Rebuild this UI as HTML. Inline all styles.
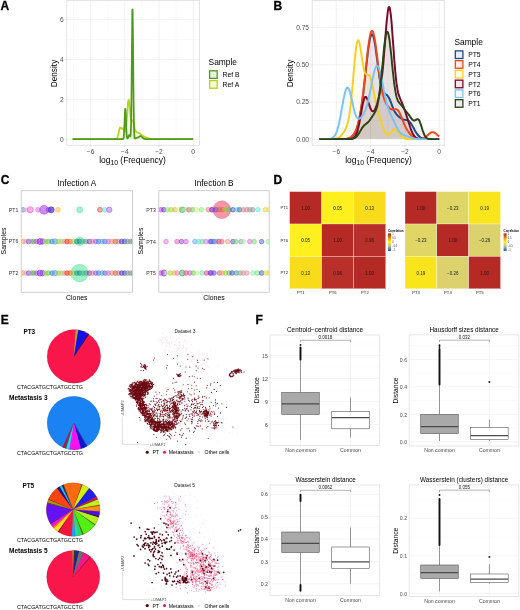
<!DOCTYPE html>
<html lang="en"><head><meta charset="utf-8"><title>Figure</title>
<style>
html,body{margin:0;padding:0;background:#fff;}
svg{display:block;font-family:"Liberation Sans", sans-serif;}
</style></head><body>
<svg width="520" height="610" viewBox="0 0 520 610">
<rect width="520" height="610" fill="#fff"/>
<text x="0.6" y="9.9" font-size="12" font-weight="bold" stroke="#000" stroke-width="0.3">A</text>
<line x1="73.5" y1="0.5" x2="73.5" y2="145.3" stroke="#f5f5f5" stroke-width="0.5"/>
<line x1="107.7" y1="0.5" x2="107.7" y2="145.3" stroke="#f5f5f5" stroke-width="0.5"/>
<line x1="141.9" y1="0.5" x2="141.9" y2="145.3" stroke="#f5f5f5" stroke-width="0.5"/>
<line x1="176.1" y1="0.5" x2="176.1" y2="145.3" stroke="#f5f5f5" stroke-width="0.5"/>
<line x1="66.8" y1="119.2" x2="199.6" y2="119.2" stroke="#f5f5f5" stroke-width="0.5"/>
<line x1="66.8" y1="79.4" x2="199.6" y2="79.4" stroke="#f5f5f5" stroke-width="0.5"/>
<line x1="66.8" y1="39.6" x2="199.6" y2="39.6" stroke="#f5f5f5" stroke-width="0.5"/>
<line x1="66.8" y1="-0.2" x2="199.6" y2="-0.2" stroke="#f5f5f5" stroke-width="0.5"/>
<line x1="90.6" y1="0.5" x2="90.6" y2="145.3" stroke="#eeeeee" stroke-width="0.8"/>
<line x1="124.8" y1="0.5" x2="124.8" y2="145.3" stroke="#eeeeee" stroke-width="0.8"/>
<line x1="159" y1="0.5" x2="159" y2="145.3" stroke="#eeeeee" stroke-width="0.8"/>
<line x1="193.2" y1="0.5" x2="193.2" y2="145.3" stroke="#eeeeee" stroke-width="0.8"/>
<line x1="66.8" y1="139.1" x2="199.6" y2="139.1" stroke="#eeeeee" stroke-width="0.8"/>
<line x1="66.8" y1="99.3" x2="199.6" y2="99.3" stroke="#eeeeee" stroke-width="0.8"/>
<line x1="66.8" y1="59.5" x2="199.6" y2="59.5" stroke="#eeeeee" stroke-width="0.8"/>
<line x1="66.8" y1="19.7" x2="199.6" y2="19.7" stroke="#eeeeee" stroke-width="0.8"/>
<clipPath id="cA"><rect x="66.8" y="0.5" width="132.8" height="144.8"/></clipPath>
<g clip-path="url(#cA)">
<polygon points="72.6,139.1 115.1,139.1 115.4,139 115.7,139 116,138.9 116.3,138.8 116.6,138.6 116.8,138.3 117.1,137.9 117.4,137.3 117.7,136.5 118,135.5 118.3,134.3 118.6,133.1 118.9,131.7 119.1,130.4 119.4,129.3 119.7,128.3 120,127.7 120.3,127.5 120.6,127.5 120.9,127.8 121.2,128.2 121.4,128.6 121.7,128.9 122,129 122.3,128.9 122.6,128.7 122.9,128.4 123.2,128.2 123.5,128.2 123.7,128.5 124,129 124.3,129.7 124.6,130.4 124.9,131.1 125.2,131.4 125.5,131.2 125.7,130.3 126,128.6 126.3,126.1 126.6,122.8 126.9,118.8 127.2,114.4 127.5,110.1 127.8,106.1 128,102.8 128.3,100.7 128.6,99.8 128.9,100.2 129.2,101.8 129.5,104.3 129.8,107.4 130.1,110.5 130.3,113.5 130.6,116 130.9,117.9 131.2,119.1 131.5,119.9 131.8,120.3 132.1,120.4 132.3,120.6 132.6,120.8 132.9,121.3 133.2,122 133.5,122.9 133.8,124 134.1,125.2 134.4,126.5 134.6,127.7 134.9,128.8 135.2,129.7 135.5,130.5 135.8,131.1 136.1,131.6 136.4,131.9 136.7,132.2 136.9,132.3 137.2,132.4 137.5,132.5 137.8,132.6 138.1,132.7 138.4,132.8 138.7,132.9 139,133 139.2,133.2 139.5,133.4 139.8,133.6 140.1,133.8 140.4,134 140.7,134.3 141,134.5 141.2,134.8 141.5,135 141.8,135.2 142.1,135.4 142.4,135.6 142.7,135.8 143,136 143.3,136.2 143.5,136.3 143.8,136.5 144.1,136.6 144.4,136.7 144.7,136.9 145,137 145.3,137.1 145.6,137.2 145.8,137.3 146.1,137.5 146.4,137.6 146.7,137.7 147,137.8 147.3,138 147.6,138.1 147.8,138.2 148.1,138.3 148.4,138.4 148.7,138.5 149,138.6 149.3,138.7 149.6,138.8 149.9,138.8 150.1,138.9 150.4,138.9 150.7,139 151.9,139 152.2,139.1 193.2,139.1" fill="#b8d416" fill-opacity="0.1" stroke="none"/>
<polygon points="72.6,139.1 122.6,139.1 122.9,139 123.2,138.9 123.5,138.3 123.7,136.9 124,133.9 124.3,128.5 124.6,121.2 124.9,113.7 125.2,108.9 125.5,109 125.7,113.9 126,121.4 126.3,128.7 126.6,133.9 126.9,136.9 127.2,138.1 127.5,138.4 127.8,138.2 128,137.6 128.3,136.9 128.6,136.1 128.9,135.4 129.2,135.1 129.5,135.3 129.8,135.7 130.1,136.3 130.3,136.4 130.6,134.9 130.9,129.4 131.2,116.7 131.5,94.3 131.8,63.1 132.1,30.8 132.3,9.8 132.6,9.5 132.9,30.2 133.2,62.4 133.5,93.7 133.8,116.6 134.1,129.6 134.4,135.6 134.6,137.8 134.9,138.5 135.2,138.5 135.5,138.4 135.8,138.3 136.1,138.1 136.4,138 136.7,137.9 136.9,137.8 137.2,137.7 137.5,137.6 137.8,137.5 138.1,137.4 138.4,137.3 138.7,137.1 139,136.9 139.2,136.7 139.5,136.5 139.8,136.3 140.1,136.2 140.4,136.1 140.7,136.1 141,136.2 141.2,136.4 141.5,136.6 141.8,136.9 142.1,137.1 142.4,137.5 142.7,137.7 143,138 143.3,138.3 143.5,138.5 143.8,138.6 144.1,138.8 144.4,138.9 144.7,138.9 145,139 145.3,139 145.6,139.1 193.2,139.1" fill="#4f9a1c" fill-opacity="0.1" stroke="none"/>
<polyline points="72.6,139.1 115.1,139.1 115.4,139 115.7,139 116,138.9 116.3,138.8 116.6,138.6 116.8,138.3 117.1,137.9 117.4,137.3 117.7,136.5 118,135.5 118.3,134.3 118.6,133.1 118.9,131.7 119.1,130.4 119.4,129.3 119.7,128.3 120,127.7 120.3,127.5 120.6,127.5 120.9,127.8 121.2,128.2 121.4,128.6 121.7,128.9 122,129 122.3,128.9 122.6,128.7 122.9,128.4 123.2,128.2 123.5,128.2 123.7,128.5 124,129 124.3,129.7 124.6,130.4 124.9,131.1 125.2,131.4 125.5,131.2 125.7,130.3 126,128.6 126.3,126.1 126.6,122.8 126.9,118.8 127.2,114.4 127.5,110.1 127.8,106.1 128,102.8 128.3,100.7 128.6,99.8 128.9,100.2 129.2,101.8 129.5,104.3 129.8,107.4 130.1,110.5 130.3,113.5 130.6,116 130.9,117.9 131.2,119.1 131.5,119.9 131.8,120.3 132.1,120.4 132.3,120.6 132.6,120.8 132.9,121.3 133.2,122 133.5,122.9 133.8,124 134.1,125.2 134.4,126.5 134.6,127.7 134.9,128.8 135.2,129.7 135.5,130.5 135.8,131.1 136.1,131.6 136.4,131.9 136.7,132.2 136.9,132.3 137.2,132.4 137.5,132.5 137.8,132.6 138.1,132.7 138.4,132.8 138.7,132.9 139,133 139.2,133.2 139.5,133.4 139.8,133.6 140.1,133.8 140.4,134 140.7,134.3 141,134.5 141.2,134.8 141.5,135 141.8,135.2 142.1,135.4 142.4,135.6 142.7,135.8 143,136 143.3,136.2 143.5,136.3 143.8,136.5 144.1,136.6 144.4,136.7 144.7,136.9 145,137 145.3,137.1 145.6,137.2 145.8,137.3 146.1,137.5 146.4,137.6 146.7,137.7 147,137.8 147.3,138 147.6,138.1 147.8,138.2 148.1,138.3 148.4,138.4 148.7,138.5 149,138.6 149.3,138.7 149.6,138.8 149.9,138.8 150.1,138.9 150.4,138.9 150.7,139 151.9,139 152.2,139.1 193.2,139.1" fill="none" stroke="#b8d416" stroke-width="1.75" stroke-linejoin="round"/>
<polyline points="72.6,139.1 122.6,139.1 122.9,139 123.2,138.9 123.5,138.3 123.7,136.9 124,133.9 124.3,128.5 124.6,121.2 124.9,113.7 125.2,108.9 125.5,109 125.7,113.9 126,121.4 126.3,128.7 126.6,133.9 126.9,136.9 127.2,138.1 127.5,138.4 127.8,138.2 128,137.6 128.3,136.9 128.6,136.1 128.9,135.4 129.2,135.1 129.5,135.3 129.8,135.7 130.1,136.3 130.3,136.4 130.6,134.9 130.9,129.4 131.2,116.7 131.5,94.3 131.8,63.1 132.1,30.8 132.3,9.8 132.6,9.5 132.9,30.2 133.2,62.4 133.5,93.7 133.8,116.6 134.1,129.6 134.4,135.6 134.6,137.8 134.9,138.5 135.2,138.5 135.5,138.4 135.8,138.3 136.1,138.1 136.4,138 136.7,137.9 136.9,137.8 137.2,137.7 137.5,137.6 137.8,137.5 138.1,137.4 138.4,137.3 138.7,137.1 139,136.9 139.2,136.7 139.5,136.5 139.8,136.3 140.1,136.2 140.4,136.1 140.7,136.1 141,136.2 141.2,136.4 141.5,136.6 141.8,136.9 142.1,137.1 142.4,137.5 142.7,137.7 143,138 143.3,138.3 143.5,138.5 143.8,138.6 144.1,138.8 144.4,138.9 144.7,138.9 145,139 145.3,139 145.6,139.1 193.2,139.1" fill="none" stroke="#4f9a1c" stroke-width="1.75" stroke-linejoin="round"/>
</g>
<rect x="66.8" y="0.5" width="132.8" height="144.8" fill="none" stroke="#dedede" stroke-width="0.8"/>
<line x1="90.6" y1="145.3" x2="90.6" y2="146.9" stroke="#c8c8c8" stroke-width="0.6"/>
<text x="90.6" y="153.5" font-size="6.6" text-anchor="middle" fill="#4d4d4d">−6</text>
<line x1="124.8" y1="145.3" x2="124.8" y2="146.9" stroke="#c8c8c8" stroke-width="0.6"/>
<text x="124.8" y="153.5" font-size="6.6" text-anchor="middle" fill="#4d4d4d">−4</text>
<line x1="159" y1="145.3" x2="159" y2="146.9" stroke="#c8c8c8" stroke-width="0.6"/>
<text x="159" y="153.5" font-size="6.6" text-anchor="middle" fill="#4d4d4d">−2</text>
<line x1="193.2" y1="145.3" x2="193.2" y2="146.9" stroke="#c8c8c8" stroke-width="0.6"/>
<text x="193.2" y="153.5" font-size="6.6" text-anchor="middle" fill="#4d4d4d">0</text>
<line x1="65.2" y1="139.1" x2="66.8" y2="139.1" stroke="#c8c8c8" stroke-width="0.6"/>
<text x="63.6" y="141.5" font-size="6.6" text-anchor="end" fill="#4d4d4d">0</text>
<line x1="65.2" y1="99.3" x2="66.8" y2="99.3" stroke="#c8c8c8" stroke-width="0.6"/>
<text x="63.6" y="101.7" font-size="6.6" text-anchor="end" fill="#4d4d4d">2</text>
<line x1="65.2" y1="59.5" x2="66.8" y2="59.5" stroke="#c8c8c8" stroke-width="0.6"/>
<text x="63.6" y="61.9" font-size="6.6" text-anchor="end" fill="#4d4d4d">4</text>
<line x1="65.2" y1="19.7" x2="66.8" y2="19.7" stroke="#c8c8c8" stroke-width="0.6"/>
<text x="63.6" y="22.1" font-size="6.6" text-anchor="end" fill="#4d4d4d">6</text>
<text x="57.3" y="73.5" font-size="8.3" text-anchor="middle" transform="rotate(-90 57.3 73.5)">Density</text>
<text x="132.5" y="163.2" font-size="8.45" text-anchor="middle">log<tspan font-size="6.8" dy="2.2">10</tspan><tspan dy="-2.2"> (Frequency)</tspan></text>
<text x="208.6" y="64.6" font-size="8.4">Sample</text>
<rect x="209.6" y="70.8" width="7.6" height="7.6" fill="#4f9a1c22" stroke="#4f9a1c" stroke-width="1.3"/>
<text x="222.6" y="77.2" font-size="6.8">Ref B</text>
<rect x="209.6" y="80.6" width="7.6" height="7.6" fill="#b8d41622" stroke="#b8d416" stroke-width="1.3"/>
<text x="222.6" y="87" font-size="6.8">Ref A</text>
<text x="273.5" y="9.9" font-size="12" font-weight="bold" stroke="#000" stroke-width="0.3">B</text>
<line x1="319.15" y1="0.5" x2="319.15" y2="145.3" stroke="#f5f5f5" stroke-width="0.5"/>
<line x1="353.45" y1="0.5" x2="353.45" y2="145.3" stroke="#f5f5f5" stroke-width="0.5"/>
<line x1="387.75" y1="0.5" x2="387.75" y2="145.3" stroke="#f5f5f5" stroke-width="0.5"/>
<line x1="422.05" y1="0.5" x2="422.05" y2="145.3" stroke="#f5f5f5" stroke-width="0.5"/>
<line x1="312.2" y1="120.52" x2="444.6" y2="120.52" stroke="#f5f5f5" stroke-width="0.5"/>
<line x1="312.2" y1="83.38" x2="444.6" y2="83.38" stroke="#f5f5f5" stroke-width="0.5"/>
<line x1="312.2" y1="46.22" x2="444.6" y2="46.22" stroke="#f5f5f5" stroke-width="0.5"/>
<line x1="312.2" y1="9.07" x2="444.6" y2="9.07" stroke="#f5f5f5" stroke-width="0.5"/>
<line x1="336.3" y1="0.5" x2="336.3" y2="145.3" stroke="#eeeeee" stroke-width="0.8"/>
<line x1="370.6" y1="0.5" x2="370.6" y2="145.3" stroke="#eeeeee" stroke-width="0.8"/>
<line x1="404.9" y1="0.5" x2="404.9" y2="145.3" stroke="#eeeeee" stroke-width="0.8"/>
<line x1="439.2" y1="0.5" x2="439.2" y2="145.3" stroke="#eeeeee" stroke-width="0.8"/>
<line x1="312.2" y1="139.1" x2="444.6" y2="139.1" stroke="#eeeeee" stroke-width="0.8"/>
<line x1="312.2" y1="101.95" x2="444.6" y2="101.95" stroke="#eeeeee" stroke-width="0.8"/>
<line x1="312.2" y1="64.8" x2="444.6" y2="64.8" stroke="#eeeeee" stroke-width="0.8"/>
<line x1="312.2" y1="27.65" x2="444.6" y2="27.65" stroke="#eeeeee" stroke-width="0.8"/>
<clipPath id="cB"><rect x="312.2" y="0.5" width="132.4" height="144.8"/></clipPath>
<g clip-path="url(#cB)">
<polygon points="319.2,139.1 344,139.1 344.3,139 346,139 346.3,138.9 346.9,138.9 347.2,138.8 347.4,138.8 347.7,138.7 348,138.7 348.3,138.6 348.6,138.5 348.9,138.5 349.2,138.4 349.4,138.3 349.7,138.2 350,138 350.3,137.9 350.6,137.7 350.9,137.6 351.2,137.4 351.4,137.2 351.7,137 352,136.7 352.3,136.5 352.6,136.2 352.9,135.9 353.2,135.5 353.4,135.2 353.7,134.8 354,134.4 354.3,133.9 354.6,133.4 354.9,132.9 355.2,132.4 355.5,131.8 355.7,131.2 356,130.5 356.3,129.8 356.6,129 356.9,128.2 357.2,127.3 357.5,126.4 357.7,125.5 358,124.4 358.3,123.3 358.6,122.2 358.9,121 359.2,119.7 359.5,118.4 359.7,117 360,115.5 360.3,113.9 360.6,112.3 360.9,110.6 361.2,108.8 361.5,107 361.7,105 362,103 362.3,100.9 362.6,98.8 362.9,96.6 363.2,94.3 363.5,91.9 363.7,89.5 364,87 364.3,84.5 364.6,82 364.9,79.4 365.2,76.7 365.5,74.1 365.7,71.5 366,68.8 366.3,66.2 366.6,63.6 366.9,61 367.2,58.5 367.5,56.1 367.7,53.7 368,51.4 368.3,49.2 368.6,47.1 368.9,45.2 369.2,43.3 369.5,41.6 369.7,40.1 370,38.8 370.3,37.6 370.6,36.5 370.9,35.7 371.2,35.1 371.5,34.6 371.7,34.4 372,34.3 372.3,34.4 372.6,34.8 372.9,35.3 373.2,36 373.5,36.9 373.7,37.9 374,39.2 374.3,40.6 374.6,42.1 374.9,43.8 375.2,45.5 375.5,47.4 375.7,49.4 376,51.5 376.3,53.6 376.6,55.8 376.9,58 377.2,60.2 377.5,62.5 377.7,64.7 378,66.9 378.3,69.1 378.6,71.2 378.9,73.2 379.2,75.2 379.5,77.1 379.7,78.9 380,80.6 380.3,82.2 380.6,83.7 380.9,85.1 381.2,86.3 381.5,87.5 381.7,88.5 382,89.4 382.3,90.2 382.6,91 382.9,91.6 383.2,92.1 383.5,92.6 383.7,92.9 384,93.2 384.3,93.5 384.6,93.7 384.9,93.9 385.2,94.1 385.5,94.2 385.7,94.4 386,94.5 386.3,94.7 386.6,94.9 386.9,95.1 387.2,95.3 387.5,95.6 387.8,95.9 388,96.3 388.3,96.7 388.6,97.2 388.9,97.7 389.2,98.3 389.5,98.9 389.8,99.5 390,100.2 390.3,100.9 390.6,101.6 390.9,102.4 391.2,103.2 391.5,103.9 391.8,104.7 392,105.5 392.3,106.2 392.6,107 392.9,107.7 393.2,108.4 393.5,109.1 393.8,109.7 394,110.3 394.3,110.9 394.6,111.4 394.9,112 395.2,112.4 395.5,112.9 395.8,113.3 396,113.7 396.3,114.1 396.6,114.4 396.9,114.8 397.2,115.1 397.5,115.4 397.8,115.6 398,115.9 398.3,116.2 398.6,116.4 398.9,116.7 399.2,116.9 399.5,117.1 399.8,117.4 400,117.6 400.3,117.8 400.6,118 400.9,118.2 401.2,118.4 401.5,118.5 401.8,118.7 402,118.9 402.3,119 402.6,119.1 402.9,119.3 403.2,119.4 403.5,119.5 403.8,119.5 404,119.6 404.3,119.7 404.6,119.7 404.9,119.8 405.2,119.8 405.5,119.9 406,119.9 406.3,120 406.6,120.1 406.9,120.1 407.2,120.2 407.5,120.3 407.8,120.4 408,120.6 408.3,120.7 408.6,120.9 408.9,121.1 409.2,121.4 409.5,121.6 409.8,121.9 410,122.3 410.3,122.6 410.6,123 410.9,123.4 411.2,123.8 411.5,124.2 411.8,124.7 412,125.2 412.3,125.7 412.6,126.2 412.9,126.7 413.2,127.2 413.5,127.7 413.8,128.3 414,128.8 414.3,129.3 414.6,129.9 414.9,130.4 415.2,130.9 415.5,131.4 415.8,131.9 416,132.3 416.3,132.8 416.6,133.2 416.9,133.7 417.2,134.1 417.5,134.5 417.8,134.8 418,135.2 418.3,135.5 418.6,135.8 418.9,136.1 419.2,136.4 419.5,136.6 419.8,136.9 420,137.1 420.3,137.3 420.6,137.5 420.9,137.7 421.2,137.8 421.5,137.9 421.8,138.1 422,138.2 422.3,138.3 422.6,138.4 422.9,138.5 423.2,138.6 423.5,138.6 423.8,138.7 424.1,138.7 424.3,138.8 424.6,138.8 424.9,138.9 425.5,138.9 425.8,139 427.5,139 427.8,139.1 439.2,139.1" fill="#1b4a8a" fill-opacity="0.07" stroke="none"/>
<polygon points="319.2,139.1 342.9,139.1 343.2,139 344.9,139 345.2,138.9 345.7,138.9 346,138.8 346.6,138.8 346.9,138.7 347.2,138.6 347.4,138.6 347.7,138.5 348,138.4 348.3,138.3 348.6,138.3 348.9,138.1 349.2,138 349.4,137.9 349.7,137.8 350,137.6 350.3,137.5 350.6,137.3 350.9,137.1 351.2,136.9 351.4,136.6 351.7,136.4 352,136.1 352.3,135.9 352.6,135.5 352.9,135.2 353.2,134.9 353.4,134.5 353.7,134.1 354,133.7 354.3,133.2 354.6,132.7 354.9,132.2 355.2,131.7 355.5,131.1 355.7,130.4 356,129.8 356.3,129.1 356.6,128.3 356.9,127.5 357.2,126.7 357.5,125.7 357.7,124.8 358,123.8 358.3,122.7 358.6,121.5 358.9,120.3 359.2,119 359.5,117.7 359.7,116.3 360,114.7 360.3,113.2 360.6,111.5 360.9,109.7 361.2,107.9 361.5,106 361.7,104 362,101.9 362.3,99.8 362.6,97.5 362.9,95.2 363.2,92.8 363.5,90.4 363.7,87.9 364,85.3 364.3,82.7 364.6,80 364.9,77.4 365.2,74.6 365.5,71.9 365.7,69.2 366,66.5 366.3,63.8 366.6,61.1 366.9,58.4 367.2,55.9 367.5,53.3 367.7,50.9 368,48.5 368.3,46.3 368.6,44.2 368.9,42.1 369.2,40.3 369.5,38.5 369.7,37 370,35.6 370.3,34.3 370.6,33.3 370.9,32.4 371.2,31.7 371.5,31.2 371.7,30.9 372,30.9 372.3,31 372.6,31.3 372.9,31.7 373.2,32.4 373.5,33.3 373.7,34.3 374,35.5 374.3,36.9 374.6,38.4 374.9,40 375.2,41.8 375.5,43.7 375.7,45.7 376,47.8 376.3,49.9 376.6,52.2 376.9,54.4 377.2,56.7 377.5,59.1 377.7,61.4 378,63.8 378.3,66.1 378.6,68.4 378.9,70.6 379.2,72.8 379.5,75 379.7,77.1 380,79.1 380.3,81.1 380.6,82.9 380.9,84.7 381.2,86.4 381.5,88 381.7,89.5 382,90.9 382.3,92.2 382.6,93.5 382.9,94.6 383.2,95.7 383.5,96.7 383.7,97.7 384,98.5 384.3,99.3 384.6,100.1 384.9,100.8 385.2,101.4 385.5,102 385.7,102.6 386,103.2 386.3,103.7 386.6,104.2 386.9,104.6 387.2,105.1 387.5,105.5 387.8,105.9 388,106.3 388.3,106.6 388.6,107 388.9,107.3 389.2,107.7 389.5,108 389.8,108.2 390,108.5 390.3,108.7 390.6,108.9 390.9,109.1 391.2,109.2 391.5,109.4 391.8,109.5 392,109.5 392.3,109.6 393.5,109.6 393.8,109.5 394,109.5 394.3,109.4 394.6,109.4 394.9,109.3 395.2,109.3 395.5,109.2 395.8,109.2 396,109.3 396.3,109.3 396.6,109.4 396.9,109.5 397.2,109.7 397.5,109.9 397.8,110.2 398,110.4 398.3,110.8 398.6,111.2 398.9,111.6 399.2,112.1 399.5,112.6 399.8,113.2 400,113.7 400.3,114.4 400.6,115 400.9,115.7 401.2,116.4 401.5,117.1 401.8,117.8 402,118.6 402.3,119.3 402.6,120.1 402.9,120.8 403.2,121.5 403.5,122.2 403.8,122.9 404,123.6 404.3,124.3 404.6,124.9 404.9,125.6 405.2,126.2 405.5,126.8 405.8,127.3 406,127.9 406.3,128.4 406.6,128.9 406.9,129.4 407.2,129.9 407.5,130.4 407.8,130.8 408,131.2 408.3,131.7 408.6,132.1 408.9,132.5 409.2,132.8 409.5,133.2 409.8,133.6 410,133.9 410.3,134.3 410.6,134.6 410.9,134.9 411.2,135.2 411.5,135.5 411.8,135.8 412,136 412.3,136.3 412.6,136.5 412.9,136.8 413.2,137 413.5,137.2 413.8,137.4 414,137.6 414.3,137.7 414.6,137.9 414.9,138 415.2,138.1 415.5,138.2 415.8,138.3 416,138.4 416.3,138.5 416.6,138.6 416.9,138.7 417.2,138.7 417.5,138.8 418,138.8 418.3,138.9 420,138.9 420.3,138.8 421.2,138.8 421.5,138.7 421.8,138.6 422,138.6 422.3,138.5 422.6,138.4 422.9,138.3 423.2,138.2 423.5,138.1 423.8,138 424.1,137.9 424.3,137.7 424.6,137.6 424.9,137.4 425.2,137.2 425.5,137 425.8,136.8 426.1,136.6 426.3,136.4 426.6,136.1 426.9,135.9 427.2,135.6 427.5,135.4 427.8,135.1 428.1,134.9 428.3,134.6 428.6,134.3 428.9,134.1 429.2,133.8 429.5,133.6 429.8,133.4 430.1,133.2 430.3,133 430.6,132.8 430.9,132.6 431.2,132.5 431.5,132.3 431.8,132.3 432.1,132.2 432.3,132.1 432.9,132.1 433.2,132.2 433.5,132.2 433.8,132.3 434.1,132.4 434.3,132.5 434.6,132.7 434.9,132.9 435.2,133.1 435.5,133.3 435.8,133.5 436.1,133.7 436.3,134 436.6,134.2 436.9,134.5 437.2,134.8 437.5,135 437.8,135.3 438.1,135.5 438.3,135.8 438.6,136 438.9,136.3 439.2,136.5" fill="#f2461a" fill-opacity="0.07" stroke="none"/>
<polygon points="319.2,139.1 332.9,139.1 333.2,139 334.6,139 334.9,138.9 335.2,138.9 335.4,138.8 335.7,138.8 336,138.7 336.3,138.7 336.6,138.6 336.9,138.5 337.2,138.4 337.4,138.3 337.7,138.2 338,138.1 338.3,137.9 338.6,137.8 338.9,137.6 339.2,137.4 339.4,137.2 339.7,137 340,136.7 340.3,136.5 340.6,136.2 340.9,135.9 341.2,135.6 341.4,135.3 341.7,135 342,134.6 342.3,134.2 342.6,133.8 342.9,133.4 343.2,133 343.4,132.6 343.7,132.2 344,131.7 344.3,131.3 344.6,130.8 344.9,130.2 345.2,129.7 345.4,129.1 345.7,128.5 346,127.9 346.3,127.2 346.6,126.5 346.9,125.7 347.2,124.8 347.4,123.8 347.7,122.8 348,121.6 348.3,120.4 348.6,119 348.9,117.5 349.2,115.9 349.4,114.1 349.7,112.2 350,110.1 350.3,107.9 350.6,105.6 350.9,103 351.2,100.4 351.4,97.6 351.7,94.6 352,91.6 352.3,88.4 352.6,85.2 352.9,81.9 353.2,78.5 353.4,75.2 353.7,71.8 354,68.5 354.3,65.2 354.6,62.1 354.9,59 355.2,56.2 355.5,53.4 355.7,50.9 356,48.6 356.3,46.6 356.6,44.8 356.9,43.3 357.2,42.1 357.5,41.2 357.7,40.6 358,40.3 358.3,40.2 358.6,40.5 358.9,41 359.2,41.8 359.5,42.9 359.7,44.1 360,45.5 360.3,47.1 360.6,48.8 360.9,50.6 361.2,52.5 361.5,54.5 361.7,56.4 362,58.3 362.3,60.2 362.6,62 362.9,63.8 363.2,65.4 363.5,66.9 363.7,68.3 364,69.5 364.3,70.6 364.6,71.6 364.9,72.4 365.2,73 365.5,73.6 365.7,74 366,74.3 366.3,74.5 366.6,74.6 366.9,74.7 367.2,74.8 368,74.8 368.3,74.9 368.6,74.9 368.9,75.1 369.2,75.3 369.5,75.7 369.7,76.1 370,76.6 370.3,77.2 370.6,77.9 370.9,78.7 371.2,79.7 371.5,80.7 371.7,81.8 372,83 372.3,84.3 372.6,85.7 372.9,87.1 373.2,88.6 373.5,90.1 373.7,91.6 374,93.1 374.3,94.7 374.6,96.2 374.9,97.7 375.2,99.1 375.5,100.6 375.7,101.9 376,103.3 376.3,104.6 376.6,105.8 376.9,107 377.2,108.1 377.5,109.2 377.7,110.2 378,111.2 378.3,112.2 378.6,113.1 378.9,114.1 379.2,115 379.5,115.9 379.7,116.8 380,117.7 380.3,118.5 380.6,119.4 380.9,120.3 381.2,121.2 381.5,122.1 381.7,123 382,123.9 382.3,124.8 382.6,125.7 382.9,126.6 383.2,127.4 383.5,128.2 383.7,129 384,129.8 384.3,130.5 384.6,131.1 384.9,131.7 385.2,132.3 385.5,132.8 385.7,133.2 386,133.6 386.3,133.9 386.6,134.2 386.9,134.4 387.2,134.5 387.5,134.6 388,134.6 388.3,134.5 388.6,134.4 388.9,134.2 389.2,134 389.5,133.8 389.8,133.5 390,133.2 390.3,132.9 390.6,132.6 390.9,132.2 391.2,131.9 391.5,131.6 391.8,131.3 392,130.9 392.3,130.7 392.6,130.4 392.9,130.1 393.2,129.9 393.5,129.8 393.8,129.6 394,129.5 394.3,129.5 394.6,129.4 394.9,129.5 395.2,129.5 395.5,129.6 395.8,129.8 396,130 396.3,130.2 396.6,130.4 396.9,130.7 397.2,131 397.5,131.4 397.8,131.7 398,132.1 398.3,132.5 398.6,132.9 398.9,133.2 399.2,133.6 399.5,134 399.8,134.4 400,134.8 400.3,135.1 400.6,135.5 400.9,135.8 401.2,136.1 401.5,136.4 401.8,136.7 402,136.9 402.3,137.2 402.6,137.4 402.9,137.6 403.2,137.8 403.5,138 403.8,138.1 404,138.2 404.3,138.4 404.6,138.5 404.9,138.6 405.2,138.6 405.5,138.7 405.8,138.8 406,138.8 406.3,138.9 406.9,138.9 407.2,139 408.3,139 408.6,139.1 439.2,139.1" fill="#f7cf1e" fill-opacity="0.07" stroke="none"/>
<polygon points="319.2,139.1 349.2,139.1 349.4,139 350.6,139 350.9,138.9 351.2,138.9 351.4,138.8 351.7,138.8 352,138.7 352.3,138.6 352.6,138.5 352.9,138.4 353.2,138.3 353.4,138.1 353.7,137.9 354,137.7 354.3,137.4 354.6,137.1 354.9,136.8 355.2,136.4 355.5,135.9 355.7,135.4 356,134.9 356.3,134.2 356.6,133.5 356.9,132.7 357.2,131.9 357.5,131 357.7,129.9 358,128.8 358.3,127.7 358.6,126.4 358.9,125.1 359.2,123.7 359.5,122.2 359.7,120.7 360,119.2 360.3,117.5 360.6,115.9 360.9,114.3 361.2,112.6 361.5,111 361.7,109.3 362,107.8 362.3,106.2 362.6,104.8 362.9,103.4 363.2,102.2 363.5,101 363.7,100 364,99.1 364.3,98.4 364.6,97.8 364.9,97.3 365.2,97 365.5,96.9 365.7,96.9 366,97 366.3,97.3 366.6,97.7 366.9,98.2 367.2,98.8 367.5,99.5 367.7,100.3 368,101.1 368.3,102 368.6,102.9 368.9,103.8 369.2,104.7 369.5,105.6 369.7,106.4 370,107.2 370.3,108 370.6,108.6 370.9,109.3 371.2,109.8 371.5,110.3 371.7,110.6 372,110.9 372.3,111.2 372.6,111.3 373.2,111.3 373.5,111.2 373.7,111 374,110.7 374.3,110.4 374.6,110 374.9,109.5 375.2,109 375.5,108.4 375.7,107.7 376,107 376.3,106.2 376.6,105.4 376.9,104.5 377.2,103.5 377.5,102.5 377.7,101.4 378,100.3 378.3,99.1 378.6,97.9 378.9,96.6 379.2,95.2 379.5,93.7 379.7,92.2 380,90.6 380.3,88.9 380.6,87.1 380.9,85.1 381.2,83.1 381.5,81 381.7,78.7 382,76.2 382.3,73.6 382.6,70.9 382.9,68 383.2,64.9 383.5,61.7 383.7,58.4 384,54.9 384.3,51.3 384.6,47.7 384.9,43.9 385.2,40.2 385.5,36.4 385.7,32.8 386,29.2 386.3,25.7 386.6,22.4 386.9,19.3 387.2,16.5 387.5,14 387.8,11.8 388,10 388.3,8.6 388.6,7.6 388.9,7.1 389.2,7 389.5,7.4 389.8,8.2 390,9.4 390.3,11.1 390.6,13.2 390.9,15.7 391.2,18.5 391.5,21.6 391.8,25 392,28.6 392.3,32.4 392.6,36.3 392.9,40.3 393.2,44.3 393.5,48.4 393.8,52.3 394,56.3 394.3,60.1 394.6,63.7 394.9,67.2 395.2,70.5 395.5,73.6 395.8,76.5 396,79.2 396.3,81.6 396.6,83.9 396.9,85.9 397.2,87.7 397.5,89.4 397.8,90.8 398,92.2 398.3,93.3 398.6,94.4 398.9,95.3 399.2,96.2 399.5,97 399.8,97.7 400,98.4 400.3,99.1 400.6,99.7 400.9,100.4 401.2,101 401.5,101.6 401.8,102.3 402,103 402.3,103.7 402.6,104.4 402.9,105.1 403.2,105.8 403.5,106.6 403.8,107.4 404,108.2 404.3,109 404.6,109.8 404.9,110.7 405.2,111.5 405.5,112.4 405.8,113.3 406,114.1 406.3,115 406.6,115.9 406.9,116.8 407.2,117.7 407.5,118.6 407.8,119.5 408,120.4 408.3,121.3 408.6,122.3 408.9,123.1 409.2,124 409.5,124.9 409.8,125.8 410,126.6 410.3,127.5 410.6,128.3 410.9,129.1 411.2,129.8 411.5,130.6 411.8,131.3 412,131.9 412.3,132.6 412.6,133.2 412.9,133.8 413.2,134.3 413.5,134.8 413.8,135.3 414,135.7 414.3,136.1 414.6,136.4 414.9,136.7 415.2,137 415.5,137.3 415.8,137.5 416,137.8 416.3,137.9 416.6,138.1 416.9,138.3 417.2,138.4 417.5,138.5 417.8,138.6 418,138.7 418.3,138.7 418.6,138.8 418.9,138.9 419.5,138.9 419.8,139 420.9,139 421.2,139.1 439.2,139.1" fill="#7a0a2a" fill-opacity="0.07" stroke="none"/>
<polygon points="319.2,139.1 326.9,139.1 327.2,139 328.6,139 328.9,138.9 329.4,138.9 329.7,138.8 330,138.8 330.3,138.7 330.6,138.6 330.9,138.6 331.2,138.5 331.4,138.4 331.7,138.3 332,138.1 332.3,138 332.6,137.8 332.9,137.6 333.2,137.4 333.4,137.1 333.7,136.8 334,136.5 334.3,136.2 334.6,135.8 334.9,135.4 335.2,134.9 335.4,134.4 335.7,133.9 336,133.2 336.3,132.6 336.6,131.9 336.9,131.1 337.2,130.3 337.4,129.4 337.7,128.4 338,127.4 338.3,126.3 338.6,125.2 338.9,124 339.2,122.7 339.4,121.4 339.7,120 340,118.6 340.3,117.1 340.6,115.6 340.9,114.1 341.2,112.5 341.4,110.9 341.7,109.3 342,107.7 342.3,106.1 342.6,104.4 342.9,102.9 343.2,101.3 343.4,99.8 343.7,98.3 344,96.9 344.3,95.6 344.6,94.3 344.9,93.1 345.2,92 345.4,91 345.7,90.2 346,89.4 346.3,88.8 346.6,88.3 346.9,87.9 347.2,87.7 347.4,87.6 347.7,87.6 348,87.7 348.3,88 348.6,88.4 348.9,89 349.2,89.6 349.4,90.4 349.7,91.2 350,92.2 350.3,93.2 350.6,94.3 350.9,95.5 351.2,96.7 351.4,97.9 351.7,99.2 352,100.5 352.3,101.9 352.6,103.2 352.9,104.5 353.2,105.8 353.4,107 353.7,108.2 354,109.4 354.3,110.5 354.6,111.6 354.9,112.6 355.2,113.5 355.5,114.3 355.7,115.1 356,115.8 356.3,116.4 356.6,117 356.9,117.4 357.2,117.8 357.5,118.2 357.7,118.4 358,118.6 358.3,118.7 358.6,118.8 358.9,118.8 359.2,118.7 359.5,118.7 359.7,118.5 360,118.3 360.3,118.1 360.6,117.9 360.9,117.6 361.2,117.3 361.5,117 361.7,116.6 362,116.3 362.3,115.9 362.6,115.4 362.9,115 363.2,114.5 363.5,114.1 363.7,113.5 364,113 364.3,112.4 364.6,111.8 364.9,111.2 365.2,110.5 365.5,109.8 365.7,109 366,108.2 366.3,107.4 366.6,106.5 366.9,105.6 367.2,104.6 367.5,103.5 367.7,102.4 368,101.3 368.3,100.1 368.6,98.8 368.9,97.5 369.2,96.2 369.5,94.8 369.7,93.4 370,92 370.3,90.5 370.6,89 370.9,87.5 371.2,86 371.5,84.5 371.7,83 372,81.5 372.3,80.1 372.6,78.7 372.9,77.3 373.2,75.9 373.5,74.7 373.7,73.4 374,72.3 374.3,71.2 374.6,70.2 374.9,69.3 375.2,68.5 375.5,67.8 375.7,67.2 376,66.7 376.3,66.3 376.6,66.1 376.9,65.9 377.5,65.9 377.7,66.1 378,66.4 378.3,66.9 378.6,67.4 378.9,68 379.2,68.8 379.5,69.6 379.7,70.5 380,71.6 380.3,72.7 380.6,73.8 380.9,75.1 381.2,76.4 381.5,77.7 381.7,79.1 382,80.5 382.3,82 382.6,83.5 382.9,84.9 383.2,86.4 383.5,87.9 383.7,89.4 384,90.9 384.3,92.3 384.6,93.7 384.9,95.1 385.2,96.5 385.5,97.8 385.7,99.1 386,100.3 386.3,101.5 386.6,102.6 386.9,103.7 387.2,104.7 387.5,105.7 387.8,106.7 388,107.6 388.3,108.5 388.6,109.3 388.9,110.1 389.2,110.8 389.5,111.5 389.8,112.2 390,112.9 390.3,113.6 390.6,114.2 390.9,114.8 391.2,115.5 391.5,116.1 391.8,116.7 392,117.3 392.3,117.9 392.6,118.5 392.9,119.1 393.2,119.7 393.5,120.3 393.8,120.9 394,121.5 394.3,122.1 394.6,122.8 394.9,123.4 395.2,124 395.5,124.6 395.8,125.2 396,125.8 396.3,126.4 396.6,127 396.9,127.6 397.2,128.1 397.5,128.6 397.8,129.2 398,129.7 398.3,130.1 398.6,130.6 398.9,131 399.2,131.4 399.5,131.8 399.8,132.2 400,132.5 400.3,132.8 400.6,133.1 400.9,133.4 401.2,133.6 401.5,133.8 401.8,134 402,134.2 402.3,134.4 402.6,134.5 402.9,134.7 403.2,134.8 403.5,134.9 403.8,135.1 404,135.2 404.3,135.3 404.6,135.4 404.9,135.5 405.2,135.5 405.5,135.6 405.8,135.7 406,135.8 406.3,135.9 406.6,136 406.9,136.1 407.2,136.2 407.5,136.3 407.8,136.4 408,136.5 408.3,136.6 408.6,136.7 408.9,136.8 409.2,136.9 409.5,137 409.8,137.2 410,137.3 410.3,137.4 410.6,137.5 410.9,137.6 411.2,137.7 411.5,137.8 411.8,137.9 412,138 412.3,138 412.6,138.1 412.9,138.2 413.2,138.3 413.5,138.4 413.8,138.4 414,138.5 414.3,138.5 414.6,138.6 414.9,138.7 415.5,138.7 415.8,138.8 416.3,138.8 416.6,138.9 417.2,138.9 417.5,139 419.5,139 419.8,139.1 439.2,139.1" fill="#79c3f2" fill-opacity="0.07" stroke="none"/>
<polygon points="319.2,139.1 349.4,139.1 349.7,139 351.2,139 351.4,138.9 351.7,138.9 352,138.8 352.3,138.8 352.6,138.7 352.9,138.7 353.2,138.6 353.4,138.5 353.7,138.4 354,138.3 354.3,138.2 354.6,138 354.9,137.9 355.2,137.7 355.5,137.5 355.7,137.2 356,137 356.3,136.7 356.6,136.4 356.9,136.1 357.2,135.8 357.5,135.4 357.7,135.1 358,134.7 358.3,134.2 358.6,133.8 358.9,133.4 359.2,132.9 359.5,132.4 359.7,131.9 360,131.4 360.3,131 360.6,130.5 360.9,130 361.2,129.5 361.5,129 361.7,128.6 362,128.1 362.3,127.7 362.6,127.3 362.9,126.9 363.2,126.5 363.5,126.2 363.7,125.9 364,125.6 364.3,125.3 364.6,125 364.9,124.8 365.2,124.5 365.5,124.3 365.7,124.1 366,123.9 366.3,123.6 366.6,123.4 366.9,123.2 367.2,122.9 367.5,122.7 367.7,122.4 368,122.2 368.3,121.9 368.6,121.6 368.9,121.2 369.2,120.9 369.5,120.5 369.7,120.2 370,119.8 370.3,119.4 370.6,119 370.9,118.6 371.2,118.1 371.5,117.7 371.7,117.3 372,116.9 372.3,116.4 372.6,116 372.9,115.6 373.2,115.1 373.5,114.7 373.7,114.3 374,113.8 374.3,113.3 374.6,112.8 374.9,112.3 375.2,111.7 375.5,111.2 375.7,110.5 376,109.8 376.3,109 376.6,108.2 376.9,107.2 377.2,106.2 377.5,105 377.7,103.8 378,102.4 378.3,100.9 378.6,99.2 378.9,97.5 379.2,95.5 379.5,93.5 379.7,91.3 380,89 380.3,86.5 380.6,83.9 380.9,81.2 381.2,78.4 381.5,75.5 381.7,72.6 382,69.6 382.3,66.5 382.6,63.5 382.9,60.4 383.2,57.4 383.5,54.5 383.7,51.6 384,48.9 384.3,46.2 384.6,43.8 384.9,41.5 385.2,39.4 385.5,37.5 385.7,35.9 386,34.5 386.3,33.4 386.6,32.6 386.9,32.1 387.2,31.8 387.5,31.9 387.8,32.2 388,32.9 388.3,33.8 388.6,35 388.9,36.4 389.2,38.1 389.5,40 389.8,42.1 390,44.4 390.3,46.8 390.6,49.4 390.9,52.1 391.2,54.8 391.5,57.7 391.8,60.5 392,63.4 392.3,66.2 392.6,69.1 392.9,71.8 393.2,74.5 393.5,77.1 393.8,79.6 394,81.9 394.3,84.2 394.6,86.2 394.9,88.2 395.2,90 395.5,91.7 395.8,93.2 396,94.6 396.3,95.8 396.6,97 396.9,98 397.2,98.8 397.5,99.6 397.8,100.3 398,100.9 398.3,101.4 398.6,101.9 398.9,102.3 399.2,102.7 399.5,103.1 399.8,103.4 400,103.7 400.3,104 400.6,104.3 400.9,104.6 401.2,105 401.5,105.3 401.8,105.6 402,106 402.3,106.3 402.6,106.7 402.9,107.1 403.2,107.5 403.5,107.9 403.8,108.3 404,108.7 404.3,109.1 404.6,109.5 404.9,109.8 405.2,110.2 405.5,110.6 405.8,111 406,111.3 406.3,111.7 406.6,112.1 406.9,112.4 407.2,112.8 407.5,113.1 407.8,113.4 408,113.8 408.3,114.1 408.6,114.5 408.9,114.9 409.2,115.3 409.5,115.7 409.8,116.1 410,116.5 410.3,116.9 410.6,117.3 410.9,117.7 411.2,118.1 411.5,118.5 411.8,118.9 412,119.2 412.3,119.5 412.6,119.8 412.9,120 413.2,120.2 413.5,120.4 413.8,120.5 414.6,120.5 414.9,120.4 415.2,120.2 415.5,120.1 415.8,119.9 416,119.7 416.3,119.6 416.6,119.4 416.9,119.3 417.2,119.2 417.8,119.2 418,119.3 418.3,119.5 418.6,119.7 418.9,120.1 419.2,120.5 419.5,121 419.8,121.7 420,122.3 420.3,123.1 420.6,123.9 420.9,124.7 421.2,125.6 421.5,126.5 421.8,127.5 422,128.4 422.3,129.3 422.6,130.2 422.9,131.1 423.2,131.9 423.5,132.7 423.8,133.5 424.1,134.1 424.3,134.8 424.6,135.4 424.9,135.9 425.2,136.3 425.5,136.8 425.8,137.1 426.1,137.5 426.3,137.7 426.6,138 426.9,138.2 427.2,138.3 427.5,138.5 427.8,138.6 428.1,138.7 428.3,138.8 428.6,138.9 428.9,138.9 429.2,139 430.3,139 430.6,139.1 439.2,139.1" fill="#2d4216" fill-opacity="0.07" stroke="none"/>
<polyline points="319.2,139.1 344,139.1 344.3,139 346,139 346.3,138.9 346.9,138.9 347.2,138.8 347.4,138.8 347.7,138.7 348,138.7 348.3,138.6 348.6,138.5 348.9,138.5 349.2,138.4 349.4,138.3 349.7,138.2 350,138 350.3,137.9 350.6,137.7 350.9,137.6 351.2,137.4 351.4,137.2 351.7,137 352,136.7 352.3,136.5 352.6,136.2 352.9,135.9 353.2,135.5 353.4,135.2 353.7,134.8 354,134.4 354.3,133.9 354.6,133.4 354.9,132.9 355.2,132.4 355.5,131.8 355.7,131.2 356,130.5 356.3,129.8 356.6,129 356.9,128.2 357.2,127.3 357.5,126.4 357.7,125.5 358,124.4 358.3,123.3 358.6,122.2 358.9,121 359.2,119.7 359.5,118.4 359.7,117 360,115.5 360.3,113.9 360.6,112.3 360.9,110.6 361.2,108.8 361.5,107 361.7,105 362,103 362.3,100.9 362.6,98.8 362.9,96.6 363.2,94.3 363.5,91.9 363.7,89.5 364,87 364.3,84.5 364.6,82 364.9,79.4 365.2,76.7 365.5,74.1 365.7,71.5 366,68.8 366.3,66.2 366.6,63.6 366.9,61 367.2,58.5 367.5,56.1 367.7,53.7 368,51.4 368.3,49.2 368.6,47.1 368.9,45.2 369.2,43.3 369.5,41.6 369.7,40.1 370,38.8 370.3,37.6 370.6,36.5 370.9,35.7 371.2,35.1 371.5,34.6 371.7,34.4 372,34.3 372.3,34.4 372.6,34.8 372.9,35.3 373.2,36 373.5,36.9 373.7,37.9 374,39.2 374.3,40.6 374.6,42.1 374.9,43.8 375.2,45.5 375.5,47.4 375.7,49.4 376,51.5 376.3,53.6 376.6,55.8 376.9,58 377.2,60.2 377.5,62.5 377.7,64.7 378,66.9 378.3,69.1 378.6,71.2 378.9,73.2 379.2,75.2 379.5,77.1 379.7,78.9 380,80.6 380.3,82.2 380.6,83.7 380.9,85.1 381.2,86.3 381.5,87.5 381.7,88.5 382,89.4 382.3,90.2 382.6,91 382.9,91.6 383.2,92.1 383.5,92.6 383.7,92.9 384,93.2 384.3,93.5 384.6,93.7 384.9,93.9 385.2,94.1 385.5,94.2 385.7,94.4 386,94.5 386.3,94.7 386.6,94.9 386.9,95.1 387.2,95.3 387.5,95.6 387.8,95.9 388,96.3 388.3,96.7 388.6,97.2 388.9,97.7 389.2,98.3 389.5,98.9 389.8,99.5 390,100.2 390.3,100.9 390.6,101.6 390.9,102.4 391.2,103.2 391.5,103.9 391.8,104.7 392,105.5 392.3,106.2 392.6,107 392.9,107.7 393.2,108.4 393.5,109.1 393.8,109.7 394,110.3 394.3,110.9 394.6,111.4 394.9,112 395.2,112.4 395.5,112.9 395.8,113.3 396,113.7 396.3,114.1 396.6,114.4 396.9,114.8 397.2,115.1 397.5,115.4 397.8,115.6 398,115.9 398.3,116.2 398.6,116.4 398.9,116.7 399.2,116.9 399.5,117.1 399.8,117.4 400,117.6 400.3,117.8 400.6,118 400.9,118.2 401.2,118.4 401.5,118.5 401.8,118.7 402,118.9 402.3,119 402.6,119.1 402.9,119.3 403.2,119.4 403.5,119.5 403.8,119.5 404,119.6 404.3,119.7 404.6,119.7 404.9,119.8 405.2,119.8 405.5,119.9 406,119.9 406.3,120 406.6,120.1 406.9,120.1 407.2,120.2 407.5,120.3 407.8,120.4 408,120.6 408.3,120.7 408.6,120.9 408.9,121.1 409.2,121.4 409.5,121.6 409.8,121.9 410,122.3 410.3,122.6 410.6,123 410.9,123.4 411.2,123.8 411.5,124.2 411.8,124.7 412,125.2 412.3,125.7 412.6,126.2 412.9,126.7 413.2,127.2 413.5,127.7 413.8,128.3 414,128.8 414.3,129.3 414.6,129.9 414.9,130.4 415.2,130.9 415.5,131.4 415.8,131.9 416,132.3 416.3,132.8 416.6,133.2 416.9,133.7 417.2,134.1 417.5,134.5 417.8,134.8 418,135.2 418.3,135.5 418.6,135.8 418.9,136.1 419.2,136.4 419.5,136.6 419.8,136.9 420,137.1 420.3,137.3 420.6,137.5 420.9,137.7 421.2,137.8 421.5,137.9 421.8,138.1 422,138.2 422.3,138.3 422.6,138.4 422.9,138.5 423.2,138.6 423.5,138.6 423.8,138.7 424.1,138.7 424.3,138.8 424.6,138.8 424.9,138.9 425.5,138.9 425.8,139 427.5,139 427.8,139.1 439.2,139.1" fill="none" stroke="#1b4a8a" stroke-width="1.95" stroke-linejoin="round"/>
<polyline points="319.2,139.1 342.9,139.1 343.2,139 344.9,139 345.2,138.9 345.7,138.9 346,138.8 346.6,138.8 346.9,138.7 347.2,138.6 347.4,138.6 347.7,138.5 348,138.4 348.3,138.3 348.6,138.3 348.9,138.1 349.2,138 349.4,137.9 349.7,137.8 350,137.6 350.3,137.5 350.6,137.3 350.9,137.1 351.2,136.9 351.4,136.6 351.7,136.4 352,136.1 352.3,135.9 352.6,135.5 352.9,135.2 353.2,134.9 353.4,134.5 353.7,134.1 354,133.7 354.3,133.2 354.6,132.7 354.9,132.2 355.2,131.7 355.5,131.1 355.7,130.4 356,129.8 356.3,129.1 356.6,128.3 356.9,127.5 357.2,126.7 357.5,125.7 357.7,124.8 358,123.8 358.3,122.7 358.6,121.5 358.9,120.3 359.2,119 359.5,117.7 359.7,116.3 360,114.7 360.3,113.2 360.6,111.5 360.9,109.7 361.2,107.9 361.5,106 361.7,104 362,101.9 362.3,99.8 362.6,97.5 362.9,95.2 363.2,92.8 363.5,90.4 363.7,87.9 364,85.3 364.3,82.7 364.6,80 364.9,77.4 365.2,74.6 365.5,71.9 365.7,69.2 366,66.5 366.3,63.8 366.6,61.1 366.9,58.4 367.2,55.9 367.5,53.3 367.7,50.9 368,48.5 368.3,46.3 368.6,44.2 368.9,42.1 369.2,40.3 369.5,38.5 369.7,37 370,35.6 370.3,34.3 370.6,33.3 370.9,32.4 371.2,31.7 371.5,31.2 371.7,30.9 372,30.9 372.3,31 372.6,31.3 372.9,31.7 373.2,32.4 373.5,33.3 373.7,34.3 374,35.5 374.3,36.9 374.6,38.4 374.9,40 375.2,41.8 375.5,43.7 375.7,45.7 376,47.8 376.3,49.9 376.6,52.2 376.9,54.4 377.2,56.7 377.5,59.1 377.7,61.4 378,63.8 378.3,66.1 378.6,68.4 378.9,70.6 379.2,72.8 379.5,75 379.7,77.1 380,79.1 380.3,81.1 380.6,82.9 380.9,84.7 381.2,86.4 381.5,88 381.7,89.5 382,90.9 382.3,92.2 382.6,93.5 382.9,94.6 383.2,95.7 383.5,96.7 383.7,97.7 384,98.5 384.3,99.3 384.6,100.1 384.9,100.8 385.2,101.4 385.5,102 385.7,102.6 386,103.2 386.3,103.7 386.6,104.2 386.9,104.6 387.2,105.1 387.5,105.5 387.8,105.9 388,106.3 388.3,106.6 388.6,107 388.9,107.3 389.2,107.7 389.5,108 389.8,108.2 390,108.5 390.3,108.7 390.6,108.9 390.9,109.1 391.2,109.2 391.5,109.4 391.8,109.5 392,109.5 392.3,109.6 393.5,109.6 393.8,109.5 394,109.5 394.3,109.4 394.6,109.4 394.9,109.3 395.2,109.3 395.5,109.2 395.8,109.2 396,109.3 396.3,109.3 396.6,109.4 396.9,109.5 397.2,109.7 397.5,109.9 397.8,110.2 398,110.4 398.3,110.8 398.6,111.2 398.9,111.6 399.2,112.1 399.5,112.6 399.8,113.2 400,113.7 400.3,114.4 400.6,115 400.9,115.7 401.2,116.4 401.5,117.1 401.8,117.8 402,118.6 402.3,119.3 402.6,120.1 402.9,120.8 403.2,121.5 403.5,122.2 403.8,122.9 404,123.6 404.3,124.3 404.6,124.9 404.9,125.6 405.2,126.2 405.5,126.8 405.8,127.3 406,127.9 406.3,128.4 406.6,128.9 406.9,129.4 407.2,129.9 407.5,130.4 407.8,130.8 408,131.2 408.3,131.7 408.6,132.1 408.9,132.5 409.2,132.8 409.5,133.2 409.8,133.6 410,133.9 410.3,134.3 410.6,134.6 410.9,134.9 411.2,135.2 411.5,135.5 411.8,135.8 412,136 412.3,136.3 412.6,136.5 412.9,136.8 413.2,137 413.5,137.2 413.8,137.4 414,137.6 414.3,137.7 414.6,137.9 414.9,138 415.2,138.1 415.5,138.2 415.8,138.3 416,138.4 416.3,138.5 416.6,138.6 416.9,138.7 417.2,138.7 417.5,138.8 418,138.8 418.3,138.9 420,138.9 420.3,138.8 421.2,138.8 421.5,138.7 421.8,138.6 422,138.6 422.3,138.5 422.6,138.4 422.9,138.3 423.2,138.2 423.5,138.1 423.8,138 424.1,137.9 424.3,137.7 424.6,137.6 424.9,137.4 425.2,137.2 425.5,137 425.8,136.8 426.1,136.6 426.3,136.4 426.6,136.1 426.9,135.9 427.2,135.6 427.5,135.4 427.8,135.1 428.1,134.9 428.3,134.6 428.6,134.3 428.9,134.1 429.2,133.8 429.5,133.6 429.8,133.4 430.1,133.2 430.3,133 430.6,132.8 430.9,132.6 431.2,132.5 431.5,132.3 431.8,132.3 432.1,132.2 432.3,132.1 432.9,132.1 433.2,132.2 433.5,132.2 433.8,132.3 434.1,132.4 434.3,132.5 434.6,132.7 434.9,132.9 435.2,133.1 435.5,133.3 435.8,133.5 436.1,133.7 436.3,134 436.6,134.2 436.9,134.5 437.2,134.8 437.5,135 437.8,135.3 438.1,135.5 438.3,135.8 438.6,136 438.9,136.3 439.2,136.5" fill="none" stroke="#f2461a" stroke-width="1.95" stroke-linejoin="round"/>
<polyline points="319.2,139.1 332.9,139.1 333.2,139 334.6,139 334.9,138.9 335.2,138.9 335.4,138.8 335.7,138.8 336,138.7 336.3,138.7 336.6,138.6 336.9,138.5 337.2,138.4 337.4,138.3 337.7,138.2 338,138.1 338.3,137.9 338.6,137.8 338.9,137.6 339.2,137.4 339.4,137.2 339.7,137 340,136.7 340.3,136.5 340.6,136.2 340.9,135.9 341.2,135.6 341.4,135.3 341.7,135 342,134.6 342.3,134.2 342.6,133.8 342.9,133.4 343.2,133 343.4,132.6 343.7,132.2 344,131.7 344.3,131.3 344.6,130.8 344.9,130.2 345.2,129.7 345.4,129.1 345.7,128.5 346,127.9 346.3,127.2 346.6,126.5 346.9,125.7 347.2,124.8 347.4,123.8 347.7,122.8 348,121.6 348.3,120.4 348.6,119 348.9,117.5 349.2,115.9 349.4,114.1 349.7,112.2 350,110.1 350.3,107.9 350.6,105.6 350.9,103 351.2,100.4 351.4,97.6 351.7,94.6 352,91.6 352.3,88.4 352.6,85.2 352.9,81.9 353.2,78.5 353.4,75.2 353.7,71.8 354,68.5 354.3,65.2 354.6,62.1 354.9,59 355.2,56.2 355.5,53.4 355.7,50.9 356,48.6 356.3,46.6 356.6,44.8 356.9,43.3 357.2,42.1 357.5,41.2 357.7,40.6 358,40.3 358.3,40.2 358.6,40.5 358.9,41 359.2,41.8 359.5,42.9 359.7,44.1 360,45.5 360.3,47.1 360.6,48.8 360.9,50.6 361.2,52.5 361.5,54.5 361.7,56.4 362,58.3 362.3,60.2 362.6,62 362.9,63.8 363.2,65.4 363.5,66.9 363.7,68.3 364,69.5 364.3,70.6 364.6,71.6 364.9,72.4 365.2,73 365.5,73.6 365.7,74 366,74.3 366.3,74.5 366.6,74.6 366.9,74.7 367.2,74.8 368,74.8 368.3,74.9 368.6,74.9 368.9,75.1 369.2,75.3 369.5,75.7 369.7,76.1 370,76.6 370.3,77.2 370.6,77.9 370.9,78.7 371.2,79.7 371.5,80.7 371.7,81.8 372,83 372.3,84.3 372.6,85.7 372.9,87.1 373.2,88.6 373.5,90.1 373.7,91.6 374,93.1 374.3,94.7 374.6,96.2 374.9,97.7 375.2,99.1 375.5,100.6 375.7,101.9 376,103.3 376.3,104.6 376.6,105.8 376.9,107 377.2,108.1 377.5,109.2 377.7,110.2 378,111.2 378.3,112.2 378.6,113.1 378.9,114.1 379.2,115 379.5,115.9 379.7,116.8 380,117.7 380.3,118.5 380.6,119.4 380.9,120.3 381.2,121.2 381.5,122.1 381.7,123 382,123.9 382.3,124.8 382.6,125.7 382.9,126.6 383.2,127.4 383.5,128.2 383.7,129 384,129.8 384.3,130.5 384.6,131.1 384.9,131.7 385.2,132.3 385.5,132.8 385.7,133.2 386,133.6 386.3,133.9 386.6,134.2 386.9,134.4 387.2,134.5 387.5,134.6 388,134.6 388.3,134.5 388.6,134.4 388.9,134.2 389.2,134 389.5,133.8 389.8,133.5 390,133.2 390.3,132.9 390.6,132.6 390.9,132.2 391.2,131.9 391.5,131.6 391.8,131.3 392,130.9 392.3,130.7 392.6,130.4 392.9,130.1 393.2,129.9 393.5,129.8 393.8,129.6 394,129.5 394.3,129.5 394.6,129.4 394.9,129.5 395.2,129.5 395.5,129.6 395.8,129.8 396,130 396.3,130.2 396.6,130.4 396.9,130.7 397.2,131 397.5,131.4 397.8,131.7 398,132.1 398.3,132.5 398.6,132.9 398.9,133.2 399.2,133.6 399.5,134 399.8,134.4 400,134.8 400.3,135.1 400.6,135.5 400.9,135.8 401.2,136.1 401.5,136.4 401.8,136.7 402,136.9 402.3,137.2 402.6,137.4 402.9,137.6 403.2,137.8 403.5,138 403.8,138.1 404,138.2 404.3,138.4 404.6,138.5 404.9,138.6 405.2,138.6 405.5,138.7 405.8,138.8 406,138.8 406.3,138.9 406.9,138.9 407.2,139 408.3,139 408.6,139.1 439.2,139.1" fill="none" stroke="#f7cf1e" stroke-width="1.95" stroke-linejoin="round"/>
<polyline points="319.2,139.1 349.2,139.1 349.4,139 350.6,139 350.9,138.9 351.2,138.9 351.4,138.8 351.7,138.8 352,138.7 352.3,138.6 352.6,138.5 352.9,138.4 353.2,138.3 353.4,138.1 353.7,137.9 354,137.7 354.3,137.4 354.6,137.1 354.9,136.8 355.2,136.4 355.5,135.9 355.7,135.4 356,134.9 356.3,134.2 356.6,133.5 356.9,132.7 357.2,131.9 357.5,131 357.7,129.9 358,128.8 358.3,127.7 358.6,126.4 358.9,125.1 359.2,123.7 359.5,122.2 359.7,120.7 360,119.2 360.3,117.5 360.6,115.9 360.9,114.3 361.2,112.6 361.5,111 361.7,109.3 362,107.8 362.3,106.2 362.6,104.8 362.9,103.4 363.2,102.2 363.5,101 363.7,100 364,99.1 364.3,98.4 364.6,97.8 364.9,97.3 365.2,97 365.5,96.9 365.7,96.9 366,97 366.3,97.3 366.6,97.7 366.9,98.2 367.2,98.8 367.5,99.5 367.7,100.3 368,101.1 368.3,102 368.6,102.9 368.9,103.8 369.2,104.7 369.5,105.6 369.7,106.4 370,107.2 370.3,108 370.6,108.6 370.9,109.3 371.2,109.8 371.5,110.3 371.7,110.6 372,110.9 372.3,111.2 372.6,111.3 373.2,111.3 373.5,111.2 373.7,111 374,110.7 374.3,110.4 374.6,110 374.9,109.5 375.2,109 375.5,108.4 375.7,107.7 376,107 376.3,106.2 376.6,105.4 376.9,104.5 377.2,103.5 377.5,102.5 377.7,101.4 378,100.3 378.3,99.1 378.6,97.9 378.9,96.6 379.2,95.2 379.5,93.7 379.7,92.2 380,90.6 380.3,88.9 380.6,87.1 380.9,85.1 381.2,83.1 381.5,81 381.7,78.7 382,76.2 382.3,73.6 382.6,70.9 382.9,68 383.2,64.9 383.5,61.7 383.7,58.4 384,54.9 384.3,51.3 384.6,47.7 384.9,43.9 385.2,40.2 385.5,36.4 385.7,32.8 386,29.2 386.3,25.7 386.6,22.4 386.9,19.3 387.2,16.5 387.5,14 387.8,11.8 388,10 388.3,8.6 388.6,7.6 388.9,7.1 389.2,7 389.5,7.4 389.8,8.2 390,9.4 390.3,11.1 390.6,13.2 390.9,15.7 391.2,18.5 391.5,21.6 391.8,25 392,28.6 392.3,32.4 392.6,36.3 392.9,40.3 393.2,44.3 393.5,48.4 393.8,52.3 394,56.3 394.3,60.1 394.6,63.7 394.9,67.2 395.2,70.5 395.5,73.6 395.8,76.5 396,79.2 396.3,81.6 396.6,83.9 396.9,85.9 397.2,87.7 397.5,89.4 397.8,90.8 398,92.2 398.3,93.3 398.6,94.4 398.9,95.3 399.2,96.2 399.5,97 399.8,97.7 400,98.4 400.3,99.1 400.6,99.7 400.9,100.4 401.2,101 401.5,101.6 401.8,102.3 402,103 402.3,103.7 402.6,104.4 402.9,105.1 403.2,105.8 403.5,106.6 403.8,107.4 404,108.2 404.3,109 404.6,109.8 404.9,110.7 405.2,111.5 405.5,112.4 405.8,113.3 406,114.1 406.3,115 406.6,115.9 406.9,116.8 407.2,117.7 407.5,118.6 407.8,119.5 408,120.4 408.3,121.3 408.6,122.3 408.9,123.1 409.2,124 409.5,124.9 409.8,125.8 410,126.6 410.3,127.5 410.6,128.3 410.9,129.1 411.2,129.8 411.5,130.6 411.8,131.3 412,131.9 412.3,132.6 412.6,133.2 412.9,133.8 413.2,134.3 413.5,134.8 413.8,135.3 414,135.7 414.3,136.1 414.6,136.4 414.9,136.7 415.2,137 415.5,137.3 415.8,137.5 416,137.8 416.3,137.9 416.6,138.1 416.9,138.3 417.2,138.4 417.5,138.5 417.8,138.6 418,138.7 418.3,138.7 418.6,138.8 418.9,138.9 419.5,138.9 419.8,139 420.9,139 421.2,139.1 439.2,139.1" fill="none" stroke="#7a0a2a" stroke-width="1.95" stroke-linejoin="round"/>
<polyline points="319.2,139.1 326.9,139.1 327.2,139 328.6,139 328.9,138.9 329.4,138.9 329.7,138.8 330,138.8 330.3,138.7 330.6,138.6 330.9,138.6 331.2,138.5 331.4,138.4 331.7,138.3 332,138.1 332.3,138 332.6,137.8 332.9,137.6 333.2,137.4 333.4,137.1 333.7,136.8 334,136.5 334.3,136.2 334.6,135.8 334.9,135.4 335.2,134.9 335.4,134.4 335.7,133.9 336,133.2 336.3,132.6 336.6,131.9 336.9,131.1 337.2,130.3 337.4,129.4 337.7,128.4 338,127.4 338.3,126.3 338.6,125.2 338.9,124 339.2,122.7 339.4,121.4 339.7,120 340,118.6 340.3,117.1 340.6,115.6 340.9,114.1 341.2,112.5 341.4,110.9 341.7,109.3 342,107.7 342.3,106.1 342.6,104.4 342.9,102.9 343.2,101.3 343.4,99.8 343.7,98.3 344,96.9 344.3,95.6 344.6,94.3 344.9,93.1 345.2,92 345.4,91 345.7,90.2 346,89.4 346.3,88.8 346.6,88.3 346.9,87.9 347.2,87.7 347.4,87.6 347.7,87.6 348,87.7 348.3,88 348.6,88.4 348.9,89 349.2,89.6 349.4,90.4 349.7,91.2 350,92.2 350.3,93.2 350.6,94.3 350.9,95.5 351.2,96.7 351.4,97.9 351.7,99.2 352,100.5 352.3,101.9 352.6,103.2 352.9,104.5 353.2,105.8 353.4,107 353.7,108.2 354,109.4 354.3,110.5 354.6,111.6 354.9,112.6 355.2,113.5 355.5,114.3 355.7,115.1 356,115.8 356.3,116.4 356.6,117 356.9,117.4 357.2,117.8 357.5,118.2 357.7,118.4 358,118.6 358.3,118.7 358.6,118.8 358.9,118.8 359.2,118.7 359.5,118.7 359.7,118.5 360,118.3 360.3,118.1 360.6,117.9 360.9,117.6 361.2,117.3 361.5,117 361.7,116.6 362,116.3 362.3,115.9 362.6,115.4 362.9,115 363.2,114.5 363.5,114.1 363.7,113.5 364,113 364.3,112.4 364.6,111.8 364.9,111.2 365.2,110.5 365.5,109.8 365.7,109 366,108.2 366.3,107.4 366.6,106.5 366.9,105.6 367.2,104.6 367.5,103.5 367.7,102.4 368,101.3 368.3,100.1 368.6,98.8 368.9,97.5 369.2,96.2 369.5,94.8 369.7,93.4 370,92 370.3,90.5 370.6,89 370.9,87.5 371.2,86 371.5,84.5 371.7,83 372,81.5 372.3,80.1 372.6,78.7 372.9,77.3 373.2,75.9 373.5,74.7 373.7,73.4 374,72.3 374.3,71.2 374.6,70.2 374.9,69.3 375.2,68.5 375.5,67.8 375.7,67.2 376,66.7 376.3,66.3 376.6,66.1 376.9,65.9 377.5,65.9 377.7,66.1 378,66.4 378.3,66.9 378.6,67.4 378.9,68 379.2,68.8 379.5,69.6 379.7,70.5 380,71.6 380.3,72.7 380.6,73.8 380.9,75.1 381.2,76.4 381.5,77.7 381.7,79.1 382,80.5 382.3,82 382.6,83.5 382.9,84.9 383.2,86.4 383.5,87.9 383.7,89.4 384,90.9 384.3,92.3 384.6,93.7 384.9,95.1 385.2,96.5 385.5,97.8 385.7,99.1 386,100.3 386.3,101.5 386.6,102.6 386.9,103.7 387.2,104.7 387.5,105.7 387.8,106.7 388,107.6 388.3,108.5 388.6,109.3 388.9,110.1 389.2,110.8 389.5,111.5 389.8,112.2 390,112.9 390.3,113.6 390.6,114.2 390.9,114.8 391.2,115.5 391.5,116.1 391.8,116.7 392,117.3 392.3,117.9 392.6,118.5 392.9,119.1 393.2,119.7 393.5,120.3 393.8,120.9 394,121.5 394.3,122.1 394.6,122.8 394.9,123.4 395.2,124 395.5,124.6 395.8,125.2 396,125.8 396.3,126.4 396.6,127 396.9,127.6 397.2,128.1 397.5,128.6 397.8,129.2 398,129.7 398.3,130.1 398.6,130.6 398.9,131 399.2,131.4 399.5,131.8 399.8,132.2 400,132.5 400.3,132.8 400.6,133.1 400.9,133.4 401.2,133.6 401.5,133.8 401.8,134 402,134.2 402.3,134.4 402.6,134.5 402.9,134.7 403.2,134.8 403.5,134.9 403.8,135.1 404,135.2 404.3,135.3 404.6,135.4 404.9,135.5 405.2,135.5 405.5,135.6 405.8,135.7 406,135.8 406.3,135.9 406.6,136 406.9,136.1 407.2,136.2 407.5,136.3 407.8,136.4 408,136.5 408.3,136.6 408.6,136.7 408.9,136.8 409.2,136.9 409.5,137 409.8,137.2 410,137.3 410.3,137.4 410.6,137.5 410.9,137.6 411.2,137.7 411.5,137.8 411.8,137.9 412,138 412.3,138 412.6,138.1 412.9,138.2 413.2,138.3 413.5,138.4 413.8,138.4 414,138.5 414.3,138.5 414.6,138.6 414.9,138.7 415.5,138.7 415.8,138.8 416.3,138.8 416.6,138.9 417.2,138.9 417.5,139 419.5,139 419.8,139.1 439.2,139.1" fill="none" stroke="#79c3f2" stroke-width="1.95" stroke-linejoin="round"/>
<polyline points="319.2,139.1 349.4,139.1 349.7,139 351.2,139 351.4,138.9 351.7,138.9 352,138.8 352.3,138.8 352.6,138.7 352.9,138.7 353.2,138.6 353.4,138.5 353.7,138.4 354,138.3 354.3,138.2 354.6,138 354.9,137.9 355.2,137.7 355.5,137.5 355.7,137.2 356,137 356.3,136.7 356.6,136.4 356.9,136.1 357.2,135.8 357.5,135.4 357.7,135.1 358,134.7 358.3,134.2 358.6,133.8 358.9,133.4 359.2,132.9 359.5,132.4 359.7,131.9 360,131.4 360.3,131 360.6,130.5 360.9,130 361.2,129.5 361.5,129 361.7,128.6 362,128.1 362.3,127.7 362.6,127.3 362.9,126.9 363.2,126.5 363.5,126.2 363.7,125.9 364,125.6 364.3,125.3 364.6,125 364.9,124.8 365.2,124.5 365.5,124.3 365.7,124.1 366,123.9 366.3,123.6 366.6,123.4 366.9,123.2 367.2,122.9 367.5,122.7 367.7,122.4 368,122.2 368.3,121.9 368.6,121.6 368.9,121.2 369.2,120.9 369.5,120.5 369.7,120.2 370,119.8 370.3,119.4 370.6,119 370.9,118.6 371.2,118.1 371.5,117.7 371.7,117.3 372,116.9 372.3,116.4 372.6,116 372.9,115.6 373.2,115.1 373.5,114.7 373.7,114.3 374,113.8 374.3,113.3 374.6,112.8 374.9,112.3 375.2,111.7 375.5,111.2 375.7,110.5 376,109.8 376.3,109 376.6,108.2 376.9,107.2 377.2,106.2 377.5,105 377.7,103.8 378,102.4 378.3,100.9 378.6,99.2 378.9,97.5 379.2,95.5 379.5,93.5 379.7,91.3 380,89 380.3,86.5 380.6,83.9 380.9,81.2 381.2,78.4 381.5,75.5 381.7,72.6 382,69.6 382.3,66.5 382.6,63.5 382.9,60.4 383.2,57.4 383.5,54.5 383.7,51.6 384,48.9 384.3,46.2 384.6,43.8 384.9,41.5 385.2,39.4 385.5,37.5 385.7,35.9 386,34.5 386.3,33.4 386.6,32.6 386.9,32.1 387.2,31.8 387.5,31.9 387.8,32.2 388,32.9 388.3,33.8 388.6,35 388.9,36.4 389.2,38.1 389.5,40 389.8,42.1 390,44.4 390.3,46.8 390.6,49.4 390.9,52.1 391.2,54.8 391.5,57.7 391.8,60.5 392,63.4 392.3,66.2 392.6,69.1 392.9,71.8 393.2,74.5 393.5,77.1 393.8,79.6 394,81.9 394.3,84.2 394.6,86.2 394.9,88.2 395.2,90 395.5,91.7 395.8,93.2 396,94.6 396.3,95.8 396.6,97 396.9,98 397.2,98.8 397.5,99.6 397.8,100.3 398,100.9 398.3,101.4 398.6,101.9 398.9,102.3 399.2,102.7 399.5,103.1 399.8,103.4 400,103.7 400.3,104 400.6,104.3 400.9,104.6 401.2,105 401.5,105.3 401.8,105.6 402,106 402.3,106.3 402.6,106.7 402.9,107.1 403.2,107.5 403.5,107.9 403.8,108.3 404,108.7 404.3,109.1 404.6,109.5 404.9,109.8 405.2,110.2 405.5,110.6 405.8,111 406,111.3 406.3,111.7 406.6,112.1 406.9,112.4 407.2,112.8 407.5,113.1 407.8,113.4 408,113.8 408.3,114.1 408.6,114.5 408.9,114.9 409.2,115.3 409.5,115.7 409.8,116.1 410,116.5 410.3,116.9 410.6,117.3 410.9,117.7 411.2,118.1 411.5,118.5 411.8,118.9 412,119.2 412.3,119.5 412.6,119.8 412.9,120 413.2,120.2 413.5,120.4 413.8,120.5 414.6,120.5 414.9,120.4 415.2,120.2 415.5,120.1 415.8,119.9 416,119.7 416.3,119.6 416.6,119.4 416.9,119.3 417.2,119.2 417.8,119.2 418,119.3 418.3,119.5 418.6,119.7 418.9,120.1 419.2,120.5 419.5,121 419.8,121.7 420,122.3 420.3,123.1 420.6,123.9 420.9,124.7 421.2,125.6 421.5,126.5 421.8,127.5 422,128.4 422.3,129.3 422.6,130.2 422.9,131.1 423.2,131.9 423.5,132.7 423.8,133.5 424.1,134.1 424.3,134.8 424.6,135.4 424.9,135.9 425.2,136.3 425.5,136.8 425.8,137.1 426.1,137.5 426.3,137.7 426.6,138 426.9,138.2 427.2,138.3 427.5,138.5 427.8,138.6 428.1,138.7 428.3,138.8 428.6,138.9 428.9,138.9 429.2,139 430.3,139 430.6,139.1 439.2,139.1" fill="none" stroke="#2d4216" stroke-width="1.95" stroke-linejoin="round"/>
</g>
<rect x="312.2" y="0.5" width="132.4" height="144.8" fill="none" stroke="#dedede" stroke-width="0.8"/>
<line x1="336.3" y1="145.3" x2="336.3" y2="146.9" stroke="#c8c8c8" stroke-width="0.6"/>
<text x="336.3" y="153.5" font-size="6.6" text-anchor="middle" fill="#4d4d4d">−6</text>
<line x1="370.6" y1="145.3" x2="370.6" y2="146.9" stroke="#c8c8c8" stroke-width="0.6"/>
<text x="370.6" y="153.5" font-size="6.6" text-anchor="middle" fill="#4d4d4d">−4</text>
<line x1="404.9" y1="145.3" x2="404.9" y2="146.9" stroke="#c8c8c8" stroke-width="0.6"/>
<text x="404.9" y="153.5" font-size="6.6" text-anchor="middle" fill="#4d4d4d">−2</text>
<line x1="439.2" y1="145.3" x2="439.2" y2="146.9" stroke="#c8c8c8" stroke-width="0.6"/>
<text x="439.2" y="153.5" font-size="6.6" text-anchor="middle" fill="#4d4d4d">0</text>
<line x1="310.6" y1="139.1" x2="312.2" y2="139.1" stroke="#c8c8c8" stroke-width="0.6"/>
<text x="309" y="141.5" font-size="6.6" text-anchor="end" fill="#4d4d4d">0.00</text>
<line x1="310.6" y1="101.95" x2="312.2" y2="101.95" stroke="#c8c8c8" stroke-width="0.6"/>
<text x="309" y="104.35" font-size="6.6" text-anchor="end" fill="#4d4d4d">0.25</text>
<line x1="310.6" y1="64.8" x2="312.2" y2="64.8" stroke="#c8c8c8" stroke-width="0.6"/>
<text x="309" y="67.2" font-size="6.6" text-anchor="end" fill="#4d4d4d">0.50</text>
<line x1="310.6" y1="27.65" x2="312.2" y2="27.65" stroke="#c8c8c8" stroke-width="0.6"/>
<text x="309" y="30.05" font-size="6.6" text-anchor="end" fill="#4d4d4d">0.75</text>
<text x="292.6" y="73.5" font-size="8.3" text-anchor="middle" transform="rotate(-90 292.6 73.5)">Density</text>
<text x="378.5" y="163.2" font-size="8.45" text-anchor="middle">log<tspan font-size="6.8" dy="2.2">10</tspan><tspan dy="-2.2"> (Frequency)</tspan></text>
<text x="454.4" y="44.8" font-size="8.4">Sample</text>
<rect x="455.3" y="50.9" width="7.6" height="7.6" fill="#1b4a8a18" stroke="#1b4a8a" stroke-width="1.3"/>
<text x="468.2" y="57.3" font-size="6.8">PT5</text>
<rect x="455.3" y="60.65" width="7.6" height="7.6" fill="#f2461a18" stroke="#f2461a" stroke-width="1.3"/>
<text x="468.2" y="67.05" font-size="6.8">PT4</text>
<rect x="455.3" y="70.4" width="7.6" height="7.6" fill="#f7cf1e18" stroke="#f7cf1e" stroke-width="1.3"/>
<text x="468.2" y="76.8" font-size="6.8">PT3</text>
<rect x="455.3" y="80.15" width="7.6" height="7.6" fill="#7a0a2a18" stroke="#7a0a2a" stroke-width="1.3"/>
<text x="468.2" y="86.55" font-size="6.8">PT2</text>
<rect x="455.3" y="89.9" width="7.6" height="7.6" fill="#79c3f218" stroke="#79c3f2" stroke-width="1.3"/>
<text x="468.2" y="96.3" font-size="6.8">PT6</text>
<rect x="455.3" y="99.65" width="7.6" height="7.6" fill="#2d421618" stroke="#2d4216" stroke-width="1.3"/>
<text x="468.2" y="106.05" font-size="6.8">PT1</text>
<text x="0.8" y="183.5" font-size="12" font-weight="bold" stroke="#000" stroke-width="0.3">C</text>
<clipPath id="cCa"><rect x="21.2" y="190.7" width="111.2" height="101.5"/></clipPath>
<g clip-path="url(#cCa)">
<circle cx="79.6" cy="273.1" r="8.8" fill="#3fe08f" fill-opacity="0.5" stroke="#3fe08f" stroke-opacity="0.7" stroke-width="0.5"/>
<circle cx="79.6" cy="241.5" r="4.4" fill="#3fe08f" fill-opacity="0.5" stroke="#3fe08f" stroke-opacity="0.7" stroke-width="0.5"/>
<circle cx="23.2" cy="241.5" r="2.3" fill="#f0a030" fill-opacity="0.5" stroke="#f0a030" stroke-opacity="0.95" stroke-width="0.65"/>
<circle cx="26" cy="241.5" r="2.3" fill="#e8a8d8" fill-opacity="0.5" stroke="#e8a8d8" stroke-opacity="0.95" stroke-width="0.65"/>
<circle cx="28.6" cy="241.5" r="2.3" fill="#9a4ae0" fill-opacity="0.5" stroke="#9a4ae0" stroke-opacity="0.95" stroke-width="0.65"/>
<circle cx="31.3" cy="241.5" r="2.3" fill="#90b090" fill-opacity="0.5" stroke="#90b090" stroke-opacity="0.95" stroke-width="0.65"/>
<circle cx="33.6" cy="241.5" r="2.3" fill="#50c050" fill-opacity="0.5" stroke="#50c050" stroke-opacity="0.95" stroke-width="0.65"/>
<circle cx="36.5" cy="241.5" r="2.3" fill="#c050d0" fill-opacity="0.5" stroke="#c050d0" stroke-opacity="0.95" stroke-width="0.65"/>
<circle cx="40" cy="241.5" r="2.9" fill="#8030e0" fill-opacity="0.5" stroke="#8030e0" stroke-opacity="0.95" stroke-width="0.65"/>
<circle cx="42.6" cy="241.5" r="2.7" fill="#9040e0" fill-opacity="0.5" stroke="#9040e0" stroke-opacity="0.95" stroke-width="0.65"/>
<circle cx="45.7" cy="241.5" r="2.3" fill="#b0e030" fill-opacity="0.5" stroke="#b0e030" stroke-opacity="0.95" stroke-width="0.65"/>
<circle cx="48.2" cy="241.5" r="2.3" fill="#60d050" fill-opacity="0.5" stroke="#60d050" stroke-opacity="0.95" stroke-width="0.65"/>
<circle cx="52" cy="241.5" r="2.3" fill="#4080d0" fill-opacity="0.5" stroke="#4080d0" stroke-opacity="0.95" stroke-width="0.65"/>
<circle cx="55" cy="241.5" r="2.7" fill="#50a0f0" fill-opacity="0.5" stroke="#50a0f0" stroke-opacity="0.95" stroke-width="0.65"/>
<circle cx="58.4" cy="241.5" r="2.3" fill="#b0c050" fill-opacity="0.5" stroke="#b0c050" stroke-opacity="0.95" stroke-width="0.65"/>
<circle cx="61.3" cy="241.5" r="2.3" fill="#90e080" fill-opacity="0.5" stroke="#90e080" stroke-opacity="0.95" stroke-width="0.65"/>
<circle cx="64.1" cy="241.5" r="2.3" fill="#f0a070" fill-opacity="0.5" stroke="#f0a070" stroke-opacity="0.95" stroke-width="0.65"/>
<circle cx="67" cy="241.5" r="2.3" fill="#f03030" fill-opacity="0.5" stroke="#f03030" stroke-opacity="0.95" stroke-width="0.65"/>
<circle cx="70" cy="241.5" r="2.3" fill="#f06020" fill-opacity="0.5" stroke="#f06020" stroke-opacity="0.95" stroke-width="0.65"/>
<circle cx="73.4" cy="241.5" r="2.3" fill="#a0d040" fill-opacity="0.5" stroke="#a0d040" stroke-opacity="0.95" stroke-width="0.65"/>
<circle cx="76.8" cy="241.5" r="2.3" fill="#20a080" fill-opacity="0.5" stroke="#20a080" stroke-opacity="0.95" stroke-width="0.65"/>
<circle cx="79.6" cy="241.5" r="2.3" fill="#2090a0" fill-opacity="0.5" stroke="#2090a0" stroke-opacity="0.95" stroke-width="0.65"/>
<circle cx="83" cy="241.5" r="2.3" fill="#40c080" fill-opacity="0.5" stroke="#40c080" stroke-opacity="0.95" stroke-width="0.65"/>
<circle cx="86" cy="241.5" r="2.3" fill="#60a080" fill-opacity="0.5" stroke="#60a080" stroke-opacity="0.95" stroke-width="0.65"/>
<circle cx="89.4" cy="241.5" r="2.3" fill="#8040d0" fill-opacity="0.5" stroke="#8040d0" stroke-opacity="0.95" stroke-width="0.65"/>
<circle cx="92.3" cy="241.5" r="2.3" fill="#e080a0" fill-opacity="0.5" stroke="#e080a0" stroke-opacity="0.95" stroke-width="0.65"/>
<circle cx="95.8" cy="241.5" r="2.3" fill="#9060e0" fill-opacity="0.5" stroke="#9060e0" stroke-opacity="0.95" stroke-width="0.65"/>
<circle cx="98.6" cy="241.5" r="2.3" fill="#5080e0" fill-opacity="0.5" stroke="#5080e0" stroke-opacity="0.95" stroke-width="0.65"/>
<circle cx="102" cy="241.5" r="2.3" fill="#40b0e0" fill-opacity="0.5" stroke="#40b0e0" stroke-opacity="0.95" stroke-width="0.65"/>
<circle cx="105" cy="241.5" r="2.3" fill="#6070e0" fill-opacity="0.5" stroke="#6070e0" stroke-opacity="0.95" stroke-width="0.65"/>
<circle cx="108.4" cy="241.5" r="2.3" fill="#c070d0" fill-opacity="0.5" stroke="#c070d0" stroke-opacity="0.95" stroke-width="0.65"/>
<circle cx="111.9" cy="241.5" r="2.3" fill="#e09080" fill-opacity="0.5" stroke="#e09080" stroke-opacity="0.95" stroke-width="0.65"/>
<circle cx="115.4" cy="241.5" r="2.3" fill="#e06030" fill-opacity="0.5" stroke="#e06030" stroke-opacity="0.95" stroke-width="0.65"/>
<circle cx="118.3" cy="241.5" r="2.3" fill="#d08070" fill-opacity="0.5" stroke="#d08070" stroke-opacity="0.95" stroke-width="0.65"/>
<circle cx="121.7" cy="241.5" r="2.3" fill="#4040e0" fill-opacity="0.5" stroke="#4040e0" stroke-opacity="0.95" stroke-width="0.65"/>
<circle cx="124.6" cy="241.5" r="2.3" fill="#5050d0" fill-opacity="0.5" stroke="#5050d0" stroke-opacity="0.95" stroke-width="0.65"/>
<circle cx="127.5" cy="241.5" r="2.3" fill="#80a090" fill-opacity="0.5" stroke="#80a090" stroke-opacity="0.95" stroke-width="0.65"/>
<circle cx="130.4" cy="241.5" r="2.3" fill="#80a080" fill-opacity="0.5" stroke="#80a080" stroke-opacity="0.95" stroke-width="0.65"/>
<circle cx="133" cy="241.5" r="2.3" fill="#909090" fill-opacity="0.5" stroke="#909090" stroke-opacity="0.95" stroke-width="0.65"/>
<circle cx="23.2" cy="273.1" r="2.3" fill="#f0a030" fill-opacity="0.5" stroke="#f0a030" stroke-opacity="0.95" stroke-width="0.65"/>
<circle cx="26" cy="273.1" r="2.3" fill="#e8a8d8" fill-opacity="0.5" stroke="#e8a8d8" stroke-opacity="0.95" stroke-width="0.65"/>
<circle cx="28.6" cy="273.1" r="2.3" fill="#9a4ae0" fill-opacity="0.5" stroke="#9a4ae0" stroke-opacity="0.95" stroke-width="0.65"/>
<circle cx="31.3" cy="273.1" r="2.3" fill="#90b090" fill-opacity="0.5" stroke="#90b090" stroke-opacity="0.95" stroke-width="0.65"/>
<circle cx="33.6" cy="273.1" r="2.3" fill="#50c050" fill-opacity="0.5" stroke="#50c050" stroke-opacity="0.95" stroke-width="0.65"/>
<circle cx="36.5" cy="273.1" r="2.3" fill="#c050d0" fill-opacity="0.5" stroke="#c050d0" stroke-opacity="0.95" stroke-width="0.65"/>
<circle cx="40" cy="273.1" r="2.9" fill="#8030e0" fill-opacity="0.5" stroke="#8030e0" stroke-opacity="0.95" stroke-width="0.65"/>
<circle cx="42.6" cy="273.1" r="2.7" fill="#9040e0" fill-opacity="0.5" stroke="#9040e0" stroke-opacity="0.95" stroke-width="0.65"/>
<circle cx="45.7" cy="273.1" r="2.3" fill="#b0e030" fill-opacity="0.5" stroke="#b0e030" stroke-opacity="0.95" stroke-width="0.65"/>
<circle cx="48.2" cy="273.1" r="2.3" fill="#60d050" fill-opacity="0.5" stroke="#60d050" stroke-opacity="0.95" stroke-width="0.65"/>
<circle cx="52" cy="273.1" r="2.3" fill="#4080d0" fill-opacity="0.5" stroke="#4080d0" stroke-opacity="0.95" stroke-width="0.65"/>
<circle cx="55" cy="273.1" r="2.7" fill="#50a0f0" fill-opacity="0.5" stroke="#50a0f0" stroke-opacity="0.95" stroke-width="0.65"/>
<circle cx="58.4" cy="273.1" r="2.3" fill="#b0c050" fill-opacity="0.5" stroke="#b0c050" stroke-opacity="0.95" stroke-width="0.65"/>
<circle cx="61.3" cy="273.1" r="2.3" fill="#90e080" fill-opacity="0.5" stroke="#90e080" stroke-opacity="0.95" stroke-width="0.65"/>
<circle cx="64.1" cy="273.1" r="2.3" fill="#f0a070" fill-opacity="0.5" stroke="#f0a070" stroke-opacity="0.95" stroke-width="0.65"/>
<circle cx="67" cy="273.1" r="2.3" fill="#f03030" fill-opacity="0.5" stroke="#f03030" stroke-opacity="0.95" stroke-width="0.65"/>
<circle cx="70" cy="273.1" r="2.3" fill="#f06020" fill-opacity="0.5" stroke="#f06020" stroke-opacity="0.95" stroke-width="0.65"/>
<circle cx="73.4" cy="273.1" r="2.3" fill="#a0d040" fill-opacity="0.5" stroke="#a0d040" stroke-opacity="0.95" stroke-width="0.65"/>
<circle cx="76.8" cy="273.1" r="2.3" fill="#20a080" fill-opacity="0.5" stroke="#20a080" stroke-opacity="0.95" stroke-width="0.65"/>
<circle cx="79.6" cy="273.1" r="2.3" fill="#2090a0" fill-opacity="0.5" stroke="#2090a0" stroke-opacity="0.95" stroke-width="0.65"/>
<circle cx="83" cy="273.1" r="2.3" fill="#40c080" fill-opacity="0.5" stroke="#40c080" stroke-opacity="0.95" stroke-width="0.65"/>
<circle cx="86" cy="273.1" r="2.3" fill="#60a080" fill-opacity="0.5" stroke="#60a080" stroke-opacity="0.95" stroke-width="0.65"/>
<circle cx="89.4" cy="273.1" r="2.3" fill="#8040d0" fill-opacity="0.5" stroke="#8040d0" stroke-opacity="0.95" stroke-width="0.65"/>
<circle cx="92.3" cy="273.1" r="2.3" fill="#e080a0" fill-opacity="0.5" stroke="#e080a0" stroke-opacity="0.95" stroke-width="0.65"/>
<circle cx="95.8" cy="273.1" r="2.3" fill="#9060e0" fill-opacity="0.5" stroke="#9060e0" stroke-opacity="0.95" stroke-width="0.65"/>
<circle cx="98.6" cy="273.1" r="2.3" fill="#5080e0" fill-opacity="0.5" stroke="#5080e0" stroke-opacity="0.95" stroke-width="0.65"/>
<circle cx="102" cy="273.1" r="2.3" fill="#40b0e0" fill-opacity="0.5" stroke="#40b0e0" stroke-opacity="0.95" stroke-width="0.65"/>
<circle cx="105" cy="273.1" r="2.3" fill="#6070e0" fill-opacity="0.5" stroke="#6070e0" stroke-opacity="0.95" stroke-width="0.65"/>
<circle cx="108.4" cy="273.1" r="2.3" fill="#c070d0" fill-opacity="0.5" stroke="#c070d0" stroke-opacity="0.95" stroke-width="0.65"/>
<circle cx="111.9" cy="273.1" r="2.3" fill="#e09080" fill-opacity="0.5" stroke="#e09080" stroke-opacity="0.95" stroke-width="0.65"/>
<circle cx="115.4" cy="273.1" r="2.3" fill="#e06030" fill-opacity="0.5" stroke="#e06030" stroke-opacity="0.95" stroke-width="0.65"/>
<circle cx="118.3" cy="273.1" r="2.3" fill="#d08070" fill-opacity="0.5" stroke="#d08070" stroke-opacity="0.95" stroke-width="0.65"/>
<circle cx="121.7" cy="273.1" r="2.3" fill="#4040e0" fill-opacity="0.5" stroke="#4040e0" stroke-opacity="0.95" stroke-width="0.65"/>
<circle cx="124.6" cy="273.1" r="2.3" fill="#5050d0" fill-opacity="0.5" stroke="#5050d0" stroke-opacity="0.95" stroke-width="0.65"/>
<circle cx="127.5" cy="273.1" r="2.3" fill="#80a090" fill-opacity="0.5" stroke="#80a090" stroke-opacity="0.95" stroke-width="0.65"/>
<circle cx="130.4" cy="273.1" r="2.3" fill="#80a080" fill-opacity="0.5" stroke="#80a080" stroke-opacity="0.95" stroke-width="0.65"/>
<circle cx="133" cy="273.1" r="2.3" fill="#909090" fill-opacity="0.5" stroke="#909090" stroke-opacity="0.95" stroke-width="0.65"/>
<circle cx="23" cy="209.8" r="2.3" fill="#5090f0" fill-opacity="0.5" stroke="#5090f0" stroke-opacity="0.95" stroke-width="0.65"/>
<circle cx="26" cy="209.8" r="2" fill="#f0b0c0" fill-opacity="0.5" stroke="#f0b0c0" stroke-opacity="0.95" stroke-width="0.65"/>
<circle cx="30.2" cy="209.8" r="3.1" fill="#f060d0" fill-opacity="0.5" stroke="#f060d0" stroke-opacity="0.95" stroke-width="0.65"/>
<circle cx="38" cy="209.8" r="2.4" fill="#e070e0" fill-opacity="0.5" stroke="#e070e0" stroke-opacity="0.95" stroke-width="0.65"/>
<circle cx="44" cy="209.8" r="4.4" fill="#b050f0" fill-opacity="0.65" stroke="#b050f0" stroke-opacity="0.95" stroke-width="0.65"/>
<circle cx="48.5" cy="209.8" r="2.4" fill="#9050e0" fill-opacity="0.5" stroke="#9050e0" stroke-opacity="0.95" stroke-width="0.65"/>
<circle cx="51.2" cy="209.8" r="3" fill="#5030d0" fill-opacity="0.7" stroke="#5030d0" stroke-opacity="0.95" stroke-width="0.65"/>
<circle cx="58" cy="209.8" r="2.4" fill="#f0c040" fill-opacity="0.5" stroke="#f0c040" stroke-opacity="0.95" stroke-width="0.65"/>
<circle cx="79.7" cy="209.8" r="2.9" fill="#50e0b0" fill-opacity="0.5" stroke="#50e0b0" stroke-opacity="0.95" stroke-width="0.65"/>
<circle cx="100" cy="209.8" r="2.5" fill="#f05050" fill-opacity="0.5" stroke="#f05050" stroke-opacity="0.95" stroke-width="0.65"/>
<circle cx="104.5" cy="209.8" r="2.3" fill="#60e0e0" fill-opacity="0.5" stroke="#60e0e0" stroke-opacity="0.95" stroke-width="0.65"/>
<circle cx="109.3" cy="209.8" r="2.7" fill="#b060f0" fill-opacity="0.5" stroke="#b060f0" stroke-opacity="0.95" stroke-width="0.65"/>
</g>
<rect x="21.2" y="190.7" width="111.2" height="101.5" fill="none" stroke="#c4c4c4" stroke-width="0.8"/>
<text x="76.8" y="186.2" font-size="8.3" text-anchor="middle">Infection A</text>
<text x="18.3" y="211.7" font-size="5.2" text-anchor="end" fill="#333">PT1</text>
<text x="18.3" y="243.4" font-size="5.2" text-anchor="end" fill="#333">PT6</text>
<text x="18.3" y="275" font-size="5.2" text-anchor="end" fill="#333">PT2</text>
<text x="6.3" y="241" font-size="6.9" text-anchor="middle" transform="rotate(-90 6.3 241)">Samples</text>
<text x="76.8" y="299.8" font-size="6.9" text-anchor="middle">Clones</text>
<clipPath id="cCb"><rect x="158.8" y="190.7" width="110.4" height="101.5"/></clipPath>
<g clip-path="url(#cCb)">
<circle cx="221.8" cy="209.7" r="8.9" fill="#f0506e" fill-opacity="0.6" stroke="#f0506e" stroke-opacity="0.7" stroke-width="0.5"/>
<circle cx="160.9" cy="209.7" r="2.3" fill="#e040e0" fill-opacity="0.5" stroke="#e040e0" stroke-opacity="0.95" stroke-width="0.65"/>
<circle cx="163.8" cy="209.7" r="2.3" fill="#6040e0" fill-opacity="0.5" stroke="#6040e0" stroke-opacity="0.95" stroke-width="0.65"/>
<circle cx="167.5" cy="209.7" r="2.3" fill="#a0e040" fill-opacity="0.5" stroke="#a0e040" stroke-opacity="0.95" stroke-width="0.65"/>
<circle cx="171.2" cy="209.7" r="2.3" fill="#90e050" fill-opacity="0.5" stroke="#90e050" stroke-opacity="0.95" stroke-width="0.65"/>
<circle cx="174.9" cy="209.7" r="2.3" fill="#f0b040" fill-opacity="0.5" stroke="#f0b040" stroke-opacity="0.95" stroke-width="0.65"/>
<circle cx="178.6" cy="209.7" r="2.3" fill="#f0f090" fill-opacity="0.5" stroke="#f0f090" stroke-opacity="0.95" stroke-width="0.65"/>
<circle cx="182.3" cy="209.7" r="2.8" fill="#40b060" fill-opacity="0.5" stroke="#40b060" stroke-opacity="0.95" stroke-width="0.65"/>
<circle cx="186" cy="209.7" r="2.3" fill="#a0f0a0" fill-opacity="0.5" stroke="#a0f0a0" stroke-opacity="0.95" stroke-width="0.65"/>
<circle cx="188.9" cy="209.7" r="2.3" fill="#f06080" fill-opacity="0.5" stroke="#f06080" stroke-opacity="0.95" stroke-width="0.65"/>
<circle cx="192.6" cy="209.7" r="2.3" fill="#60d060" fill-opacity="0.5" stroke="#60d060" stroke-opacity="0.95" stroke-width="0.65"/>
<circle cx="196.3" cy="209.7" r="2.3" fill="#d0f080" fill-opacity="0.5" stroke="#d0f080" stroke-opacity="0.95" stroke-width="0.65"/>
<circle cx="201.5" cy="209.7" r="2.3" fill="#80f080" fill-opacity="0.5" stroke="#80f080" stroke-opacity="0.95" stroke-width="0.65"/>
<circle cx="208.1" cy="209.7" r="2.3" fill="#f08080" fill-opacity="0.5" stroke="#f08080" stroke-opacity="0.95" stroke-width="0.65"/>
<circle cx="211.8" cy="209.7" r="2.3" fill="#c040c0" fill-opacity="0.5" stroke="#c040c0" stroke-opacity="0.95" stroke-width="0.65"/>
<circle cx="212.2" cy="209.7" r="2.3" fill="#a040d0" fill-opacity="0.5" stroke="#a040d0" stroke-opacity="0.95" stroke-width="0.65"/>
<circle cx="215.9" cy="209.7" r="2.3" fill="#6050d0" fill-opacity="0.5" stroke="#6050d0" stroke-opacity="0.95" stroke-width="0.65"/>
<circle cx="219.6" cy="209.7" r="2.3" fill="#e06040" fill-opacity="0.5" stroke="#e06040" stroke-opacity="0.95" stroke-width="0.65"/>
<circle cx="222.5" cy="209.7" r="2.3" fill="#e07040" fill-opacity="0.5" stroke="#e07040" stroke-opacity="0.95" stroke-width="0.65"/>
<circle cx="225.5" cy="209.7" r="2.3" fill="#a0d030" fill-opacity="0.5" stroke="#a0d030" stroke-opacity="0.95" stroke-width="0.65"/>
<circle cx="229.2" cy="209.7" r="2.3" fill="#60c060" fill-opacity="0.5" stroke="#60c060" stroke-opacity="0.95" stroke-width="0.65"/>
<circle cx="232.9" cy="209.7" r="2.3" fill="#5050e0" fill-opacity="0.5" stroke="#5050e0" stroke-opacity="0.95" stroke-width="0.65"/>
<circle cx="237.3" cy="209.7" r="2.3" fill="#60d0e0" fill-opacity="0.5" stroke="#60d0e0" stroke-opacity="0.95" stroke-width="0.65"/>
<circle cx="239.5" cy="209.7" r="2.3" fill="#4080b0" fill-opacity="0.5" stroke="#4080b0" stroke-opacity="0.95" stroke-width="0.65"/>
<circle cx="243.2" cy="209.7" r="2.3" fill="#e08080" fill-opacity="0.5" stroke="#e08080" stroke-opacity="0.95" stroke-width="0.65"/>
<circle cx="246.9" cy="209.7" r="2.3" fill="#e080a0" fill-opacity="0.5" stroke="#e080a0" stroke-opacity="0.95" stroke-width="0.65"/>
<circle cx="249.8" cy="209.7" r="2.3" fill="#80b080" fill-opacity="0.5" stroke="#80b080" stroke-opacity="0.95" stroke-width="0.65"/>
<circle cx="252.8" cy="209.7" r="2.3" fill="#a090b0" fill-opacity="0.5" stroke="#a090b0" stroke-opacity="0.95" stroke-width="0.65"/>
<circle cx="257.9" cy="209.7" r="2.3" fill="#60f0d0" fill-opacity="0.5" stroke="#60f0d0" stroke-opacity="0.95" stroke-width="0.65"/>
<circle cx="265.3" cy="209.7" r="2.3" fill="#f0d040" fill-opacity="0.5" stroke="#f0d040" stroke-opacity="0.95" stroke-width="0.65"/>
<circle cx="269" cy="209.7" r="2.3" fill="#f0e040" fill-opacity="0.5" stroke="#f0e040" stroke-opacity="0.95" stroke-width="0.65"/>
<circle cx="166" cy="241.6" r="2.3" fill="#f070e0" fill-opacity="0.5" stroke="#f070e0" stroke-opacity="0.95" stroke-width="0.65"/>
<circle cx="177" cy="241.6" r="2.3" fill="#f060c0" fill-opacity="0.5" stroke="#f060c0" stroke-opacity="0.95" stroke-width="0.65"/>
<circle cx="181.5" cy="241.6" r="2.3" fill="#8050d0" fill-opacity="0.5" stroke="#8050d0" stroke-opacity="0.95" stroke-width="0.65"/>
<circle cx="186" cy="241.6" r="2.3" fill="#e060e0" fill-opacity="0.5" stroke="#e060e0" stroke-opacity="0.95" stroke-width="0.65"/>
<circle cx="194.8" cy="241.6" r="2.3" fill="#60b0f0" fill-opacity="0.5" stroke="#60b0f0" stroke-opacity="0.95" stroke-width="0.65"/>
<circle cx="198.5" cy="241.6" r="2.3" fill="#60e0d0" fill-opacity="0.5" stroke="#60e0d0" stroke-opacity="0.95" stroke-width="0.65"/>
<circle cx="202.2" cy="241.6" r="2.3" fill="#60e0a0" fill-opacity="0.5" stroke="#60e0a0" stroke-opacity="0.95" stroke-width="0.65"/>
<circle cx="205.9" cy="241.6" r="2.3" fill="#d080e0" fill-opacity="0.5" stroke="#d080e0" stroke-opacity="0.95" stroke-width="0.65"/>
<circle cx="210.3" cy="241.6" r="2.3" fill="#6060e0" fill-opacity="0.5" stroke="#6060e0" stroke-opacity="0.95" stroke-width="0.65"/>
<circle cx="214" cy="241.6" r="2.3" fill="#4080f0" fill-opacity="0.5" stroke="#4080f0" stroke-opacity="0.95" stroke-width="0.65"/>
<circle cx="211.5" cy="241.6" r="2.3" fill="#8050e0" fill-opacity="0.5" stroke="#8050e0" stroke-opacity="0.95" stroke-width="0.65"/>
<circle cx="215.9" cy="241.6" r="2.3" fill="#50b0f0" fill-opacity="0.5" stroke="#50b0f0" stroke-opacity="0.95" stroke-width="0.65"/>
<circle cx="218.8" cy="241.6" r="2.3" fill="#f04060" fill-opacity="0.5" stroke="#f04060" stroke-opacity="0.95" stroke-width="0.65"/>
<circle cx="221.8" cy="241.6" r="2.3" fill="#f06080" fill-opacity="0.5" stroke="#f06080" stroke-opacity="0.95" stroke-width="0.65"/>
<circle cx="227.7" cy="241.6" r="2.3" fill="#f0a080" fill-opacity="0.5" stroke="#f0a080" stroke-opacity="0.95" stroke-width="0.65"/>
<circle cx="232.9" cy="241.6" r="2.3" fill="#6060d0" fill-opacity="0.5" stroke="#6060d0" stroke-opacity="0.95" stroke-width="0.65"/>
<circle cx="235.8" cy="241.6" r="2.3" fill="#70d080" fill-opacity="0.5" stroke="#70d080" stroke-opacity="0.95" stroke-width="0.65"/>
<circle cx="241" cy="241.6" r="2.3" fill="#a090c0" fill-opacity="0.5" stroke="#a090c0" stroke-opacity="0.95" stroke-width="0.65"/>
<circle cx="243.2" cy="241.6" r="2.3" fill="#b0f0b0" fill-opacity="0.5" stroke="#b0f0b0" stroke-opacity="0.95" stroke-width="0.65"/>
<circle cx="249.8" cy="241.6" r="2.3" fill="#e070e0" fill-opacity="0.5" stroke="#e070e0" stroke-opacity="0.95" stroke-width="0.65"/>
<circle cx="254.2" cy="241.6" r="2.3" fill="#70e070" fill-opacity="0.5" stroke="#70e070" stroke-opacity="0.95" stroke-width="0.65"/>
<circle cx="261.6" cy="241.6" r="2.3" fill="#6060e0" fill-opacity="0.5" stroke="#6060e0" stroke-opacity="0.95" stroke-width="0.65"/>
<circle cx="268.3" cy="241.6" r="2.3" fill="#90f090" fill-opacity="0.5" stroke="#90f090" stroke-opacity="0.95" stroke-width="0.65"/>
<circle cx="160.9" cy="273" r="2.3" fill="#e040e0" fill-opacity="0.5" stroke="#e040e0" stroke-opacity="0.95" stroke-width="0.65"/>
<circle cx="164.1" cy="273" r="3" fill="#8040e0" fill-opacity="0.5" stroke="#8040e0" stroke-opacity="0.95" stroke-width="0.65"/>
<circle cx="167.5" cy="273" r="2.3" fill="#f0f0a0" fill-opacity="0.5" stroke="#f0f0a0" stroke-opacity="0.95" stroke-width="0.65"/>
<circle cx="170.5" cy="273" r="2.3" fill="#a0e040" fill-opacity="0.5" stroke="#a0e040" stroke-opacity="0.95" stroke-width="0.65"/>
<circle cx="174.2" cy="273" r="2.3" fill="#f0b040" fill-opacity="0.5" stroke="#f0b040" stroke-opacity="0.95" stroke-width="0.65"/>
<circle cx="177.1" cy="273" r="2.3" fill="#f080c0" fill-opacity="0.5" stroke="#f080c0" stroke-opacity="0.95" stroke-width="0.65"/>
<circle cx="182.3" cy="273" r="2.9" fill="#40b060" fill-opacity="0.5" stroke="#40b060" stroke-opacity="0.95" stroke-width="0.65"/>
<circle cx="186" cy="273" r="2.3" fill="#f05080" fill-opacity="0.5" stroke="#f05080" stroke-opacity="0.95" stroke-width="0.65"/>
<circle cx="189.7" cy="273" r="2.3" fill="#e050c0" fill-opacity="0.5" stroke="#e050c0" stroke-opacity="0.95" stroke-width="0.65"/>
<circle cx="193.3" cy="273" r="2.3" fill="#60d060" fill-opacity="0.5" stroke="#60d060" stroke-opacity="0.95" stroke-width="0.65"/>
<circle cx="197" cy="273" r="2.3" fill="#d0f080" fill-opacity="0.5" stroke="#d0f080" stroke-opacity="0.95" stroke-width="0.65"/>
<circle cx="202.2" cy="273" r="2.3" fill="#60f0c0" fill-opacity="0.5" stroke="#60f0c0" stroke-opacity="0.95" stroke-width="0.65"/>
<circle cx="206.6" cy="273" r="2.3" fill="#f04080" fill-opacity="0.5" stroke="#f04080" stroke-opacity="0.95" stroke-width="0.65"/>
<circle cx="210.3" cy="273" r="2.3" fill="#6040e0" fill-opacity="0.5" stroke="#6040e0" stroke-opacity="0.95" stroke-width="0.65"/>
<circle cx="214" cy="273" r="2.3" fill="#4060f0" fill-opacity="0.5" stroke="#4060f0" stroke-opacity="0.95" stroke-width="0.65"/>
<circle cx="211.5" cy="273" r="2.3" fill="#a040d0" fill-opacity="0.5" stroke="#a040d0" stroke-opacity="0.95" stroke-width="0.65"/>
<circle cx="219.6" cy="273" r="2.3" fill="#e06040" fill-opacity="0.5" stroke="#e06040" stroke-opacity="0.95" stroke-width="0.65"/>
<circle cx="222.5" cy="273" r="2.3" fill="#f0a090" fill-opacity="0.5" stroke="#f0a090" stroke-opacity="0.95" stroke-width="0.65"/>
<circle cx="225.5" cy="273" r="2.3" fill="#a0d030" fill-opacity="0.5" stroke="#a0d030" stroke-opacity="0.95" stroke-width="0.65"/>
<circle cx="229.2" cy="273" r="2.3" fill="#60c060" fill-opacity="0.5" stroke="#60c060" stroke-opacity="0.95" stroke-width="0.65"/>
<circle cx="232.1" cy="273" r="2.3" fill="#5050d0" fill-opacity="0.5" stroke="#5050d0" stroke-opacity="0.95" stroke-width="0.65"/>
<circle cx="236.5" cy="273" r="2.3" fill="#40a0a0" fill-opacity="0.5" stroke="#40a0a0" stroke-opacity="0.95" stroke-width="0.65"/>
<circle cx="240.2" cy="273" r="2.3" fill="#80b090" fill-opacity="0.5" stroke="#80b090" stroke-opacity="0.95" stroke-width="0.65"/>
<circle cx="243.2" cy="273" r="2.3" fill="#e09090" fill-opacity="0.5" stroke="#e09090" stroke-opacity="0.95" stroke-width="0.65"/>
<circle cx="246.9" cy="273" r="2.3" fill="#e090b0" fill-opacity="0.5" stroke="#e090b0" stroke-opacity="0.95" stroke-width="0.65"/>
<circle cx="252.8" cy="273" r="2.3" fill="#90f0a0" fill-opacity="0.5" stroke="#90f0a0" stroke-opacity="0.95" stroke-width="0.65"/>
<circle cx="257.2" cy="273" r="2.3" fill="#70e080" fill-opacity="0.5" stroke="#70e080" stroke-opacity="0.95" stroke-width="0.65"/>
<circle cx="261.6" cy="273" r="2.3" fill="#4060c0" fill-opacity="0.5" stroke="#4060c0" stroke-opacity="0.95" stroke-width="0.65"/>
<circle cx="266" cy="273" r="2.3" fill="#e0e040" fill-opacity="0.5" stroke="#e0e040" stroke-opacity="0.95" stroke-width="0.65"/>
<circle cx="269" cy="273" r="2.3" fill="#f0e040" fill-opacity="0.5" stroke="#f0e040" stroke-opacity="0.95" stroke-width="0.65"/>
</g>
<rect x="158.8" y="190.7" width="110.4" height="101.5" fill="none" stroke="#c4c4c4" stroke-width="0.8"/>
<text x="214" y="186.2" font-size="8.3" text-anchor="middle">Infection B</text>
<text x="155.8" y="211.6" font-size="5.2" text-anchor="end" fill="#333">PT3</text>
<text x="155.8" y="243.5" font-size="5.2" text-anchor="end" fill="#333">PT4</text>
<text x="155.8" y="274.9" font-size="5.2" text-anchor="end" fill="#333">PT5</text>
<text x="143.4" y="241" font-size="6.9" text-anchor="middle" transform="rotate(-90 143.4 241)">Samples</text>
<text x="214" y="299.8" font-size="6.9" text-anchor="middle">Clones</text>
<text x="273.5" y="184" font-size="12" font-weight="bold" stroke="#000" stroke-width="0.3">D</text>
<linearGradient id="gCorr" x1="0" y1="0" x2="0" y2="1"><stop offset="0" stop-color="#9e2a12"/><stop offset="0.2" stop-color="#e66a10"/><stop offset="0.38" stop-color="#f8c818"/><stop offset="0.5" stop-color="#fdf020"/><stop offset="0.7" stop-color="#c8c880"/><stop offset="0.85" stop-color="#6a90b8"/><stop offset="1" stop-color="#2c5a9e"/></linearGradient>
<rect x="289.6" y="191.6" width="32.05" height="32.4" fill="#b52a24" stroke="#fff" stroke-width="0.3"/>
<text x="305.62" y="209.7" font-size="4.5" text-anchor="middle" fill="#1a1a1a">1.00</text>
<rect x="321.65" y="191.6" width="32.05" height="32.4" fill="#fdf01e" stroke="#fff" stroke-width="0.3"/>
<text x="337.68" y="209.7" font-size="4.5" text-anchor="middle" fill="#1a1a1a">0.05</text>
<rect x="353.7" y="191.6" width="32.05" height="32.4" fill="#f8dc1c" stroke="#fff" stroke-width="0.3"/>
<text x="369.73" y="209.7" font-size="4.5" text-anchor="middle" fill="#1a1a1a">0.13</text>
<rect x="289.6" y="224" width="32.05" height="32.4" fill="#fdf01e" stroke="#fff" stroke-width="0.3"/>
<text x="305.62" y="242.1" font-size="4.5" text-anchor="middle" fill="#1a1a1a">0.05</text>
<rect x="321.65" y="224" width="32.05" height="32.4" fill="#b52a24" stroke="#fff" stroke-width="0.3"/>
<text x="337.68" y="242.1" font-size="4.5" text-anchor="middle" fill="#1a1a1a">1.00</text>
<rect x="353.7" y="224" width="32.05" height="32.4" fill="#b9302a" stroke="#fff" stroke-width="0.3"/>
<text x="369.73" y="242.1" font-size="4.5" text-anchor="middle" fill="#1a1a1a">0.96</text>
<rect x="289.6" y="256.4" width="32.05" height="32.4" fill="#f8dc1c" stroke="#fff" stroke-width="0.3"/>
<text x="305.62" y="274.5" font-size="4.5" text-anchor="middle" fill="#1a1a1a">0.13</text>
<rect x="321.65" y="256.4" width="32.05" height="32.4" fill="#b9302a" stroke="#fff" stroke-width="0.3"/>
<text x="337.68" y="274.5" font-size="4.5" text-anchor="middle" fill="#1a1a1a">0.96</text>
<rect x="353.7" y="256.4" width="32.05" height="32.4" fill="#b52a24" stroke="#fff" stroke-width="0.3"/>
<text x="369.73" y="274.5" font-size="4.5" text-anchor="middle" fill="#1a1a1a">1.00</text>
<text x="304.62" y="293.8" font-size="4.2" text-anchor="end" fill="#222">PT1</text>
<text x="336.68" y="293.8" font-size="4.2" text-anchor="end" fill="#222">PT6</text>
<text x="368.73" y="293.8" font-size="4.2" text-anchor="end" fill="#222">PT2</text>
<text x="288.2" y="209.3" font-size="4.2" text-anchor="end" fill="#222">PT1</text>
<text x="288.2" y="241.7" font-size="4.2" text-anchor="end" fill="#222">PT6</text>
<text x="288.2" y="274.1" font-size="4.2" text-anchor="end" fill="#222">PT2</text>
<text x="388" y="231.6" font-size="2.9" font-weight="bold">Correlation</text>
<rect x="388" y="233.4" width="3" height="17.6" fill="url(#gCorr)"/>
<text x="392.2" y="235.1" font-size="2.6" fill="#333">1</text>
<text x="392.2" y="239.2" font-size="2.6" fill="#333">0.5</text>
<text x="392.2" y="243.3" font-size="2.6" fill="#333">0</text>
<text x="392.2" y="247.4" font-size="2.6" fill="#333">−0.5</text>
<text x="392.2" y="251.3" font-size="2.6" fill="#333">−1</text>
<rect x="405" y="191.6" width="31.85" height="32.4" fill="#b52a24" stroke="#fff" stroke-width="0.3"/>
<text x="420.93" y="209.7" font-size="4.5" text-anchor="middle" fill="#1a1a1a">1.00</text>
<rect x="436.85" y="191.6" width="31.85" height="32.4" fill="#dfd666" stroke="#fff" stroke-width="0.3"/>
<text x="452.78" y="209.7" font-size="4.5" text-anchor="middle" fill="#1a1a1a">−0.23</text>
<rect x="468.7" y="191.6" width="31.85" height="32.4" fill="#f9e51c" stroke="#fff" stroke-width="0.3"/>
<text x="484.62" y="209.7" font-size="4.5" text-anchor="middle" fill="#1a1a1a">0.19</text>
<rect x="405" y="224" width="31.85" height="32.4" fill="#dfd666" stroke="#fff" stroke-width="0.3"/>
<text x="420.93" y="242.1" font-size="4.5" text-anchor="middle" fill="#1a1a1a">−0.23</text>
<rect x="436.85" y="224" width="31.85" height="32.4" fill="#b52a24" stroke="#fff" stroke-width="0.3"/>
<text x="452.78" y="242.1" font-size="4.5" text-anchor="middle" fill="#1a1a1a">1.00</text>
<rect x="468.7" y="224" width="31.85" height="32.4" fill="#dbd26e" stroke="#fff" stroke-width="0.3"/>
<text x="484.62" y="242.1" font-size="4.5" text-anchor="middle" fill="#1a1a1a">−0.26</text>
<rect x="405" y="256.4" width="31.85" height="32.4" fill="#f9e51c" stroke="#fff" stroke-width="0.3"/>
<text x="420.93" y="274.5" font-size="4.5" text-anchor="middle" fill="#1a1a1a">0.19</text>
<rect x="436.85" y="256.4" width="31.85" height="32.4" fill="#dbd26e" stroke="#fff" stroke-width="0.3"/>
<text x="452.78" y="274.5" font-size="4.5" text-anchor="middle" fill="#1a1a1a">−0.26</text>
<rect x="468.7" y="256.4" width="31.85" height="32.4" fill="#b52a24" stroke="#fff" stroke-width="0.3"/>
<text x="484.62" y="274.5" font-size="4.5" text-anchor="middle" fill="#1a1a1a">1.00</text>
<text x="419.93" y="293.8" font-size="4.2" text-anchor="end" fill="#222">PT3</text>
<text x="451.78" y="293.8" font-size="4.2" text-anchor="end" fill="#222">PT4</text>
<text x="483.62" y="293.8" font-size="4.2" text-anchor="end" fill="#222">PT5</text>
<text x="503.6" y="231.6" font-size="2.9" font-weight="bold">Correlation</text>
<rect x="503.6" y="233.4" width="3" height="17.6" fill="url(#gCorr)"/>
<text x="507.8" y="235.1" font-size="2.6" fill="#333">1</text>
<text x="507.8" y="239.2" font-size="2.6" fill="#333">0.5</text>
<text x="507.8" y="243.3" font-size="2.6" fill="#333">0</text>
<text x="507.8" y="247.4" font-size="2.6" fill="#333">−0.5</text>
<text x="507.8" y="251.3" font-size="2.6" fill="#333">−1</text>
<text x="0.7" y="324.4" font-size="12" font-weight="bold" stroke="#000" stroke-width="0.3">E</text>
<circle cx="73.9" cy="356.4" r="26.8" fill="#f9164a"/>
<path d="M73.9 356.4L75.77 329.67A26.8 26.8 0 0 1 76.93 329.77Z" fill="#e0a040" stroke="#e0a040" stroke-width="0.15"/>
<path d="M73.9 356.4L76.93 329.77A26.8 26.8 0 0 1 78.32 329.97Z" fill="#90d020" stroke="#90d020" stroke-width="0.15"/>
<path d="M73.9 356.4L78.32 329.97A26.8 26.8 0 0 1 88.1 333.67Z" fill="#1212e6" stroke="#1212e6" stroke-width="0.15"/>
<path d="M73.9 356.4L88.1 333.67A26.8 26.8 0 0 1 89.08 334.31Z" fill="#20104a" stroke="#20104a" stroke-width="0.15"/>
<circle cx="73.9" cy="356.4" r="26.8" fill="none" stroke="#000" stroke-opacity="0.35" stroke-width="0.3"/>
<text x="23.4" y="334.3" font-size="6.45" font-weight="bold">PT3</text>
<text x="50" y="389" font-size="5.35" text-anchor="middle">CTACGATGCTGATGCCTG</text>
<circle cx="73.8" cy="423" r="26.7" fill="#1a82f2"/>
<path d="M73.8 423L87.15 446.12A26.7 26.7 0 0 1 86.33 446.57Z" fill="#40209a" stroke="#40209a" stroke-width="0.15"/>
<path d="M73.8 423L86.33 446.57A26.7 26.7 0 0 1 80.71 448.79Z" fill="#1414c8" stroke="#1414c8" stroke-width="0.15"/>
<path d="M73.8 423L80.71 448.79A26.7 26.7 0 0 1 69.16 449.29Z" fill="#ff10f0" stroke="#ff10f0" stroke-width="0.15"/>
<path d="M73.8 423L69.16 449.29A26.7 26.7 0 0 1 65.99 448.53Z" fill="#20e0f0" stroke="#20e0f0" stroke-width="0.15"/>
<path d="M73.8 423L65.99 448.53A26.7 26.7 0 0 1 64.67 448.09Z" fill="#206060" stroke="#206060" stroke-width="0.15"/>
<path d="M73.8 423L64.67 448.09A26.7 26.7 0 0 1 62.52 447.2Z" fill="#c0103a" stroke="#c0103a" stroke-width="0.15"/>
<circle cx="73.8" cy="423" r="26.7" fill="none" stroke="#000" stroke-opacity="0.35" stroke-width="0.3"/>
<text x="9" y="400.3" font-size="6.5" font-weight="bold">Metastasis 3</text>
<text x="50" y="455" font-size="5.35" text-anchor="middle">CTACGATGCTGATGCCTG</text>
<circle cx="73.1" cy="509.6" r="26.7" fill="#ff6a10"/>
<path d="M73.1 509.6L63.53 484.67A26.7 26.7 0 0 1 81.79 484.35Z" fill="#ff6a10" stroke="#ff6a10" stroke-width="0.15"/>
<path d="M73.1 509.6L81.79 484.35A26.7 26.7 0 0 1 82.67 484.67Z" fill="#604010" stroke="#604010" stroke-width="0.15"/>
<path d="M73.1 509.6L82.67 484.67A26.7 26.7 0 0 1 89.17 488.28Z" fill="#d0f010" stroke="#d0f010" stroke-width="0.15"/>
<path d="M73.1 509.6L89.17 488.28A26.7 26.7 0 0 1 96.45 496.66Z" fill="#2222e6" stroke="#2222e6" stroke-width="0.15"/>
<path d="M73.1 509.6L96.45 496.66A26.7 26.7 0 0 1 97.49 498.74Z" fill="#e01040" stroke="#e01040" stroke-width="0.15"/>
<path d="M73.1 509.6L97.49 498.74A26.7 26.7 0 0 1 97.86 499.6Z" fill="#205010" stroke="#205010" stroke-width="0.15"/>
<path d="M73.1 509.6L97.86 499.6A26.7 26.7 0 0 1 99.39 504.96Z" fill="#c0f020" stroke="#c0f020" stroke-width="0.15"/>
<path d="M73.1 509.6L99.39 504.96A26.7 26.7 0 0 1 99.54 505.88Z" fill="#605010" stroke="#605010" stroke-width="0.15"/>
<path d="M73.1 509.6L99.54 505.88A26.7 26.7 0 0 1 99.73 511.46Z" fill="#ff9010" stroke="#ff9010" stroke-width="0.15"/>
<path d="M73.1 509.6L99.73 511.46A26.7 26.7 0 0 1 99.01 516.06Z" fill="#4a10e6" stroke="#4a10e6" stroke-width="0.15"/>
<path d="M73.1 509.6L99.01 516.06A26.7 26.7 0 0 1 98.63 517.41Z" fill="#101060" stroke="#101060" stroke-width="0.15"/>
<path d="M73.1 509.6L98.63 517.41A26.7 26.7 0 0 1 95.24 524.53Z" fill="#b4f020" stroke="#b4f020" stroke-width="0.15"/>
<path d="M73.1 509.6L95.24 524.53A26.7 26.7 0 0 1 94.7 525.29Z" fill="#106010" stroke="#106010" stroke-width="0.15"/>
<path d="M73.1 509.6L94.7 525.29A26.7 26.7 0 0 1 83.53 534.18Z" fill="#50f010" stroke="#50f010" stroke-width="0.15"/>
<path d="M73.1 509.6L83.53 534.18A26.7 26.7 0 0 1 82.23 534.69Z" fill="#506010" stroke="#506010" stroke-width="0.15"/>
<path d="M73.1 509.6L82.23 534.69A26.7 26.7 0 0 1 78.65 535.72Z" fill="#20e060" stroke="#20e060" stroke-width="0.15"/>
<path d="M73.1 509.6L78.65 535.72A26.7 26.7 0 0 1 75.43 536.2Z" fill="#20e0a0" stroke="#20e0a0" stroke-width="0.15"/>
<path d="M73.1 509.6L75.43 536.2A26.7 26.7 0 0 1 71.7 536.26Z" fill="#20a0f0" stroke="#20a0f0" stroke-width="0.15"/>
<path d="M73.1 509.6L71.7 536.26A26.7 26.7 0 0 1 58.95 532.24Z" fill="#f2163e" stroke="#f2163e" stroke-width="0.15"/>
<path d="M73.1 509.6L58.95 532.24A26.7 26.7 0 0 1 57.79 531.47Z" fill="#900020" stroke="#900020" stroke-width="0.15"/>
<path d="M73.1 509.6L57.79 531.47A26.7 26.7 0 0 1 53.89 528.15Z" fill="#ffe010" stroke="#ffe010" stroke-width="0.15"/>
<path d="M73.1 509.6L53.89 528.15A26.7 26.7 0 0 1 52.95 527.12Z" fill="#ff8010" stroke="#ff8010" stroke-width="0.15"/>
<path d="M73.1 509.6L52.95 527.12A26.7 26.7 0 0 1 50.58 523.95Z" fill="#e612e6" stroke="#e612e6" stroke-width="0.15"/>
<path d="M73.1 509.6L50.58 523.95A26.7 26.7 0 0 1 49.98 522.95Z" fill="#501080" stroke="#501080" stroke-width="0.15"/>
<path d="M73.1 509.6L49.98 522.95A26.7 26.7 0 0 1 47.19 503.14Z" fill="#6412f5" stroke="#6412f5" stroke-width="0.15"/>
<path d="M73.1 509.6L47.19 503.14A26.7 26.7 0 0 1 47.43 502.24Z" fill="#604020" stroke="#604020" stroke-width="0.15"/>
<path d="M73.1 509.6L47.43 502.24A26.7 26.7 0 0 1 48.34 499.6Z" fill="#a0a010" stroke="#a0a010" stroke-width="0.15"/>
<path d="M73.1 509.6L48.34 499.6A26.7 26.7 0 0 1 48.71 498.74Z" fill="#901010" stroke="#901010" stroke-width="0.15"/>
<path d="M73.1 509.6L48.71 498.74A26.7 26.7 0 0 1 57.03 488.28Z" fill="#ff4410" stroke="#ff4410" stroke-width="0.15"/>
<path d="M73.1 509.6L57.03 488.28A26.7 26.7 0 0 1 59.75 486.48Z" fill="#1010a0" stroke="#1010a0" stroke-width="0.15"/>
<path d="M73.1 509.6L59.75 486.48A26.7 26.7 0 0 1 61.82 485.4Z" fill="#20c0f0" stroke="#20c0f0" stroke-width="0.15"/>
<path d="M73.1 509.6L61.82 485.4A26.7 26.7 0 0 1 63.53 484.67Z" fill="#203060" stroke="#203060" stroke-width="0.15"/>
<circle cx="73.1" cy="509.6" r="26.7" fill="none" stroke="#000" stroke-opacity="0.35" stroke-width="0.3"/>
<text x="22.4" y="488" font-size="6.45" font-weight="bold">PT5</text>
<text x="50" y="541.6" font-size="5.35" text-anchor="middle">CTACGATGCTGATGCCTG</text>
<circle cx="73.2" cy="577" r="26.6" fill="#f9164a"/>
<path d="M73.2 577L72.27 550.42A26.6 26.6 0 0 1 74.13 550.42Z" fill="#a09010" stroke="#a09010" stroke-width="0.15"/>
<path d="M73.2 577L74.13 550.42A26.6 26.6 0 0 1 75.52 550.5Z" fill="#303010" stroke="#303010" stroke-width="0.15"/>
<path d="M73.2 577L75.52 550.5A26.6 26.6 0 0 1 79.18 551.08Z" fill="#1520b0" stroke="#1520b0" stroke-width="0.15"/>
<path d="M73.2 577L79.18 551.08A26.6 26.6 0 0 1 80.08 551.31Z" fill="#908020" stroke="#908020" stroke-width="0.15"/>
<path d="M73.2 577L80.08 551.31A26.6 26.6 0 0 1 83.38 552.42Z" fill="#4a8070" stroke="#4a8070" stroke-width="0.15"/>
<path d="M73.2 577L83.38 552.42A26.6 26.6 0 0 1 90.12 556.47Z" fill="#f2188a" stroke="#f2188a" stroke-width="0.15"/>
<path d="M73.2 577L90.12 556.47A26.6 26.6 0 0 1 90.65 556.92Z" fill="#901030" stroke="#901030" stroke-width="0.15"/>
<circle cx="73.2" cy="577" r="26.6" fill="none" stroke="#000" stroke-opacity="0.35" stroke-width="0.3"/>
<text x="9" y="552.9" font-size="6.5" font-weight="bold">Metastasis 5</text>
<text x="50" y="609" font-size="5.35" text-anchor="middle">CTACGATGCTGATGCCTG</text>
<text x="185" y="332.8" font-size="4.9" text-anchor="middle" fill="#222">Dataset 3</text>
<path d="M174.2 348.6h0M174.4 344.4h0M169.5 344.9h0M183.8 348.1h0M183.3 347.2h0M178.8 346.9h0M164.3 350.3h0M179.5 348.5h0M164.2 337.3h0M169.8 343.7h0M178.1 345.8h0M179.6 342.8h0M178.2 348h0M171.4 354.6h0M179.9 352h0M171.7 342.3h0M173.6 345.5h0M180.4 347.2h0M172.9 341.2h0M172.4 352.1h0M170.3 347.2h0M179 338.6h0M176.3 352.5h0M161.9 344.4h0M175.3 341.9h0M179.5 345.7h0M165.7 350.1h0M180.7 350.7h0M186.1 347.8h0M176.8 339.5h0M180.3 342.9h0M172.8 339.7h0M169.2 343.3h0M185 335.8h0M165.8 347.2h0M186.1 348.9h0M162.7 333.4h0M178.5 342.3h0M168.2 350.9h0M183.7 346.8h0M177.7 348.2h0M187.2 349.1h0M179.6 348.7h0M165 352.4h0M182.7 348.6h0M162.2 342.8h0M181.9 336.9h0M174.7 351.1h0M166.8 354.1h0M179.9 345.2h0M178.3 349.2h0M176.8 351.7h0M171.4 343.9h0M183.3 346.1h0M169.8 350.7h0M186.3 343.8h0M166.3 345.3h0M175 344.5h0M185.8 340.9h0M184.8 339.7h0M187.4 354.5h0M200.9 365.3h0M197.1 358.4h0M194.5 359.1h0M192.9 356.2h0M199.2 359h0M199 362.3h0M208.9 367.7h0M192.9 352.3h0M192.3 359.7h0M191.4 355.8h0M215.9 355h0M186 351.2h0M197.3 359h0M189.9 356.5h0M198.6 355.3h0M211.9 370h0M191.2 352.7h0M193.5 354.6h0M176.3 339.9h0M205.8 356.4h0M191.8 359.6h0M197 366.5h0M183.5 345.8h0M190.7 356.8h0M210.7 350.6h0M207.2 355.7h0M204.3 353.4h0M192.9 361.8h0M193.4 356h0M200.5 360.7h0M190 361.8h0M203.6 360.2h0M218.5 365.5h0M202.5 359.6h0M194 359.6h0M194.8 359.8h0M188.1 341.9h0M202.3 355.2h0M191.6 344.7h0M202.2 365.6h0M208.5 359.8h0M198.3 351.3h0M196.1 366.5h0M184 357.8h0M202.8 360.4h0M176.4 351.6h0M196 353h0M196.8 359.7h0M209 359.6h0M199.1 368h0M206.2 362.8h0M186.6 356.3h0M195.5 357.1h0M206.3 362.3h0M179.2 342.6h0M179 349.8h0M199.1 355.1h0M192.5 359.4h0M191.8 361.8h0M191.6 359.9h0M201.4 370.3h0M187.5 356.1h0M184.3 341.9h0M177.5 350.2h0M186 349.6h0M193.7 354.9h0M190 353.9h0M208.1 365.4h0M196 362.8h0M164.4 338.5h0M163.3 343.1h0M160.1 339.8h0M168 342.6h0M165 342.6h0M165.5 338.6h0M160.3 339.7h0M167.8 339.9h0M162.3 339.5h0M160.4 340.8h0M161.5 341.7h0M157.9 341.7h0M163.1 337.1h0M167.2 340.4h0M158.3 339.2h0M165.9 340.1h0M167.3 342.5h0M167 341.7h0M169 342.3h0M166.4 336.8h0M167.7 343.6h0M164.1 340.1h0M170.8 337.5h0M166.4 345.8h0M162.2 342.4h0M226.4 418.6h0M207.9 430.8h0M187.3 418.9h0M204.1 429.9h0M199.5 417.7h0M185.8 415.7h0M212.5 421.2h0M188.1 409.9h0M237.3 433.7h0M208.9 388.9h0M208.7 425.8h0M223.6 425.1h0M199.1 426.3h0M172.8 432.4h0M204.5 411.6h0M218.6 441.7h0M180.4 412h0M204.1 422.2h0M194.4 408.3h0M229.7 432.4h0M183.3 403.9h0M223.8 431.9h0M225.5 429.7h0M187.8 423.1h0M169.8 411h0M199.2 426.3h0M189.8 418.5h0M206.4 424.5h0M208.9 422.5h0M195.5 429.5h0M200.7 410.1h0M191.2 420h0M198.5 421.9h0M200 422.1h0M198.1 404.9h0M205.9 432.6h0M206.1 417.7h0M206.3 408.4h0M173.5 420.7h0M187 428.9h0" fill="none" stroke="#e4dede" stroke-width="0.8" stroke-linecap="round"/>
<path d="M135.9 383h0M133.6 393.4h0M141.2 391.5h0M147.1 394.4h0M138.1 393.8h0M144.3 384.5h0M137.3 394.5h0M136.4 396.4h0M141.8 395.5h0M145.6 389.3h0M136.1 395.3h0M144.1 390.5h0M131.2 391.5h0M140.4 396.7h0M142.9 390.6h0M143.3 393.5h0M139.4 390.8h0M136.7 394.3h0M131.9 387h0M138.2 382.4h0M134.1 393.6h0M141.6 390.2h0M136.8 382.7h0M144.8 385.6h0M142.9 395.6h0M134.4 382.8h0M138.4 391.9h0M142 394.4h0M130.3 387.7h0M131.8 384.6h0M137.7 390.5h0M141.1 381.8h0M130.8 390.4h0M137 388.8h0M137.8 386.3h0M142.4 392.4h0M137.7 386.8h0M132.3 390.7h0M129.2 391.6h0M139.1 382.9h0M136.7 388.8h0M141 393.9h0M138 385.8h0M137.3 390.1h0M142.6 392.1h0M133.9 383.1h0M136 386.4h0M131.5 389.9h0M135.3 391.1h0M141.3 388.2h0M144.8 391.2h0M133.7 391.9h0M140.1 397.5h0M142.8 395.7h0M141.3 389.6h0M141.3 384.6h0M145.3 384.9h0M136.9 390.6h0M145.2 390.6h0M133.4 391.9h0M141.7 394.4h0M148.2 390.6h0M139.8 388.1h0M146.7 386.6h0M142.2 387.9h0M134 394.5h0M146.2 390.4h0M134.1 395h0M137.9 392.2h0M138.2 394.8h0M134.3 390.3h0M145.3 388h0M137.8 388.8h0M137.5 384.5h0M138.3 382.6h0M137.8 392.2h0M141 389.2h0M132.8 391.4h0M135.3 399.1h0M142.8 389.9h0M135.4 386.6h0M132.6 388.6h0M140 393.3h0M134 390.6h0M135.1 391.4h0M139.1 392.7h0M136.8 392.5h0M138.5 394.7h0M138.2 384.8h0M131.9 394h0M134.3 394h0M142.7 392.2h0M141.2 389.9h0M129.7 390.3h0M140.9 387.6h0M137.6 394.6h0M132.9 394h0M139.1 389.7h0M147.4 392.2h0M143.6 386.7h0M138.1 390.4h0M142.7 389.8h0M140.9 392.5h0M129.2 389.3h0M147.2 387.3h0M132.1 383h0M130.9 392.3h0M148.4 392.9h0M135.1 386.8h0M141.4 393.5h0M132.1 384.1h0M139.9 391.9h0M130.4 389.4h0M134.9 393h0M137.5 390h0M136.1 396.3h0M146.5 388.5h0M143.3 386.3h0M138.6 394.6h0M147.3 388.4h0M137.8 391.6h0M129.2 390.6h0M134.1 392.5h0M138.4 391.9h0M134.9 395.4h0M136.6 387.2h0M141.1 381.9h0M134.1 390.4h0M143.3 389.6h0M140.1 386.9h0M140 399.6h0M134.3 390.6h0M139.2 396.1h0M141.8 394.9h0M139.4 391.9h0M143.8 392.5h0M143.1 388.5h0M138.2 389.1h0M135.2 385.9h0M134.4 394h0M138.4 390.9h0M137.2 395.5h0M141.2 389.7h0M142.2 389.7h0M141 385.2h0M144.7 392.4h0M140.2 395.4h0M139.4 389.7h0M138.4 388.9h0M140.3 390.9h0M142.3 388.5h0M135.7 394.2h0M146.2 388.5h0M137.5 399.2h0M136.2 394.5h0M148.3 390.7h0M145.6 386.6h0M139.4 390.1h0M138.9 396.7h0M134.7 393.2h0M131.9 393.2h0M141.6 389h0M141.4 382h0M142.8 382h0M134 387.4h0M135.8 395.2h0M138.7 388.3h0M141.5 399.2h0M138.2 392.5h0M145.6 392h0M138 392.8h0M144 394.2h0M136.6 384.7h0M138.8 396.2h0M131.7 384.9h0M136.6 388.1h0M140.9 386.6h0M132.9 388.3h0M137.9 386.8h0M138.3 394.6h0M133.5 388.2h0M133.9 390.3h0M141.3 383h0M141 390.4h0M143 391.7h0M141 392.9h0M146 389.3h0M143.4 388.2h0M142.6 386h0M137.5 400h0M140.9 389.6h0M131.3 386.2h0M139.4 395.7h0M140.8 393.4h0M137.9 397.9h0M135.9 387.5h0M143.5 390.8h0M136.5 387.3h0M136.7 393.9h0M140.3 383.8h0M140.8 391.5h0M132.2 394.8h0M136.5 388.7h0M143 397.8h0M134.1 392.9h0M135.2 397.1h0M134.3 395h0M135.6 393.3h0M137.6 386.8h0M134.7 391.3h0M145.8 391.1h0M145.3 394.6h0M133.3 395.2h0M141.2 394.1h0M143.6 394.5h0M139.2 393.2h0M136.2 390.7h0M143.5 388.1h0M145.1 386.2h0M139.8 387.6h0M139.1 386.7h0M140 387.4h0M139.4 395.9h0M132.3 389.9h0M141.4 393.4h0M145.7 392.3h0M138.3 389h0M139.8 388.2h0M132.1 386.4h0M134.6 387.1h0M131.2 394h0M130.3 394.1h0M132.1 392.4h0M146.4 391.6h0M133.8 390.8h0M139.1 381h0M134.6 391.4h0M135.4 390.9h0M142.6 394.7h0M143.6 393.7h0M136.5 390.4h0M136.6 388.8h0M137.1 381h0M136.2 390.4h0M132.4 390.4h0M141.3 389.6h0M141.3 388.8h0M143.3 392.5h0M138.3 387.3h0M142 387.8h0M139.5 387.7h0M139.4 394.6h0M132.9 390.3h0M141.9 391.3h0M143.7 395h0M134.5 386.6h0M143.5 385.5h0M134.1 386.5h0M139.6 386.4h0M146.1 390.1h0M131.7 397.7h0M134.7 391.7h0M138.1 388.8h0M140.1 386.7h0M130.6 386.3h0M138.1 390.8h0M141.5 391.2h0M133.4 386.6h0M141.1 393.4h0M137.5 389.5h0M143.8 390.6h0M142.6 393.7h0M139.5 397.7h0M134.8 388.5h0M133.4 386.1h0M138.3 393.6h0M145.3 394.9h0M145.4 383.6h0M134.4 393h0M146.8 391.1h0M133 388.6h0M134.2 385.8h0M147.2 387.1h0M145.3 392.3h0M134.5 392.8h0M147.9 393.9h0M145.8 391h0M141.3 389.4h0M140.8 397.7h0M129.6 390.2h0M139.6 387.4h0M136.4 394.8h0M140.2 382h0M138 384.3h0M137.9 384.5h0M138.6 393.1h0M138.4 392h0M133.1 398.4h0M137.1 386.3h0M132.1 388.5h0M139.9 384h0M137.4 398.3h0M142.3 389.7h0M139 389.8h0M137.9 394.5h0M138.1 385.6h0M142.1 387.1h0M131.9 384.3h0M129.3 393.9h0M133.5 388.5h0M140.2 398h0M139.1 391.5h0M136.3 393h0M139.9 390.8h0M135.2 383.2h0M135 382h0M145.5 393.5h0M141.4 392.8h0M139.4 391.4h0M134.9 387.2h0M140.4 392h0M138.4 386.8h0M135.5 395.7h0M142.8 391.1h0M136.3 399h0M134.6 394.1h0M145.1 389h0M143.2 384.4h0M144.3 391.6h0M128.7 394.2h0M132.8 397.6h0M134.1 389.6h0M139.9 388.7h0M139.8 387.5h0M142.2 390.5h0M145.2 390.7h0M141 396.4h0M137.3 394.2h0M136 384.4h0M144.8 395.5h0M134.3 386.8h0M133.3 393.7h0M140.2 389h0M139.2 389.7h0M139.5 394.6h0M144 386.7h0M138.9 396.6h0M128.3 388.7h0M138.4 382.6h0M135.1 394.5h0M133 382.8h0M141.3 395.7h0M139.4 383.3h0M142.9 394.9h0M141.5 387.8h0M140 394.8h0M140.2 393.1h0M138.3 395.4h0M134.7 390h0M136.4 393.6h0M147.8 389.1h0M142.9 393.7h0M137.5 384.7h0M141 397.9h0M141.4 392.8h0M137 391.4h0M135.7 384.4h0M133.7 386h0M143.3 396.3h0M130.1 395.6h0M143.5 387.3h0M129.3 386.4h0M134.4 392.4h0M139.6 382.1h0M143.6 383.9h0M134 385.8h0M134.9 397.6h0M143.3 393.8h0M140.1 382h0M135.1 387.5h0M132.3 393.3h0M133.8 386.6h0M141.8 397.8h0M139.2 385.1h0M145.5 392.1h0M143.8 398.6h0M145 388.1h0M144.5 394.8h0M129 388.3h0M129.7 389.9h0M141.7 384.6h0M140.5 398.6h0M130.3 396.3h0M136.9 392h0M137.3 396h0M144.4 391h0M130 394.6h0M135.4 394h0M139.8 399.4h0M145 388h0M135 392.9h0M145.3 397.4h0M141.3 383.2h0M130.6 391.9h0M133 396.8h0M133.3 391.4h0M135.2 389.7h0M141 386h0M141 387h0M134.9 393.5h0M134.8 392.1h0M147.8 390.6h0M137.3 394.5h0M136 396.5h0M130.5 393.9h0M135.1 386.1h0M137.5 389.8h0M135.7 387h0M140.9 392.3h0M139.3 400h0M136.2 393.1h0M130.1 384.5h0M141.2 398.5h0M128.5 388.8h0M133.8 389h0M138.5 393.5h0M136.1 390.6h0M134.9 391.1h0M131.2 390.8h0M130.6 391.9h0M133.8 394.6h0M140.5 390h0M132.6 384.6h0M146.3 391.8h0M131.3 390.1h0M139.5 389.6h0M136.5 382.9h0M133.7 395.2h0M128 389h0M139.8 396.2h0M131.5 393.8h0M140.5 386.4h0M141.1 385.6h0M133.4 390.4h0M135.6 394.7h0M135.8 397.5h0M147.5 392.7h0M143.9 386h0M143 391.9h0M142.1 390.6h0M145.4 386.9h0M145.2 386.4h0M131.9 385.3h0M135.5 383.5h0M136.5 387.1h0M134.9 385.2h0M138.4 388h0M138.9 391.9h0M135 386.1h0M133.9 388.9h0M136.2 396h0M135.5 395.8h0M145.5 392.9h0M141.1 391.2h0M141.1 383.8h0M143.9 387.6h0M144.1 391h0M145 389.7h0M135.8 391.8h0M135.6 387.5h0M138.8 391.3h0M147.3 390.8h0M139 391.3h0M137.3 386.5h0M137.8 387h0M148 393.4h0M137.9 388.2h0M131.7 384.2h0M138 389.7h0M146.9 391.2h0M139.2 388.5h0M134.6 398.7h0M136.1 390.7h0M132.9 395.8h0M129.8 393.6h0M132.6 396.5h0M133.9 386.3h0M133.6 388.6h0M134.2 397h0M134.1 387.7h0M131.7 396.3h0M139.9 386.3h0M142.9 390.5h0M131.2 393.9h0M133.9 388.6h0M136.8 392.4h0M141.3 399.2h0M142.2 388.8h0M131.1 385.3h0M134.2 391.3h0M137.9 399.7h0M139.9 384.6h0M138.8 386.5h0M143.7 386.1h0M130.3 391.6h0M139.7 393.8h0M142.1 398.2h0M133.2 395.9h0M132.3 394.3h0M139.3 391.8h0M144 390.4h0M144.9 395.3h0M139 387.4h0M133.7 387.6h0M137 390.4h0M142.8 385.8h0M133.9 388.7h0M139.4 384.8h0M147.9 387.4h0M138.2 392h0M139.3 393.8h0M139.9 391.4h0M140 389.4h0M133.3 387.3h0M137.9 397.6h0M135.3 385.7h0M134.8 391.5h0M138.5 392h0M138 395.6h0M139.2 389h0M140.3 382.1h0M141.4 391.6h0M136 386.3h0M129.7 385.5h0M142.4 393.5h0M138.1 393.3h0M134.6 390.9h0M138.4 393.5h0M137.8 389.7h0M137.4 387h0M142.4 395.1h0M142.8 384h0M133 392h0M141.2 384.9h0M135.9 388.3h0M138.6 392.3h0M136.5 383.7h0M137.6 396.1h0M140.9 394.1h0M141.1 386.3h0M141.6 396.1h0M136.2 387.2h0M133.3 391.1h0M138 394.2h0M142.3 393.1h0M139.8 389.4h0M137.5 386h0M139.3 390.4h0M140.1 385.8h0M138.4 390.8h0M141.8 384.7h0M140.7 395.9h0M141.8 388.5h0M135.3 389.2h0M142.6 399h0M137.3 387h0M140.5 391.6h0M132.8 386.4h0M137.6 394.2h0M131 384.9h0M141.2 383.8h0M138.9 392.4h0M137.5 384.9h0M137.8 388.7h0M140.2 385.9h0M137.1 390.5h0M144 387.2h0M141.5 387.4h0M135.8 392.9h0M132.6 395.9h0M145.5 390.7h0M131.4 392.7h0M145.1 396.5h0M134.1 398.3h0M130.8 396.7h0M144.9 388.7h0M130.8 389.9h0M137 390.2h0M142.4 389.7h0M139.4 392.8h0M140.9 391h0M137 387.1h0M146.3 391.3h0M131.7 387.4h0M137.4 388h0M144.7 384.1h0M141.2 391.3h0M131.1 390.8h0M137.6 393.3h0M135.5 392.2h0M142.9 396.2h0M138.1 387.2h0M133.4 394.2h0M142.1 384.8h0M139.1 385.6h0M138.5 395.5h0M145 392.7h0M138.2 396.3h0M134.4 386.6h0M136 390.1h0M131.7 393.2h0M141.5 390.9h0M148.4 388.7h0M146 387.5h0M139.4 389.5h0M135.2 387.1h0M136.1 386.5h0M134.9 387.6h0M131.9 389.8h0M142.9 389.1h0M135.2 398h0M144.1 395.6h0M145.1 388.7h0M137.4 396.6h0M134.9 389.8h0M140.5 392.6h0M136.5 395.9h0M137.1 394.5h0M144.6 394.1h0M142.6 384.1h0M130.3 387.1h0M141.1 398.8h0M130.9 392.2h0M133.1 386.5h0M136.5 394.3h0M139.5 397h0M132.3 395.4h0M143.8 390.9h0M141.1 387.4h0M131.7 388.3h0M135.3 399.6h0M139.4 392.2h0M142.7 386.2h0M143.7 392.6h0M129.1 393.8h0M141.5 393h0M147.7 388.2h0M141.3 394.6h0M132.8 397.1h0M141.3 384.5h0M137.5 381.5h0M138.6 384.3h0M140.3 382.1h0M140.9 389h0M138.6 390.1h0M139 383.2h0M132.6 388h0M133.6 387.1h0M131.9 392.3h0M137.4 386h0M132.3 394.9h0M134.2 393.7h0M131.7 390.5h0M140.3 394.8h0M143 396.2h0M136 389.3h0M142.9 388.2h0M142.1 389.5h0M140.1 390.6h0M131.7 387.9h0M147.3 386h0M131 389.8h0M135.8 385.5h0M133.1 396.3h0M134.9 384.5h0M142.9 393.6h0M131.9 394.6h0M145 389.1h0M130.4 393.3h0M143.7 390.4h0M140.7 394.7h0M135.3 390.3h0M145.4 385.3h0M143 386.8h0M141 394.3h0M131.1 390h0M139.6 393.7h0M132.6 385h0M137 389.3h0M135 398.4h0M143.3 390.6h0M142.6 384.4h0M136.2 387.3h0M130.6 390.6h0M137.3 398.4h0M132.7 387.9h0M140.7 392.7h0M138.4 387.9h0M141.2 392.5h0M139.1 390.8h0M138.9 385.7h0M137 385.5h0M140.5 394.3h0M133.4 388h0M132.6 392.2h0M130.4 393.3h0M138.2 392.1h0M140.3 386.2h0M138.5 396h0M137.4 386.7h0M138.4 393.9h0M135.8 393.2h0M143.1 389.7h0M135.5 389.5h0M132.4 389.4h0M136.4 391.7h0M135.5 393.8h0M140 394.7h0M138.3 392h0M135.4 386.2h0M150 389.2h0M149 386.3h0M147.2 383.3h0M146.9 382.9h0M141.6 389.1h0M142.7 384.7h0M143.7 385.3h0M145 382.3h0M150.9 382.1h0M143.7 386.7h0M143.5 383.3h0M147.6 383.5h0M140.3 384.5h0M141 388.1h0M142.4 383.6h0M144.5 385.7h0M143.1 389.3h0M150.6 387.6h0M142.5 387.9h0M145.5 386h0M144.8 387.1h0M151.1 388.6h0M145.1 388.2h0M148.5 386.8h0M152.8 385.7h0M143.8 382.1h0M140.2 387.4h0M144.9 382.4h0M148.4 382.2h0M144 383.2h0M145.3 379.5h0M147.3 385h0M147.6 386.7h0M144.5 387.9h0M149.8 385.5h0M144.1 383.2h0M149.2 381.1h0M145.3 382.3h0M139.6 386.9h0M145.9 384.9h0M145.7 385.8h0M149.8 381.1h0M149.3 385.5h0M146 383.4h0M144.4 381.6h0M145.6 386.2h0M150.6 383.6h0M152.4 382.6h0M142.5 382.1h0M152.7 386.6h0M141 386.6h0M148.2 384h0M146.1 383.8h0M145.6 389.1h0M152.4 383.9h0M142.6 384.1h0M150 386h0M143.4 386h0M145.1 386.5h0M144.2 379.9h0M146.3 387.3h0M141 384.4h0M149.9 383.6h0M149.7 388.2h0M138.6 383.1h0M149.3 389.2h0M141.8 382.6h0M148.9 386.7h0M144 386.6h0M149.5 385.8h0M148.3 389.8h0M143.9 385.3h0M143.7 388.2h0M144.2 386.4h0M146.6 385h0M153.7 384.5h0M152.3 387.5h0M151.9 384.3h0M150.1 387.3h0M143.3 385.7h0M145.4 384.7h0M151.8 382.4h0M144 382.7h0M146.1 386.7h0M148.1 382.4h0M148.6 389.3h0M149.7 379.9h0M144.6 386.7h0M147.8 382.1h0M142.1 388h0M146.1 385.8h0M140.1 382.8h0M149.1 380h0M140.6 384.9h0M148.1 387.2h0M144.4 384.1h0M145 382.9h0M147.1 385.3h0M143.2 385.6h0M145.9 384.5h0M147.1 381.3h0M144.6 389.7h0M141.2 384.5h0M143.4 387.9h0M148.3 383.6h0M144.6 388.3h0M142.1 383.6h0M146.7 386.1h0M143.7 388.2h0M152.2 383.7h0M146.6 383.7h0M143.2 380.6h0M144.3 389h0M151 383.7h0M143.7 382.5h0M148.9 385.2h0M143.8 381.5h0M151.8 387.3h0M141.8 388h0M141.1 386.9h0M141.8 383.4h0M148.2 386.2h0M150.5 382.1h0M146 386.3h0M142.6 384.3h0M140.2 385.1h0M146.9 389.2h0M150.2 387.5h0M144.4 384.1h0M144.5 385.5h0M139.1 383.1h0M146.1 383.1h0M153.3 384.5h0M143.8 386.1h0M151.7 383.7h0M146.4 383h0M146.3 383.6h0M146.4 388.1h0M152.2 385.2h0M146.9 387.6h0M144.7 381.3h0M150.9 381.7h0M150.1 381.7h0M149.7 389.7h0M141.8 389.6h0M149.2 387.1h0M145.8 383.8h0M144.3 383.9h0M144.4 382.5h0M147.8 388.3h0M149.2 381h0M146.7 385.3h0M148.3 388.8h0M144.3 389.8h0M144.1 386.1h0M150.1 381.8h0M146.7 384.6h0M144.6 386.4h0M146.4 383.9h0M144 381.7h0M143.3 385.1h0M148.6 382h0M150.4 381.5h0M149.7 386.2h0M144.8 384.3h0M148.1 387.6h0M140.1 385.7h0M142.7 386.9h0M152 385h0M145.5 385.4h0M148.5 385.3h0M144.3 382.4h0M145.2 388.8h0M145.5 389.2h0M147.2 384.8h0M141.6 381.2h0M143.6 386.9h0M152.4 382.9h0M143.4 390.2h0M145.6 380.8h0M143.2 382.4h0M141.5 383.7h0M149.9 385.9h0M141.6 385.2h0M146.1 387.3h0M144.5 386.3h0M141.2 385.9h0M142.5 383.6h0M146.8 385.9h0M144.7 387.6h0M145.1 380.5h0M149.9 383.6h0M151.4 382.7h0M148.5 385.8h0M150.8 386.4h0M149 383.2h0M146 385.5h0M147.9 387.1h0M145.1 382.5h0M143.5 386.1h0M144.2 383h0M144.5 384h0M144.6 386.3h0M148.2 388.7h0M150.7 381.4h0M148.8 383.7h0M142.5 389.8h0M143.2 382h0M144.2 382h0M150.5 386h0M152.2 386.1h0M143.3 388.2h0M143.1 383.3h0M145.3 384.9h0M151.3 382.8h0M147.6 384.7h0M140.4 381.2h0M145 386.1h0M147.4 386.4h0M146.2 383.3h0M147.9 381.5h0M140 383.7h0M139.7 383.1h0M142.7 383h0M145.8 382.2h0M144.1 379.2h0M146.6 381.9h0M142.4 385.6h0M146.4 385.1h0M139.4 385.6h0M146.7 381.6h0M149.3 384.6h0M146.1 383.3h0M148.4 385.1h0M151 386.3h0M143.3 384.1h0M150.1 383.6h0M147.7 386.5h0M146.6 385.5h0M146.6 382.3h0M151.4 384.4h0M143.2 382.4h0M147.6 381.2h0M151.8 388.3h0M152.1 386.8h0M151.5 386.4h0M152.1 383.2h0M146.6 387.4h0M145.6 388.4h0M146.4 387.1h0M146.4 379.9h0M147.2 389.1h0M148.5 382.8h0M145.2 387.8h0M149.7 389.2h0M141.9 382.7h0M147.9 383.2h0M145.7 385.5h0M150.4 389.3h0M148.3 386h0M142 404.2h0M142.9 407.9h0M138.3 409.5h0M142 404.9h0M139 400.5h0M139.6 403.1h0M143.3 413.3h0M142.7 412.2h0M141.1 412.7h0M142.6 415h0M139.9 402.3h0M136.7 401.9h0M146.1 411.5h0M149.2 413.7h0M140 406.1h0M140.8 406.2h0M145.6 415h0M135.9 398.9h0M141.2 405.4h0M142.8 400.2h0M137.8 396.5h0M149 413h0M137.7 401.4h0M137.3 401.2h0M139.2 402.9h0M142.2 406.8h0M138.4 407.4h0M138.4 402.7h0M141.3 407.8h0M149.1 411.4h0M143.3 407.8h0M142.6 402.7h0M141.1 399h0M148.4 418.4h0M147 410.2h0M139 408.8h0M144 404.5h0M143.2 403h0M136.9 395.5h0M142.1 402.1h0M140.5 398.4h0M139.5 409.4h0M134.9 394.5h0M137.7 397.3h0M140.9 407.4h0M147.5 413.6h0M137.4 396.7h0M144.6 407.3h0M135.4 396h0M143.1 407.2h0M143.8 407h0M142 410h0M143.4 412.3h0M146.1 407.5h0M139.9 403.1h0M142.8 401.9h0M134.1 393h0M143.3 405.5h0M142.2 401.9h0M139.1 400.4h0M137.7 402.1h0M140.9 405.1h0M140.4 410.5h0M143.6 410.7h0M143 403.8h0M138.9 404.3h0M143.6 407.2h0M140.7 409.6h0M146.4 407h0M140.5 404.7h0M137.4 399.7h0M143 403.5h0M135.1 397.9h0M145.2 407.5h0M135.8 399.7h0M144.8 410h0M148.7 417.3h0M135.2 399.6h0M140.3 405h0M144.3 405h0M137.6 397.1h0M149.6 415h0M146.6 416.2h0M136.9 398.2h0M146.1 409h0M136.5 398.4h0M142.1 398.3h0M140.5 404.5h0M142.4 400.5h0M146.7 405.4h0M142.7 410.5h0M142.6 408.9h0M145 404.6h0M146.3 417.3h0M143.3 402.5h0M146.3 417.5h0M135.6 398.2h0M144.3 408.4h0M136.9 402.7h0M139.5 406.1h0M138.9 404.7h0M147.4 410.8h0M137.8 398.1h0M144.4 412.4h0M149.8 413.4h0M145.2 408.8h0M141.4 407.1h0M138.6 398.7h0M136.7 397.8h0M139.7 399.2h0M144.2 406.8h0M147.7 413.6h0M144.4 412.5h0M138.3 398.2h0M139.4 399.5h0M136.5 406.3h0M136.6 404.9h0M146.6 407.6h0M144.9 414h0M141.6 404.2h0M143.5 407.5h0M140.6 401.7h0M147.8 413.7h0M145.9 407.3h0M142.2 399.1h0M139.5 405.4h0M144.1 407.6h0M145 410h0M142.6 409h0M135 397.5h0M142.2 403.6h0M146.3 417.5h0M139.3 405.4h0M139.8 399.7h0M140.2 401.7h0M145.9 411.1h0M144.2 407.7h0M140.6 404.7h0M135.3 399.4h0M139.7 409.1h0M144 413.8h0M143.7 403.6h0M142 403.8h0M143.8 407.2h0M147.4 413.9h0M138.7 405.4h0M144.6 404.5h0M143.8 408.8h0M139.4 397.4h0M143 409.9h0M144.8 408.3h0M143 407.6h0M141.7 404.3h0M137.4 403.1h0M138 408.3h0M141.1 413.7h0M140.5 405.6h0M140.5 402.7h0M136.5 392.8h0M139.6 398.3h0M145.9 415.1h0M144.5 415.9h0M143 413.9h0M137.6 402.6h0M141.8 403h0M146.9 411h0M142 408.4h0M144.1 408.3h0M136.8 396.7h0M143.3 413.2h0M141.8 412.1h0M138.1 398.8h0M140.8 409.7h0M141.2 407.8h0M134.5 392.9h0M137.8 394.8h0M138.7 409.7h0M142 410.2h0M145.3 413.6h0M138.7 399.7h0M143.7 408.1h0M140.1 400.7h0M138.4 393.9h0M142.3 404.9h0M138.7 408h0M143 408.1h0M139.8 396.2h0M145.2 407.6h0M145.9 407.8h0M142.5 406.9h0M146.5 412.7h0M139.8 403.6h0M138.1 408.5h0M142 403.5h0M139.5 404.3h0M141.1 408.5h0M148.9 419.3h0M136.8 397.5h0M145.2 404.3h0M140.4 411h0M149.2 411.6h0M145 417.1h0M139.3 404h0M148.4 416.6h0M143 405.2h0M149.5 415.1h0M139.6 398.5h0M148.7 410h0M145.6 409.6h0M147.3 414.6h0M144.1 409.3h0M149.5 418.5h0M140.5 407.4h0M138.5 400.9h0M142.8 399.5h0M133.7 397.2h0M146.9 407.2h0M139.8 403.6h0M136.2 402.1h0M149.1 410.9h0M146.3 414.7h0M143.6 409.7h0M145.7 407.8h0M139.9 398.6h0M139 404.1h0M140.7 400.7h0M143.5 411.6h0M143 402.2h0M143.7 415.6h0M141.3 409.3h0M146 412.6h0M136.4 400h0M147.1 414.2h0M144.5 410.8h0M144.2 407.5h0M141.7 405.8h0M139.6 407.1h0M144.1 414.6h0M147.1 410.7h0M148.6 413.6h0M145.2 416.1h0M135.3 400.3h0M140.9 400.2h0M136.4 394.6h0M147.3 412.5h0M142.5 400.6h0M134.2 394.8h0M149.2 414.1h0M142.4 405.7h0M139.7 404.8h0M142.6 413.5h0M141 403.8h0M134.2 397.6h0M141.3 401.4h0M144 405.4h0M138.5 398.1h0M148 416.5h0M147.2 408h0M143.8 401.2h0M140 406h0M144.9 406.8h0M142.7 412.9h0M144.5 408.7h0M143.1 404.9h0M140.6 405.4h0M138.4 405h0M141.2 409.5h0M144.8 410.4h0M137.6 403.8h0M143 411.1h0M137.2 401h0M145.3 411.5h0M140.4 395.8h0M139.6 405h0M144.7 404.9h0M137.5 394.9h0M143.8 405.1h0M138.9 399.7h0M141 401.3h0M142.6 405.9h0M146.9 409h0M139.7 406.4h0M145.1 415.2h0M145.5 404.4h0M143.1 411.6h0M140.4 396.9h0M144.8 405.9h0M149.4 416.7h0M137.6 403h0M145.1 407.3h0M137.6 396.8h0M142.6 411.4h0M144.6 413.6h0M141.9 399.7h0M135.7 398.9h0M142.4 414.1h0M144.7 404.7h0M143.3 415.4h0M143.4 401.4h0M140.7 406h0M139.8 406.1h0M141 407.1h0M145.1 407.1h0M142.2 404.6h0M145.5 408.6h0M147.3 416.6h0M142.4 410.7h0M144.9 414.1h0M142.9 410.7h0M140.9 400.5h0M136.6 402.7h0M139.1 410.9h0M146.3 407.9h0M147.8 419.2h0M146 415h0M140.1 403.8h0M140.2 396.3h0M139.6 398.8h0M136.7 395.9h0M145.8 412.2h0M143.4 408.8h0M139.5 402.1h0M135 395.6h0M143.2 402.5h0M139.1 404h0M138 401.6h0M140.4 412.1h0M137.8 397.8h0M140.3 411.6h0M141.1 408.9h0M137.4 394.4h0M149 417.9h0M144.5 402h0M143.7 411h0M144.1 402.4h0M139.3 406.6h0M141.8 413h0M145.3 412.3h0M143.8 410.7h0M145.8 407.5h0M142.6 409.2h0M142.3 415.2h0M150.1 416.2h0M142.3 408.9h0M138.5 397.2h0M140.8 408.4h0M146.4 413.8h0M143.7 403.9h0M141.9 407h0M139.9 409.9h0M141.2 405.4h0M148.9 410.4h0M140.5 403.9h0M147.5 412.1h0M144.1 412.5h0M135.8 395.5h0M140.9 408.4h0M146.4 411.4h0M144.1 415h0M142.5 410.1h0M135.8 396.9h0M140.5 396.8h0M140.1 403.6h0M142.4 405.2h0M137.4 398.8h0M142.2 398.7h0M138.7 408.5h0M142.7 401.6h0M141.1 403.5h0M140 408.3h0M149.1 414.2h0M152.4 421.4h0M152 421h0M149.5 424.3h0M156.8 421.8h0M154.2 420.8h0M151.1 420.7h0M151.9 418.9h0M157.2 423.4h0M151.5 424.1h0M154.2 426.2h0M145.9 416.4h0M147.3 413.7h0M151.8 421.1h0M148.5 417.4h0M150.5 419.9h0M151.4 419.4h0M149 419.1h0M150.5 417.6h0M149 419.4h0M155.9 422.8h0M149.4 420.2h0M152.6 419.8h0M147.8 420.1h0M152.1 418.7h0M151.3 419.7h0M152.2 421.7h0M151.4 415.7h0M147.2 416.8h0M145.5 418.9h0M153.3 415.1h0M151.2 419.3h0M144.6 417.6h0M149.5 422h0M147.9 420.4h0M153.3 423.8h0M156.6 423.3h0M157.9 422.3h0M152.4 418.1h0M149.2 422.5h0M153.5 422.1h0M145.4 421.6h0M154.3 418h0M146.8 421.8h0M146.3 420.1h0M153.4 421.2h0M146.2 415.6h0M152.5 422.4h0M153.7 422.2h0M151.1 423.6h0M151.3 415h0M153.7 415.8h0M149.7 421.9h0M156.1 424.5h0M150.4 422.3h0M156.7 422.8h0M147.8 414.9h0M147.9 414.6h0M150 420.5h0M151.5 420.6h0M149 420.1h0M153 424.2h0M157 423.2h0M147.2 423.5h0M151 421.5h0M148.1 421.5h0M151.3 416.5h0M151.5 418.8h0M154.7 421.2h0M151.8 419.8h0M153.3 419.3h0M150.8 417.3h0M153.3 421.8h0M153.4 420.4h0M150.3 415.4h0M150.7 417.8h0M151.4 421.6h0M154.8 422.3h0M150.1 415.5h0M150.6 421h0M145.1 420.3h0M152.9 426.2h0M149.3 422.3h0M149.3 418.6h0M148 424.4h0M148.6 421.8h0M152.5 418.4h0M150.8 422.2h0M147.3 419.7h0M149.9 416h0M152.2 420h0M150.7 420.7h0M149 419.3h0M144.7 417h0M152.1 421.8h0M148.6 418.6h0M149.6 423h0M151.6 421.3h0M146.8 420.3h0M156.2 421.8h0M152.8 422.4h0M153 416.7h0M152.8 419.9h0M155.9 421.9h0M150.1 421.6h0M153.6 419.9h0M152.8 422.7h0M155.5 421.3h0M151.5 418.9h0M147.5 418.5h0M150.1 424.5h0M149.1 420.1h0M155.4 422.7h0M151 420.5h0M150.2 415.8h0M154.8 423.3h0M152.9 416.8h0M149.4 423.2h0M148.3 414.9h0M157.7 422.6h0M154.5 419.7h0M153.5 420.4h0M149.4 423.8h0M152.7 420.3h0M150.8 420.8h0M148.8 419.2h0M150.5 425.4h0M145 419h0M149.5 423.1h0M150 417.5h0M153.2 419.4h0M155.1 422.8h0M147.8 421.1h0M145.8 420.9h0M154.3 422.8h0M156 423.5h0M148.9 422.6h0M146.6 414.8h0M151.8 422.6h0M151.4 421.9h0M146.5 416.2h0M152.3 420.1h0M150.2 421.6h0M148.5 416.2h0M154.2 421.4h0M155.2 421.6h0M151.4 420.7h0M148.9 421.4h0M146 418.7h0M150.2 415.8h0M152.2 422.7h0M150.2 415.4h0M153.6 421.3h0M149.4 417.9h0M151.2 417.5h0M149.7 422.5h0M145.9 415.6h0M155.2 425.6h0M149.4 416h0M150.6 413.9h0M155.1 423.1h0M150.9 414.8h0M150.5 417.8h0M158 423.3h0M149.6 422.9h0M153.7 421.3h0M153.9 420.5h0M152.3 417.5h0M150.3 414.1h0M151.9 422.5h0M150.3 422.3h0M152.7 421.7h0M146.8 419.2h0M154.2 424.5h0M156.3 422h0M145.3 420.5h0M148.5 419.1h0M150.3 419.6h0M150.9 418h0M149.6 415h0M150.3 425.4h0M148.9 421.2h0M155.3 418.5h0M149.5 417.7h0M155.3 423.5h0M151.9 417.7h0M151.3 420.3h0M151.3 425.2h0M153.6 421.9h0M147.7 423.5h0M163.4 426.4h0M166 426.1h0M157.5 429.9h0M158.8 429.6h0M156.5 426.8h0M164.8 427h0M163.6 427.7h0M154.1 422.9h0M161 432.3h0M161.1 423.5h0M157.4 426.6h0M170.3 424.7h0M165.9 427.1h0M159.5 423.5h0M160.9 424.2h0M165.8 420.8h0M169.9 428.9h0M166.1 431.3h0M166.2 421h0M162.4 428h0M157.2 422.9h0M165 428.1h0M159 425.7h0M158.4 424.7h0M161.6 430h0M150.7 425.4h0M173.3 427.5h0M163.1 429.2h0M155 422.6h0M163.7 429.2h0M159.1 424.3h0M164.8 428.5h0M163.7 423.8h0M157.4 431.3h0M171.3 428h0M163.9 427.1h0M157.9 426.3h0M157.4 427h0M168.3 429.2h0M155.2 426.1h0M160.1 422.5h0M162.5 425h0M168.4 427.9h0M156.5 426.8h0M159.5 424.5h0M158.6 429.9h0M159.1 421h0M156.6 429.1h0M159.5 425.4h0M152.1 427.8h0M161.6 427.4h0M167.6 429.2h0M157.6 424.6h0M172.9 428.8h0M163 423h0M168.2 428.2h0M167.6 427.4h0M162.4 424.7h0M164.2 427.3h0M166.6 430h0M164.2 424.8h0M167.7 431.5h0M156.2 427.8h0M165.8 428.2h0M165.5 426.2h0M161.3 431.9h0M157.3 424.8h0M150.8 427.6h0M161.6 424.8h0M159.1 428.6h0M161.7 430.2h0M166.1 426.4h0M165.9 424.2h0M167.5 431.3h0M159.5 428.3h0M168.1 423.2h0M174.2 426.9h0M168.1 425.6h0M161.3 429.6h0M157.3 428.7h0M159.5 427.6h0M153.3 429h0M171.2 422.9h0M160.3 421h0M164.1 424.2h0M158.1 423.8h0M164.1 425h0M155.7 425.8h0M164.8 423.8h0M164.9 425.3h0M173 424.4h0M157.4 422.2h0M154.4 425.4h0M155.3 431.4h0M163.5 429.4h0M162 428h0M161.2 427.2h0M163.5 424.2h0M164.4 427h0M161.7 424.3h0M154.9 427.3h0M158.3 430.8h0M168.4 424.2h0M171.5 423.3h0M158.9 425.8h0M153.8 426.1h0M159.5 424.6h0M157.6 428.9h0M172.7 425.2h0M171.4 427.5h0M151.6 428.7h0M159.1 427.1h0M163.6 423.5h0M164.1 431.9h0M163.6 424.3h0M155.6 427.8h0M163.8 429.2h0M156.4 431.2h0M165.5 430.3h0M151.3 426.5h0M171.2 426.5h0M163.3 424.5h0M169.7 424.3h0M162.4 427.2h0M158.3 425.8h0M153.3 428.6h0M161.7 429.1h0M154.4 428.4h0M158.9 426.8h0M168.6 426.6h0M159.5 421.1h0M162.4 429h0M157.6 426.3h0M164.8 430.7h0M159.8 421.1h0M159.3 421.5h0M164.1 426h0M169.3 425.3h0M164.3 427.1h0M165.1 421.7h0M167 429.4h0M155.7 431.3h0M162.1 428.7h0M165.9 429.4h0M157.5 424.6h0M164.7 428.5h0M166.1 427.6h0M158.6 430.1h0M165.3 429.9h0M157.3 426.9h0M158.6 425.5h0M163.4 427.6h0M156.5 428.3h0M156 427.9h0M159.4 423.4h0M161.3 426.3h0M168.8 422.2h0M155.8 430.2h0M168.4 424.9h0M156.5 427.6h0M152 424.9h0M166.2 429h0M169.6 421.8h0M152.9 423.8h0M155 425.5h0M163.5 428h0M172.3 422.9h0M168.3 427h0M153.6 427h0M156.8 429.8h0M171.3 424.5h0M155.6 426.9h0M154.5 429.4h0M163.3 424h0M157.1 428.9h0M156.4 425.9h0M167.9 430.8h0M166.7 426.8h0M165.1 428.4h0M167.3 427.4h0M160.8 421.3h0M157.7 427.4h0M159.6 427.5h0M170.4 422.5h0M164.4 426.8h0M163.1 427h0M159.4 422h0M165.3 427.8h0M166.2 430.6h0M155.4 427.8h0M161.9 428.9h0M160.8 424.5h0M163.8 428.2h0M155 430.8h0M170.3 428h0M161.2 425.7h0M150.2 428.7h0M155 424.8h0M169.2 423.5h0M158.2 429.3h0M169.9 424.3h0M164.8 428.1h0M153.8 429.9h0M175 426.7h0M163.9 422.6h0M174.9 426.7h0M152.8 429h0M151.5 424.2h0M157.3 424.6h0M157.9 428.3h0M172.5 423.2h0M173 426.2h0M157 431.6h0M161.2 431h0M156.2 426.7h0M164.7 425.9h0M173 424.1h0M169.2 431h0M155.5 424.7h0M164.8 425.9h0M162.6 425h0M161.4 428.1h0M167.4 423.9h0M161.2 424h0M160.7 421.8h0M168.9 428.7h0M161.1 424.2h0M158.7 424.3h0M153.6 428.4h0M166.4 421.3h0M158.4 426.8h0M162 424.7h0M161 425.5h0M171 426.2h0M161.8 424.8h0M157.4 424.1h0M170 427.3h0M163.5 426h0M154.1 427.3h0M159.7 421.3h0M163.5 428.1h0M163.4 425h0M165.3 430.1h0M159.8 428.2h0M169.4 424.9h0M163.2 424.1h0M166.3 425.3h0M170.3 424h0M174.2 425.5h0M156 423.5h0M166.8 423.7h0M165.7 421.8h0M161.8 424.1h0M167.8 430.7h0M155.1 425.4h0M163.9 428.1h0M153.8 427.2h0M161.2 429.6h0M150.5 424.6h0M158.4 425.5h0M167.2 424.4h0M168 429.9h0M168.9 425.8h0M156 425.7h0M166.8 426.9h0M166.2 428.4h0M155.6 423.4h0M172.4 424.9h0M156 423.4h0M169 422.8h0M155.7 430h0M162.9 426.7h0M157.4 425.8h0M158.4 426.4h0M167.6 422.3h0M172.8 426.3h0M161.9 426.3h0M169.2 427.6h0M168.1 425.9h0M161.1 426.3h0M166.8 426.7h0M155.7 426.2h0M169.2 425.8h0M161.1 425.3h0M171.2 430h0M161.5 428.4h0M155 430.2h0M172.1 426.3h0M159.6 424.9h0M160.6 422.4h0M161.9 428.3h0M164.2 428.1h0M151 423.4h0M166.6 429.8h0M153.8 424.6h0M154.3 428.7h0M164.5 426.6h0M157.3 427.6h0M162.2 424h0M164.4 424.3h0M168.9 428.6h0M157 428.4h0M162.5 424.2h0M153.9 427.6h0M170.7 424.4h0M163.1 427.6h0M167.6 428h0M170.8 429h0M156.5 427.8h0M162.1 428.4h0M159.8 429.2h0M171.5 423.7h0M158.1 427.4h0M165.5 427h0M168 422.6h0M167.6 430.3h0M170 427.9h0M160.3 427.8h0M161.5 421.3h0M157.6 426.4h0M158.3 423.4h0M160.3 425.3h0M162.5 426.3h0M163.2 429.8h0M163 427.8h0M159.1 428.7h0M159.6 424.4h0M153.1 429.4h0M158.2 427.3h0M170.1 428.3h0M168.9 428.8h0M157.3 426.7h0M157.9 423.1h0M164.2 423.9h0M158.1 426.8h0M158.3 426.7h0M157.6 421.8h0M173 428h0M163.1 425h0M161 427.5h0M152 423.9h0M155.6 430.7h0M154.4 430.4h0M161.4 426.6h0M171.7 429.4h0M168.8 423h0M161.3 424.9h0M154.1 429.9h0M164.1 426.5h0M168.3 426.4h0M172.6 423.4h0M168.3 423.2h0M172.2 425.6h0M170.8 425.1h0M164.9 430.3h0M155.5 426.8h0M156 429.3h0M157.7 425.3h0M160.5 430.3h0M154.5 426.4h0M159.6 424.7h0M156.3 426h0M163.4 421.4h0M163.7 422.6h0M155 426.3h0M160.2 429.7h0M150.4 427.1h0M163.8 430h0M158.1 428.7h0M154.3 430.8h0M161.5 424.3h0M163.3 432.3h0M155.9 422.4h0M154.7 422.7h0M161.6 427.7h0M160.8 427.2h0M170.5 425.5h0M163.7 424.3h0M160.2 427.9h0M165.3 421.3h0M155.1 426.7h0M161 430.3h0M155 427.8h0M163.7 428.3h0M165.9 424.1h0M157.8 427.5h0M163 423.3h0M155.3 427.7h0M157.4 425.1h0M169.1 426.9h0M161.2 426.8h0M153.6 430.5h0M156.6 430.8h0M158.7 425h0M172.7 427.1h0M157.4 424.7h0M166.4 425.2h0M153.9 424.3h0M161.1 427.3h0M157.3 430.7h0M155.1 424.1h0M165.6 428.1h0M159.2 429.7h0M162.4 430.9h0M160.6 427.1h0M160.5 432.2h0M168.6 427.6h0M163.4 431.1h0M155.2 425.5h0M163 425h0M161.2 432h0M168.7 428.5h0M162.1 426.7h0M164.6 427.3h0M156.8 429.1h0M156.1 426.4h0M159.4 422.7h0M166.4 426.3h0M153.6 426.2h0M157.9 428.8h0M155 423.7h0M161.4 427.9h0M168.6 425.6h0M169.9 429.7h0M155.7 425.9h0M158 429.4h0M168.6 425.7h0M158.5 427.6h0M156.4 422.3h0M155.1 427.6h0M163.4 432.3h0M153.7 430.3h0M167 426.9h0M172.6 425.3h0M158.2 423h0M157.3 426.9h0M166.8 430.7h0M160.1 424.1h0M159.6 425.1h0M158.6 425.2h0M155.8 426.3h0M158.3 425.9h0M152.1 427h0M166.1 428.6h0M158.1 422.8h0M152.7 422.7h0M157.4 425.5h0M151 424.3h0M156.8 429.2h0M160 425.2h0M160.6 425.9h0M161.2 423.9h0M164.5 424.8h0M166.1 423h0M158.7 422.7h0M165.1 424.8h0M167.3 424.7h0M168.4 427h0M164.5 427h0M159.4 425.3h0M176.8 413.1h0M176.7 422.2h0M177.2 401.9h0M177.1 408.4h0M175.2 404.3h0M177.4 403.8h0M174.8 404.8h0M179.6 415.9h0M173.1 406.7h0M175.7 406.4h0M174.1 402.8h0M175 402.6h0M178.8 422.9h0M176.3 418.7h0M175.5 405h0M174.2 403.5h0M176.3 413.1h0M176.7 407.2h0M173.6 408.8h0M178.3 410.3h0M173.7 396.9h0M175.3 412.3h0M175.1 417.1h0M173.9 404h0M174.5 408.6h0M176.6 405.5h0M172.7 408.9h0M177.6 417.9h0M175 417.9h0M176.9 411.5h0M173.6 404h0M174.8 414.7h0M176.7 415.2h0M178.4 408.7h0M177 420.2h0M173.1 406.7h0M174.6 406.9h0M175 404.1h0M176.2 400.8h0M172.8 399.4h0M173.8 412.8h0M176.3 407.7h0M177.3 412.4h0M174.6 408.9h0M177.7 420.6h0M175.1 411.3h0M177.4 416h0M177 415.2h0M173.6 407.7h0M172.4 409.2h0M179.3 409.9h0M175.9 410.6h0M174.6 401.3h0M174.3 408.2h0M175.1 404h0M174.7 404.8h0M172.9 405.5h0M174.9 414.1h0M178.1 412.1h0M174.7 405.8h0M172.6 406.3h0M178.9 415.4h0M175.7 407.6h0M175.9 411.5h0M175.8 411.5h0M174.3 409.5h0M175.8 415.4h0M174.6 416.8h0M175 406.1h0M175.6 409.7h0M175.5 411.5h0M173.2 399.3h0M176.6 408.7h0M178.4 410.9h0M173.4 416.7h0M174.9 412.4h0M179.9 414.9h0M173.7 408.8h0M173.5 413.3h0M175.5 403h0M177 414.4h0M176.2 405h0M173.5 402.7h0M173.8 411.2h0M176.6 416.6h0M175.7 407.1h0M174.5 418.3h0M175.7 408.8h0M173.1 403.2h0M175.7 403.3h0M176.9 412.6h0M173.6 399.8h0M177.3 417.1h0M173.2 401.9h0M177.3 409.6h0M175.5 416.3h0M175.4 411.7h0M174.3 404.8h0M175.2 404h0M172.3 406.3h0M178.3 415.1h0M179.7 414.3h0M178.2 410.1h0M175.2 411.8h0M174.6 413.5h0M175 410.6h0M174.1 408.5h0M176.9 407.6h0M174.7 410.8h0M176.7 407.8h0M172.4 400.3h0M174.3 415.5h0M175.8 411.8h0M177.4 410.5h0M175.8 406h0M173.5 413h0M175.8 412.4h0M173.7 408.5h0M178 403.8h0M176.7 416.6h0M175.3 409.8h0M172.8 414h0M175.9 416.6h0M175.1 406.9h0M176 407.6h0M176 418h0M177.1 409.5h0M177.4 413.6h0M176.4 409.2h0M176 411.4h0M176.7 411h0M174.6 408.8h0M175.4 403.3h0M176.1 413.4h0M175.5 407.4h0M175.1 406.3h0M176.7 406.7h0M172 402.5h0M176.1 410.2h0M173.7 401.7h0M174.6 404.3h0M174.5 409.2h0M174.6 411h0M174 406.6h0M176.3 417.5h0M178.7 414.1h0M174.4 409.3h0M177.6 413.5h0M172.9 409.1h0M175 413.5h0M181.2 394.5h0M184.2 395.2h0M184.8 395.6h0M179.8 401.5h0M179 394.7h0M182.9 395.9h0M180.9 392.4h0M183.5 398.9h0M180.7 398.1h0M179 394.7h0M176.9 397.1h0M182.4 398.5h0M181.8 398.1h0M178.2 392.3h0M181.3 396.5h0M181.9 395.3h0M178.3 397.3h0M178.9 391.4h0M178.8 393.5h0M177.8 394.5h0M181.9 402.8h0M183.4 394.9h0M182.2 395.8h0M180.8 394.1h0M179.9 391.3h0M183.5 393.9h0M181.1 394.4h0M180.5 392.7h0M179.3 398.7h0M181.2 390.5h0M181.7 392.3h0M180.6 397.5h0M178.7 395.1h0M179.5 397.2h0M181.8 399.9h0M180.6 401.7h0M178.1 401.1h0M179.5 398.2h0M179.8 396.3h0M178.2 397.2h0M184 396.5h0M180 396.1h0M181.4 395.5h0M180 396.7h0M182.6 398.8h0M169.4 422.2h0M172 426.5h0M174.4 423.5h0M177.2 423.6h0M175.4 428.1h0M175.9 424.6h0M173.4 419.7h0M167.6 422.3h0M173.8 427.1h0M171.7 427h0M173.4 428.4h0M168.1 421.7h0M169.7 421.1h0M176 421.4h0M170 422.9h0M174.2 422.7h0M173.8 425.6h0M170.4 417.3h0M169.8 420.5h0M176 422h0M169.4 425.1h0M172.1 421.4h0M174.7 426.7h0M172.7 421.9h0M169.9 418.2h0M172.9 425.2h0M169.7 424.1h0M180 420.8h0M167.8 425.8h0M171 422.6h0M173.5 423.7h0M174.4 425.5h0M174.8 424.4h0M166.7 427.9h0M167.8 427h0M172.6 420.1h0M172.2 426.6h0M169.5 424.2h0M170.2 421.2h0M170.5 427.7h0M173.7 424h0M171.8 424.4h0M172.7 424.6h0M167.8 426.7h0M169.9 416.6h0M173.7 420.6h0M171.7 423.8h0M170.6 425.6h0M171.3 423.2h0M169.7 423.2h0M153.8 411.4h0M174.7 417.8h0M166.8 402h0M172.1 417.3h0M181.2 396.1h0M163.1 408.9h0M172.6 403.8h0M159.6 426.5h0M171.8 397.8h0M163.2 420.2h0M157.5 415h0M163.9 401.3h0M157.5 418.6h0M173.5 407.1h0M173 406.3h0M165.2 410.9h0M151.9 413.2h0M159.6 392.8h0M155.7 405.4h0M155.6 404.5h0M156.9 394.7h0M170.9 411.5h0M165.3 409.3h0M163.6 409.3h0M153.4 400.9h0M163.7 417.8h0M165.1 421.8h0M150.9 409.3h0M157.5 419.3h0M178 407.6h0M169.5 409.4h0M154.2 410.3h0M153.8 421.4h0M168.2 419h0M166.2 394.8h0M170.1 411.6h0M141.9 411.7h0M172 422.5h0M153.9 416.3h0M165.9 409.9h0M160.5 414.6h0M168.1 415.4h0M159.4 402.2h0M174.7 419.7h0M158 410.8h0M170.1 399.3h0M167.4 427.2h0M165.4 406.3h0M181.1 411.1h0M164.9 408.2h0M164.6 399h0M151.6 401.1h0M171 410.4h0M173.2 397.4h0M157.7 420.8h0M156 398.5h0M156.4 408.7h0M162.9 419.8h0M174.8 421.4h0M168.1 407.7h0M158.6 401.1h0M174.3 419.4h0M163.8 405h0M169 414.3h0M164.4 403.2h0M165.1 407.2h0M169.5 415h0M166.9 408.1h0M176.5 416.2h0M174.2 416.6h0M168.9 413.6h0M153.5 398.8h0M154.7 415.1h0M171.1 412.2h0M163.8 423.3h0M159.5 399h0M149.3 408.9h0M169.2 415.9h0M161 416.5h0M162.6 406.2h0M159.7 416.1h0M171.4 403.5h0M154.3 411.8h0M181.8 403.2h0M151.9 413.8h0M167.5 406.9h0M162.8 414.3h0M147.6 410.9h0M168.3 417.2h0M173.3 410.5h0M150.3 420h0M169.8 406.7h0M172.1 418h0M161.8 395.2h0M158.9 405.9h0M155.6 410.5h0M153.5 413.6h0M179.7 403h0M172.2 407.4h0M167.8 410.2h0M174.3 406.2h0M169.5 405.8h0M165 410.9h0M172.6 400.4h0M151.1 420.3h0M166.4 422.4h0M153.9 412.4h0M168.3 422.9h0M162.5 408h0M169.3 410.3h0M156.4 416.1h0M146.2 404.2h0M175 407.7h0M160.2 413.5h0M172.9 414.5h0M154.5 407.2h0M172.2 410.2h0M157.4 416.9h0M173.1 425.6h0M153.5 406.3h0M156.9 413.4h0M158.8 418.5h0M139.4 417.5h0M157.3 409.2h0M168 412.4h0M154.1 421.1h0M168.1 407.7h0M164.8 403.6h0M152.2 409h0M166.2 411.7h0M156.2 401.7h0M148.3 421.7h0M166.2 405.6h0M173.4 414.6h0M159.4 406.9h0M173 413.2h0M177.4 413.4h0M157.9 407h0M156.8 412.7h0M165.2 415.1h0M167 404h0M161.2 404.7h0M167.2 402.2h0M157.9 405.2h0M157.6 409.3h0M176.3 409.3h0M150.4 409h0M169.6 414.7h0M165.1 424.4h0M172.7 411.6h0M173.7 402h0M161.5 405.2h0M164.6 421.9h0M158.7 421.7h0M154.1 420.6h0M148.2 405.3h0M171.7 410.4h0M164.3 410.9h0M164.6 409.8h0M154.4 409.1h0M164 405h0M167.1 422.8h0M148.6 407.3h0M160.5 411.1h0M163.8 406.1h0M162.7 411h0M162.2 421.3h0M164.1 401.1h0M149.3 415h0M160 406.8h0M151.1 408.9h0M162.2 406.4h0M159.9 417h0M169.9 414.7h0M161.5 401.9h0M169.8 421h0M174.2 418.8h0M165.4 413.5h0M162.9 419.4h0M160.7 425.4h0M169.8 408.8h0M163 400.2h0M156.6 409h0M184.4 405.5h0M171 411.5h0M160.4 415.2h0M145.6 417.3h0M179.9 413h0M162.5 412.1h0M168.8 407.7h0M164.1 414.4h0M159.9 413.6h0M165.9 415.8h0M154.4 407.4h0M159.3 419h0M165.2 399.9h0M151.8 424h0M166 402.3h0M155 412h0M175.5 421.9h0M159.8 409h0M179.8 404.4h0M176.7 413.3h0M163.8 419.6h0M167.2 405.4h0M149.7 411.1h0M167.5 420.2h0M140.2 420h0M168.4 421.2h0M170 412.4h0M166.8 413.7h0M157.5 410.2h0M164.1 408h0M150.2 401.3h0M167.4 414.5h0M163.9 403.1h0M170.4 408.4h0M144.9 421.5h0M150 426.2h0M167.7 408h0M142.5 406.3h0M175.9 420.1h0M165.3 399.5h0M159.7 409.1h0M167 410.2h0M166 400h0M157.4 420.7h0M150.3 417.2h0M183.2 415.4h0M150.9 419.4h0M146.8 413.3h0M159.4 419.3h0M173.3 412.3h0M178.7 417.6h0M158.8 404.4h0M184.5 408.3h0M166.6 410.2h0M158.9 400.2h0M161.7 410.2h0M171.6 407.5h0M149.3 403.8h0M162.7 412.7h0M169.3 408.4h0M167.7 412h0M177.8 410.6h0M164.3 414.8h0M173.7 404.8h0M158.9 409.2h0M144.4 419.8h0M172.4 411.2h0M192.4 419.6h0M180.7 421.6h0M170.9 401.5h0M176.4 413.8h0M152.5 411.4h0M169.6 417.6h0M164.5 407.5h0M169.7 405.9h0M162.3 416.1h0M150.4 413.5h0M145.9 404.7h0M152.2 410.4h0M169.3 410.7h0M171 411.7h0M161.2 414.3h0M160.9 411.9h0M172.1 407.2h0M173.1 403.5h0M161.1 399.3h0M158.4 421.7h0M166.1 419.6h0M150.2 404.2h0M167.1 416.6h0M170.3 399.7h0M167.5 410.5h0M164.1 414.2h0M160.6 399.6h0M153.7 401.2h0M151.5 410.1h0M174.4 406.2h0M156.3 403.2h0M147.9 411.5h0M158.8 409.4h0M154.6 414.3h0M152.5 414.7h0M157.2 416.3h0M155.2 414h0M166.9 410.5h0M177.3 412.2h0M155.2 415.7h0M170.8 398.7h0M186.2 408.5h0M217.5 382.4h0M181.2 421.3h0M183.1 410.3h0M214.2 389.4h0M186.8 416.7h0M175.2 382.3h0M167.5 408.6h0M189.5 430.9h0M210.6 385.1h0M205.2 418.4h0M216 403.9h0M175.7 408h0M214.6 414.4h0M217.4 416.6h0M175.1 392.3h0M220.3 385.5h0M179.5 401.7h0M169.1 398.3h0M186.1 438.2h0M184.8 398.9h0M188.3 418.7h0M170.9 400.5h0M153.7 415.5h0M198.6 426.3h0M163.8 435.4h0M202.2 402.3h0M178.8 401.8h0M163.5 416.4h0M174.8 396.2h0M195.6 407.5h0M175.2 402.8h0M176.9 424.2h0M204.6 396.2h0M185.3 424.6h0M180.7 430.1h0M194.2 415.1h0M147.5 417.5h0M192.3 413.9h0M194.9 413.1h0M176.6 418.2h0M187.2 391.8h0M167.1 408.2h0M192.2 376.1h0M147.8 420.2h0M185.8 444.6h0M157.6 402.6h0M174.9 413.6h0M212.1 427.9h0M167.3 422.7h0M163.5 410.2h0M189.2 414.4h0M171.2 424.1h0M184.7 405.7h0M181.1 391.5h0M199.4 410.6h0M194.4 431.3h0M169.9 402.1h0M186.1 417.6h0M182.7 418.7h0M194.5 382.1h0M173.3 378.4h0M180.7 400.3h0M196.9 408.3h0M184.8 423.1h0M197 389.3h0M173.2 410.5h0M217.6 403.3h0M182.8 409.6h0M200.5 404.8h0M191.5 400.3h0M175.8 395.2h0M198.2 398.4h0M196.2 411.5h0M204.1 369.5h0M168.1 389.4h0M183 416.9h0M233 427h0M211.2 411.2h0M178.8 413.3h0M145.6 418.7h0M186.2 414.4h0M166.9 391.1h0M174.1 405.4h0M192.5 401.2h0M192.5 415.3h0M164.5 404.6h0M157.1 398.5h0M202.8 396.3h0M220.6 412.9h0M202.5 407.4h0M202.1 420.9h0M188 398.8h0M175.8 432.3h0M182.6 399.8h0M172.9 383.1h0M176.7 410.4h0M177 395.7h0M193.6 412.3h0M177.9 410.2h0M167.9 417.7h0M167.7 401.4h0M188.5 400.3h0M164.7 434.6h0M214.2 382.3h0M188.3 388.7h0M191.8 388.3h0M196.8 413.2h0M217.7 422.4h0M177.5 418.9h0M177.5 404.5h0M176.7 382h0M197.2 378.3h0M181.6 413.2h0M188.1 384.5h0M173.9 415.3h0M206.4 427.7h0M152.3 412.3h0M177.1 416.4h0M154.7 404.1h0M199.1 397.2h0M179.3 392.7h0M206.7 387.9h0M169 401.5h0M180.1 434.8h0M191.1 394.7h0M196.8 410.7h0M191.2 405.1h0M194.6 390h0M163.7 400.2h0M165.5 415.6h0M222 422.9h0M194.3 410.6h0M173.3 388.3h0M196.2 385.8h0M191.6 404.1h0M199.9 406.7h0M188 398.1h0M154 401.3h0M198.9 420.3h0M211.6 392.4h0M168.6 415.6h0M177.6 441.1h0M191.8 385.3h0M175.7 427.4h0M152.1 408.1h0M160.3 427.8h0M177.7 392h0M154.3 396.3h0M138.6 399.5h0M226.5 407.4h0M181.1 390.2h0M192.3 399.6h0M170.3 424.9h0M194.2 393.9h0M213.5 405.3h0M195.3 408h0M207.9 414.4h0M179.5 415.8h0M178.7 407.8h0M216.5 391.5h0M166.8 400.5h0M176.7 423.8h0M156.4 437.3h0M215.4 399.9h0M189.5 401.1h0M198.5 415h0M200 416.4h0M221.9 403.7h0M199 403.5h0M186.7 409h0M185 410.7h0M170.2 403.9h0M174.8 390.1h0M172.9 399.2h0M183.2 384.7h0M181.2 390.6h0M170.8 408.6h0M206.6 409.9h0M176.9 400h0M210.9 383.8h0M207.2 385.5h0M174.2 406.6h0M181.9 428.7h0M195.2 405.3h0M203.7 406.5h0M171 421.3h0M213.9 423.5h0M164.2 432.1h0M178.3 416.5h0M208.2 438.5h0M156 392.1h0M207.9 412.8h0M180.2 366h0M194.2 403.5h0M137.4 442.6h0M139.5 398.4h0M185.9 409.2h0M200 402.4h0M187.2 408.8h0M175.4 402.2h0M215.3 406h0M195.2 428.7h0M206.3 413.1h0M203.2 409.6h0M187.1 420.8h0M197.3 426.1h0M193.4 408.7h0M199.4 410.3h0M192.9 404.1h0M198.5 414.8h0M213.9 411.8h0M178.8 416.1h0M218.4 408.1h0M188.1 410.5h0M168 409.1h0M194.2 398.7h0M201.7 404.3h0M177.9 405.7h0M202.2 428.9h0M208.3 413.7h0M191 409.7h0M205.5 407.4h0M200.1 420.5h0M187.1 406.8h0M200.4 412.1h0M194.8 407.3h0M195.4 428.3h0M209.3 397.8h0M196.5 412.8h0M196.4 399.8h0M194.7 413.3h0M189.3 414.8h0M172.1 398.7h0M197 415.4h0M194.4 408h0M197.8 421.5h0M204.8 411.3h0M191.4 421.4h0M201.3 419.8h0M193.3 404.4h0M197.8 406.5h0M207.3 419.5h0M174.6 417.9h0M209.1 421.1h0M191.4 404.4h0M205.5 420.9h0M196.6 401.8h0M181 414.4h0M187.9 406h0M200.4 421.2h0M175.7 406.1h0M208.8 411.6h0M192.6 417.6h0M184.8 401.2h0M196.2 425.8h0M206 412h0M205.9 408.4h0M184.4 397.2h0M198.7 419.9h0M199.7 411.7h0M192.1 421.6h0M195.5 399.3h0M209.5 406.3h0M199.8 412h0M206.4 414.2h0M208 413.9h0M191.5 407.5h0M202.4 404.7h0M205.1 409.9h0M186.9 404.3h0M194.6 427.6h0M203.6 412.2h0M187.1 428.8h0M193.3 412h0M191.8 423.8h0M197.7 408h0M197.8 403.2h0M185.7 410.6h0M167.7 422.4h0M215.5 402.2h0M194.6 398.1h0M197.7 413.9h0M203.3 400.2h0M190.1 406.3h0M193.6 432.2h0M194 411.6h0M191 419h0M221.2 422.3h0M211.1 402.5h0M206.4 412.2h0M208.3 421.3h0M202.4 397.2h0M197.3 407.6h0M200.4 412.3h0M206.3 397.9h0M188.7 411.3h0M199.2 408.4h0M195.7 412.5h0M206.3 411h0M198.4 396h0M170.3 399.1h0M199.5 391.6h0M200 411.2h0M196 405.6h0M191.9 419.3h0M199.5 411.8h0M191.2 413.9h0M207.7 411.8h0M192.4 401.6h0M197 403.9h0M181.9 419.7h0M189.9 394h0M188.9 428.3h0M195 400.3h0M185.2 418.4h0M200 413.9h0M194.1 416.3h0M211.1 416.3h0M194.4 399.6h0M200.4 425.9h0M202.4 400.9h0M197.8 423.5h0M189.8 416.4h0M207.9 426.5h0M180.3 396.6h0M199.7 418.2h0M192.5 411.8h0M192 422.6h0M201.7 414.2h0M203.7 412.1h0M203.2 411.6h0M206.4 413.7h0M210.4 413.1h0M207.2 414.4h0M207.1 416.8h0M206.8 413.9h0M206.3 413.6h0M206.4 415.8h0M206.5 413.7h0M206.4 415.2h0M205.5 415.6h0M205.3 415.1h0M210.7 414.1h0M206.3 411h0M208.1 413.6h0M208.5 412.2h0M207.6 417.5h0M207.4 412.9h0M203.7 413.6h0M207.9 414.9h0M204.1 411.4h0M204.4 411.4h0M205.9 414.2h0M210.7 414h0M209.7 410h0M209.8 415.3h0M207.5 415.4h0M207.8 417.8h0M208.2 409.8h0M202.7 417.1h0M206.3 416.5h0M205.8 412.2h0M205.8 414.3h0M206.9 412.3h0M207.7 414.9h0M204.5 411.2h0M202.2 412.9h0M206.5 412.1h0M205.2 413.3h0M206.6 414.8h0M208.3 414.6h0M208.9 411.5h0M207.8 414.4h0M204.2 412.1h0M207.5 413.8h0M203.8 412.4h0M209.8 415.4h0M206.7 416.5h0M204.5 413.2h0M208.6 412.9h0M204.1 414.9h0M210 408.1h0M206.8 410.9h0M205.9 410.5h0M212.2 412.1h0M206.6 412.1h0M204.3 412.6h0M207 417.4h0M207.1 417h0M204.2 413.8h0M205.5 410.2h0M214.6 413.1h0M207 412h0M205.2 411.4h0M208.7 412.7h0M206.2 414h0M203.8 414.1h0M206.1 414.6h0M205.7 413.7h0M207.6 415.7h0M205 415.7h0M204.4 413.2h0M206.8 413.9h0M201.1 411.5h0M206.1 415.6h0M205 416.9h0M202.6 413.8h0M207.7 413.6h0M207.1 415.6h0M204.7 414.9h0M208.8 413.1h0M201.5 411h0M204.6 411.3h0M207.4 411.9h0M211.9 414.8h0M203.7 413h0M209.8 415.1h0M204.3 415.9h0M214.2 428.8h0M214 425.3h0M216 423h0M214.7 426.5h0M215.9 423.9h0M215.8 427.8h0M216.7 425h0M215.6 420.6h0M215.2 422.9h0M216.3 422.7h0M215.8 421.7h0M216.6 422.4h0M214.9 425.3h0M214.4 424h0M216.9 427.8h0M211.8 422h0M216.2 426h0M214.2 424.2h0M214.7 428.9h0M214.6 421.4h0M212.2 421.2h0M217.3 423.2h0M218.5 425.4h0M215.7 425.4h0M216.4 426h0M213.3 422.8h0M214 424.2h0M214.6 421.3h0M213.8 427.9h0M218.8 422.1h0M215.7 423.9h0M213.5 425.5h0M214.9 427.6h0M215.8 423.3h0M210.3 423.8h0M145.3 365.7h0M145.4 368.2h0M140.7 366.7h0M144.4 368.3h0M144.1 367h0M143.2 366.5h0M143.8 365.1h0M144.9 366.4h0M144.7 366.1h0M144.5 367.2h0M145.4 367.8h0M145.5 366.7h0M143.7 366.5h0M141.6 366.8h0M145.7 368.4h0M142.3 367.5h0M145.1 364.6h0M144.4 367.6h0M145.1 367.5h0M140.7 363.4h0M147.3 366.3h0M146.1 369.2h0M144 365h0M146.2 366.9h0M144.7 367.8h0M145.5 368.8h0M141.3 364.5h0M144.1 367h0M145.2 366.8h0M143.5 370.6h0M146.2 369.1h0M145.6 365.6h0M143.6 366.9h0M141.9 365.5h0M144.1 364.8h0M144.8 367.8h0M143.4 366.4h0M144.9 367.9h0M144.5 364.8h0M140.9 370.6h0M178.6 375h0M177.4 374.6h0M178.5 376.2h0M176.6 374h0M178.8 374.9h0M178.4 375h0M177.6 375.7h0M180.4 375.6h0M178.7 376.6h0M179.7 374.4h0M178.6 374.8h0M179.2 376.6h0M178.5 375.3h0M179.3 374.2h0M178.7 376h0M180.3 373.6h0M179.9 375.1h0M180.5 376h0M181.1 375.7h0M178.8 374.6h0M177.8 375.9h0M179.7 376.2h0M187.9 354.2h0M177.4 364.1h0M185.2 372h0M202.6 368.2h0M154.5 358h0M153.5 360h0M166.4 367.9h0M179.9 374.8h0M197.9 362.4h0M196.1 366.1h0M189.3 376.6h0M167.1 365.5h0M204.3 360h0M186 367h0M177.3 355.7h0M173.5 358.3h0M198 368h0M192.7 356.7h0M189.9 367.1h0M197.5 360.3h0M194.2 376.8h0M207.9 358.7h0M167.5 354.5h0M196.3 370.7h0M187.7 359.2h0M200.3 378.6h0M171.7 435.7h0M181.4 437.2h0M182.6 435h0M174.7 435.2h0M167.5 435.3h0M169.8 437.2h0M169.6 436.2h0M165.6 433h0M183.3 433.6h0M186.3 438.3h0M153.9 434.4h0M168.7 436.1h0M170.6 434.5h0M181.9 435.7h0M179.6 434.3h0M166.6 439.3h0M169.8 433.3h0M170.7 438.6h0M236.7 370.5h0M238.4 372.2h0M236.6 370.9h0M236.2 373.8h0M236.6 372.9h0M236.7 371.6h0M232.6 371.4h0M237.1 370.9h0M236.1 369.9h0M233.8 371.4h0M235.6 371.1h0M236.6 370.7h0M235.4 373h0M234.6 370.7h0M236.4 370.1h0M234.9 372h0M239 371.3h0M244 372h0M239.7 370.4h0M239.4 372.8h0M236.2 373h0M235.3 370.1h0M236.9 370.4h0M238.4 370.1h0M237.2 369.3h0M236.9 372.2h0M236.4 371.5h0M239.4 370.1h0M234.2 371.3h0M237.6 370.9h0M234.9 372.4h0M234.5 370.9h0M236.9 371.9h0M236 370.4h0M241.4 370.4h0M238.7 371.1h0M236 371.2h0M236.5 371.5h0M231.5 371.2h0M237.2 370.3h0M236.2 373.5h0M241 371.8h0M237.5 370.9h0M240 370.8h0M235.2 371.9h0M234.9 370.4h0M240.2 369.6h0M236.9 371.3h0M237.6 369.8h0M236.5 370.9h0M241.2 372.2h0M235.4 372.1h0M238.4 371.1h0M236.5 370.9h0M233.7 370.6h0M239 372.6h0M241 370.8h0M238.3 368.9h0M236.4 370h0M238.8 369.6h0M234.7 370.1h0M237.9 372h0M235 373h0M237.4 370.4h0M237.8 371.2h0M238.8 371.5h0M241.8 372.3h0M235.6 372h0M238.7 370.2h0M235.4 370.4h0M229.3 375.2h0M229.6 374.3h0M229.4 374.9h0M229.4 374.5h0M232.1 372.8h0M233.4 373.8h0M232.8 376.2h0M230.4 373h0M232.7 376.2h0M231.6 372.3h0M229.9 375.3h0M229.4 374.3h0M231.1 376.7h0M232.8 376h0M229.9 374.1h0M233.8 375.2h0M230.8 373.2h0M230.7 377h0M229.8 375.4h0M231 376.9h0M230.7 373.2h0M230.9 376.8h0M230 375h0M230.4 373.1h0M229.6 375.5h0M232.8 376.3h0M232.4 376.6h0M230.2 376.6h0M233.2 373.5h0M232.4 376.6h0M232.6 376h0M231.5 376.2h0M232.2 372.9h0M230.2 373.5h0M230.5 373h0M230.2 376.1h0M233.1 374h0M233.5 375.8h0M231.8 372.4h0M230.3 375.9h0" fill="none" stroke="#6b0a12" stroke-width="1.1" stroke-linecap="round"/>
<line x1="122.4" y1="416.5" x2="122.4" y2="444.4" stroke="#c9c9c9" stroke-width="0.6"/>
<line x1="122.4" y1="444.4" x2="149" y2="444.4" stroke="#c9c9c9" stroke-width="0.6"/>
<text x="124" y="416.1" font-size="3.9" fill="#555" transform="rotate(-90 124 416.1)">+UMAP2</text>
<text x="149.8" y="445.8" font-size="3.9" fill="#555">+UMAP1</text>
<circle cx="147.2" cy="452.2" r="1.55" fill="#4a0a10"/>
<text x="152.6" y="454.1" font-size="5.2">PT</text>
<circle cx="164.5" cy="452.2" r="1.55" fill="#ee1a5e"/>
<text x="168.8" y="454.1" font-size="5.2">Metastasis</text>
<circle cx="199.0" cy="452.2" r="1.2" fill="#e2e2e2"/>
<text x="204.6" y="454.1" font-size="5.2">Other cells</text>
<text x="184.6" y="486.8" font-size="4.9" text-anchor="middle" fill="#222">Dataset 5</text>
<path d="M164.6 509.5h0M170.4 514.1h0M166.5 501.2h0M185.5 504.4h0M180.5 496.3h0M170.3 508.5h0M181.7 525.9h0M175.8 502.1h0M164.4 504.2h0M166.3 512h0M164.5 508.1h0M179 521.2h0M157.7 502.6h0M167.2 520.1h0M167.4 524.9h0M171.9 521.2h0M164.1 507.6h0M176.1 514.5h0M157.6 507.9h0M170.7 514.9h0M165.5 523.5h0M170.5 521.3h0M172.1 510.7h0M167.5 500.9h0M175.1 515.9h0M175.5 507.1h0M163.1 507.1h0M167.6 509.9h0M175.8 502.9h0M166.5 515.4h0M175.3 527.2h0M172.9 503.4h0M162.9 503.9h0M170 512h0M169.1 505.3h0M168.4 509.4h0M173.4 510.7h0M164.4 500.9h0M179 509.3h0M168.5 509.8h0M176.8 507.6h0M170.7 508.2h0M173.3 502.2h0M170.9 518h0M177.1 514.8h0M171.5 522.2h0M174.1 520.9h0M161.9 501.5h0M174.7 508h0M166.8 502.7h0M179 500.8h0M170.3 499.2h0M168.5 527.4h0M185.1 506.2h0M163.1 522.6h0M164.1 496.2h0M171.8 501.7h0M160.3 518.7h0M164.9 501.8h0M170.7 508.6h0M176.7 510.8h0M179.7 518.8h0M180.9 518.7h0M170 514.2h0M169.7 498h0M162.1 515.8h0M154.5 503.6h0M161.4 509.5h0M163 511.9h0M168.3 506.4h0M170.1 500h0M167.7 512.9h0M176.3 515.5h0M179 499h0M173.9 522.2h0M172.1 501.4h0M172.1 506h0M165.5 518.3h0M168.5 501.4h0M165.3 525.2h0M164.2 515.2h0M170.7 519.1h0M167.8 502.7h0M165.5 502.1h0M186.1 511.5h0M167.6 519.8h0M173.8 508.6h0M173.6 512.1h0M176.8 522.8h0M167.6 509.7h0M168.4 519.5h0M172 516.1h0M175.3 505.1h0M170.4 520.7h0M175.5 516.3h0M167.8 507.2h0M164.2 507.9h0M169.2 498.9h0M177 504.1h0M171.2 514.7h0M166.1 496h0M175.7 513.2h0M168 518.8h0M175.3 502.6h0M169.1 496.4h0M167.9 520.9h0M164.3 516.4h0M160 507.7h0M175.6 523.3h0M172.5 515.9h0M158.8 524.6h0M185.3 514.6h0M170 512h0M172.4 522.2h0M173.7 525.2h0M178.4 529.1h0M179.2 528h0M174.6 536.1h0M165 531.1h0M173.7 522.2h0M177.6 516.2h0M168.5 524.8h0M177.8 530.2h0M176.4 529.9h0M169.9 523.4h0M170.7 517.5h0M173.6 523.3h0M173.6 518.7h0M170.6 523.4h0M169.9 520.5h0M169.3 518.1h0M177.9 529.2h0M173.5 524.9h0M168.2 521.6h0M170.7 520.8h0M170.4 528.9h0M172.8 523.5h0M171 527h0M170.4 524.5h0M176.8 530.1h0M175 521h0M175 516.9h0M177.2 534.3h0M182.8 522.9h0M171.7 524.3h0M169.4 527.1h0M170.4 522.1h0M176.1 519.3h0M182.4 528.4h0M174.6 521.3h0M166.6 514.6h0M174.3 523.9h0M173.5 521.2h0M171.5 516h0M167.7 532.5h0M168.8 504.9h0M177.6 521.7h0M169.1 516.8h0M172.6 532h0M171.4 527h0M179.2 538.4h0M173.4 516.4h0M169.1 519.7h0M167.2 524.1h0M178.1 524.5h0M176 524.1h0M172.8 527.2h0M179.3 537.9h0M181.4 525.4h0M170.5 512.8h0M180.5 540.9h0M173.6 532.3h0M177.2 521.6h0M172 523.6h0M176.9 524.8h0M182.7 530.8h0M181.5 541.9h0M171.2 522.8h0M170.7 521h0M172.4 526.2h0M172.7 514.8h0M166.9 523.5h0M174.3 529.3h0M188.5 554.8h0M180.4 540.2h0M189.2 550.5h0M184 540.7h0M182.4 543.4h0M182.4 537.4h0M173.5 525.9h0M187.6 551.6h0M186.7 537.8h0M186.3 559.9h0M195.7 562.4h0M187 550h0M188.3 553.4h0M180.9 530.2h0M201.4 562.2h0M176.2 531.4h0M181.8 537.2h0M173.4 535.1h0M175.9 528h0M188.4 542.8h0M189.7 552.8h0M183.9 548.3h0M177.5 540.7h0M182.1 535.4h0M186 546.5h0M194.1 549h0M183 538h0M187.7 557.7h0M177.3 519.9h0M185.3 539.1h0M186.7 542.3h0M182.5 541.3h0M188.9 550.6h0M179.5 537h0M188.2 545.1h0M185.7 542.5h0M193 547.5h0M182.6 538.9h0M175.3 524.4h0M177.9 536.1h0M181.5 537.5h0M193.9 542.7h0M195.8 558.8h0M181.4 538.4h0M190.8 545.6h0M191.9 549.3h0M178.6 536.2h0M181.5 543.1h0M180.5 530.5h0M174.6 530.9h0M192.9 544h0M177.4 530.6h0M176.8 537.5h0M176.6 530.5h0M188.7 551.5h0M183.6 541.8h0M175.7 542.5h0M179 535.5h0M178.7 542.9h0M177.3 538.3h0M178 543.1h0M181.3 532.4h0M176.1 527.9h0M187.5 544.4h0M186.5 549h0M180.8 542.9h0M187.7 537.8h0M185.8 552.5h0M183.1 537.7h0M168.1 528.7h0M186.4 556h0M179.5 533.4h0M193.9 551h0M183.1 546.5h0M180.3 547h0M180.9 526.1h0M179.9 535.6h0M183.2 541.9h0M188.4 547.8h0M189.9 548.7h0M191.6 548.3h0M183.2 545.6h0M177.6 534.7h0M190.1 539.9h0M172.3 523.5h0M186.4 547.8h0M179.6 536.8h0M185.6 535.8h0M181.6 540.7h0M187.8 550.1h0M184.3 539.4h0M180.8 539.8h0M186.3 535.4h0M176.7 526.8h0M187.5 546.1h0M188.3 541.3h0M186.3 542.6h0M196.6 556h0M179.4 533.9h0M184.2 539h0M188.9 546.3h0M181.2 537.1h0M177.5 530.1h0M179.2 533.2h0M184.9 541.2h0M176.2 531.4h0M179.7 535.3h0M186.2 547h0M179.1 528.6h0M192.7 550.6h0M187.7 541.3h0M191.8 555.6h0M174.2 528.9h0M184.8 543.2h0M173.8 532.8h0M189.2 538.4h0M182.2 534.8h0M177.8 542.2h0M183.4 533.1h0M177.1 542.7h0M182.3 541.6h0M178.5 540.3h0M186 549.3h0M188 547.9h0M171.9 523.4h0M180.2 548.9h0M190 546.7h0M173.6 526.3h0M183.7 545.2h0M185.2 535.7h0M198 562.1h0M212.4 578.9h0M186.5 582.4h0M194.7 554.9h0M188.6 562.6h0M191.8 563.1h0M204.5 574.3h0M198.8 553.8h0M199.4 563h0M186.8 571.5h0M189.8 552.2h0M216.9 579.6h0M216.3 571.2h0M199.4 569.1h0M190.7 577.6h0M205.6 566.9h0M186.1 568.9h0M217.9 584.9h0M211.1 566.4h0M204.4 575.7h0M204.9 580.7h0M197.1 546.2h0M181.1 560.7h0M190.5 576.8h0M212.9 570h0M208 570.8h0M204.7 565.2h0M199.4 582.2h0M200.7 569.6h0M214 580.1h0M199.5 572.6h0M193.9 571.4h0M206 570h0M204.6 573.7h0M180.1 561.5h0M203.8 565h0M194.3 567.6h0M217.7 567.7h0M197.2 565.1h0M192.3 575h0M194.1 579.3h0M211.4 575.9h0M212.6 569.1h0M187.1 569.3h0M208.9 554.2h0M192 581.2h0M207.1 583.8h0M209.2 570.7h0M207 578.7h0M202.9 567.9h0M206 566.8h0M189.3 556.7h0M212.6 565.8h0M204.6 567.8h0M205.6 555.1h0M203.9 564.1h0M213 576.4h0M191.6 560.1h0M208.3 582.3h0M210.1 568.4h0M198.2 560h0M193.7 575.8h0M205.7 572.9h0M201.9 576.4h0M210.3 564.1h0M211.7 560.5h0M200.5 558.9h0M203.5 583.5h0M196.3 588.3h0M216 574h0M197.7 579.3h0M177 562.1h0M211.9 569.6h0M190.9 567.8h0M208.4 587.5h0M187 571.6h0M214.7 563.1h0M198.9 557.5h0M210.2 578.5h0M208.5 572.5h0M212.2 568.7h0M209.7 578.4h0M215.1 575.3h0M203.9 577.3h0M188.9 551.9h0M218 571.4h0M193.5 564h0M201.7 570.7h0M196.1 580.3h0M193.1 587.1h0M209.3 552.7h0M191.8 570.6h0M205.6 565.6h0M203.2 571.7h0M192.6 570.6h0M193.8 576.9h0M215.6 580.8h0M197.3 569.2h0M205 567.8h0M206.8 581.2h0M208.2 569.9h0M201.3 588.5h0M191.7 590.7h0M210 570.9h0M196.2 589h0M214.4 579.4h0M204.1 566.8h0M196.4 570.8h0M208.1 575.4h0M201.8 556.3h0M208.3 576.3h0M222.8 579.7h0M203.3 558.1h0M205 577.7h0M207.8 583.8h0M193.5 562.9h0M204.8 557.3h0M197.4 584.3h0M205.9 568.9h0M197.8 570.5h0M202.8 558.8h0M210.5 556.7h0M215.1 566.5h0M181.8 553.9h0M205.8 561h0M220.1 584.3h0M222.8 579.3h0M215.8 563.7h0M215.3 565.5h0M202.7 555.9h0M203.7 574.2h0M202.5 558.5h0M211.6 579.5h0M202.3 578.2h0M212.4 559.8h0M202.8 550.7h0M193.4 574.5h0M194.9 574.1h0M206.5 548.5h0M198.6 585.8h0M203.3 571.3h0M196.5 553.3h0M201.4 560.9h0M204.2 549.8h0M216.3 587.9h0M196 573.4h0M194.6 578.9h0M195.2 568.5h0M215.5 575.5h0M200 554.1h0M188.1 582.6h0M208 570.6h0M215 571.5h0M196.2 568.9h0M202.2 569.9h0M205.7 567.4h0M196.7 559.6h0M185.3 565.2h0M188.7 550.6h0M194.2 548.8h0M216.1 583h0M193.9 591.4h0M209.4 543.6h0M203.3 559.6h0M186.6 567.3h0M214.1 574.7h0M189.2 563.1h0M195.9 582h0M202.2 559.7h0M194.4 549.4h0M195.1 579.4h0M184.9 572h0M202 578.6h0M192.2 579.5h0M187.6 569.7h0M201.1 571.3h0M193.7 579h0M225.4 585.8h0M194 563.9h0M210 571.4h0M195.8 583h0M208 580.7h0M201.4 583.4h0M198.6 558.3h0M203 555.3h0M215 577.7h0M187.1 571.8h0M211.2 566.2h0M207 563.9h0M202.4 569.1h0M207.7 559.8h0M192.3 573.5h0M198.2 575.5h0M198.3 556.2h0M210.1 572.8h0M210 566.4h0M199.6 583.3h0M186.9 588.3h0M208 569.4h0M203.9 576.4h0M195.7 572.9h0M194 550.6h0M205 571h0M209.2 575.9h0M209.7 578.3h0M193 582.8h0M191 577.2h0M211.8 580.6h0M206.6 574.9h0M215 560.6h0M203.3 566.1h0M201.5 568.5h0M201.6 551.4h0M202.7 570.7h0M199.4 532.6h0M196.4 563.1h0M194.7 586.9h0M211.9 568h0M193.8 575h0M197.3 585.7h0M213.6 568.7h0M208.9 561.6h0M187.9 578.9h0M218.7 566.8h0M198 551.1h0M193.8 567.9h0M214.6 570.6h0M202.8 570.2h0M211.1 569.6h0M204.5 569.2h0M192.4 584.2h0M196.4 556.1h0M198.9 570.3h0M210.9 554.5h0M190.9 571.9h0M206.7 558.4h0M192.2 571.8h0M201.7 552.9h0M194.6 585.7h0M192.9 581.1h0M188.4 585.7h0M218.3 563.3h0M196.5 576.6h0M191.2 575.8h0M214.7 572.8h0M206.1 568.3h0M212.6 561.4h0M218.2 569.8h0M199.9 552.8h0M198.8 572.5h0M214.9 553h0M201.8 562.8h0M191.6 570h0M195.8 579.2h0M177.3 577.8h0M184.8 549.4h0M208 566.4h0M204.2 559.8h0M193 562.2h0M202.5 561.1h0M199 560.9h0M205.2 558h0M183.1 542.3h0M202.8 571h0M212.2 562.2h0M192.1 554.3h0M210.2 563.4h0M212.4 569.2h0M200.4 550.4h0M196.5 578.3h0M197.2 577.1h0M187.3 580.7h0M206.1 557h0M198 563.1h0M204.8 548.7h0M194.8 578.3h0M204.4 577.8h0M211.1 557.9h0M190.2 574.9h0M203.3 570.8h0M195.2 580.7h0M207.7 582h0M199.6 577.3h0M202.4 560.1h0M202.2 552.5h0M201.3 571.9h0M209.6 558.9h0M190.3 562.3h0M183.3 563.1h0M195.8 562.8h0M201.9 569.2h0M196 562.4h0M187 561.1h0M215.4 584.9h0M200.3 577.4h0M207.4 571.2h0M201.7 582.8h0M208.4 567.6h0M200.8 579.8h0M197.3 562.4h0M200.4 564.8h0M215 573.8h0M202.2 564.4h0M216.5 574.6h0M222.9 579.6h0M201 564.2h0M200.3 571.9h0M210.5 575.1h0M203.3 555h0M193.2 563.7h0M196.8 559.8h0M188.5 582h0M199.9 580.2h0M192.5 545.6h0M197.3 579.3h0M197.7 574.2h0M192.7 584.7h0M207.1 581.1h0M200.4 583.5h0M203.7 564.9h0M196.9 570.6h0M194.3 557.4h0M204.2 577.5h0M200.2 578.9h0M218.1 556.7h0M205.4 559.8h0M196.9 571.9h0M180.4 576.4h0M211 575.7h0M209.2 589.1h0M199.5 581.5h0M216.8 575.2h0M186 568.3h0M200.2 552.9h0M202.4 578h0M200.5 568.1h0M217 563.5h0M194 570.4h0M213.7 576.2h0M203.7 564.8h0M214.7 579.3h0M186.5 573.5h0M180.1 585.7h0M208.8 563.4h0M190.7 566.8h0M186.3 575.9h0M198.1 551.4h0M202.8 582.4h0M190.9 566.2h0M220.3 571.9h0M197.7 572h0M210.4 559.4h0M202.1 552.8h0M187.9 553.8h0M211 573.3h0M210 582.8h0M203.4 572.5h0M206.9 574.9h0M192.9 567.1h0M201.5 570.4h0M195.8 568.6h0M205.7 571.9h0M208.6 578.6h0M208.3 580.2h0M211 584.7h0M209 563.5h0M225.2 581.9h0M214.9 577.7h0M203.4 557.9h0M207.2 566.3h0M199.2 547.5h0M217.7 557.7h0M192.5 574.9h0M208.4 561.6h0M202.9 572.6h0M204.5 575.5h0M210.4 566.1h0M187.6 592.8h0M199.3 559.6h0M210.1 576.2h0M180.6 583.5h0M202.6 573.2h0M206 567.5h0M206 556.3h0M199.2 589.5h0M178.4 583h0M181.7 561h0M211.4 565.7h0M197.5 554.2h0M201.8 568.1h0M196.9 553.5h0M204.5 574.4h0M213.9 575.4h0M217.5 582.6h0M176.1 587.5h0M202 559h0M207.1 580.1h0M188.2 557h0M209.5 564.2h0M216.9 572.3h0M197.7 556h0M208.7 551.9h0M190.6 556.2h0M219.2 588h0M200.9 566h0M209.7 583.1h0M201 581.9h0M180.5 569.4h0M196.3 590.9h0M200.9 556.6h0M203 556.8h0M209.5 572h0M200.2 565.8h0M197.5 562.4h0M189.6 582.7h0M211.5 555.3h0M191.9 574.3h0M200 567.3h0M205.4 568.1h0M213.3 580.3h0M208.3 586.6h0M200.8 564.2h0M188.1 545.2h0M206.4 558.7h0M213.1 547.9h0M201.7 565.9h0M192.7 581.8h0M199.2 574.7h0M198 571.6h0M198.7 570.8h0M202 562.8h0M207.2 568h0M193.7 558.9h0M207.2 584h0M190.5 565.6h0M207.3 581h0M209.8 557.5h0M203.3 579.5h0M205.3 567.6h0M191.7 571.7h0M202.4 570.3h0M217.3 582.5h0M195.4 572.4h0M200 571h0M218.6 579.6h0M203.4 563.1h0M201.4 573.8h0M198.2 581.6h0M203.2 557.5h0M200.4 568.7h0M212.4 581.7h0M216.9 586.4h0M206 571.2h0M212.7 569.7h0M191 565.2h0M209.3 576.4h0M192.4 582.6h0M205.9 554.2h0M207.5 580.6h0M208.1 566.7h0M195.3 581.8h0M205.2 569.9h0M199.2 559.1h0M185.1 566.4h0M213.6 578h0M196.5 586.1h0M200.8 559.4h0M212.3 584.6h0M199.3 557.1h0M202.4 544.4h0M203.5 586.1h0M205.6 562.3h0M209.8 564.8h0M215.1 566.2h0M222.4 566.3h0M204.8 560.1h0M190.8 573.6h0M206.3 559.8h0M208.3 565.6h0M197.7 569.2h0M206.8 577.6h0M214.8 574h0M196.1 562.8h0M206.5 557.4h0M201.4 565.9h0M202.1 571.9h0M212.9 587.3h0M211.4 580.6h0M192.8 580.9h0M215.4 555.7h0M180.3 588.6h0M203.6 561.6h0M197.5 581.3h0M205.4 566h0M214 560.1h0M194.9 564.1h0M195.9 577.3h0M200.8 558.9h0M198.6 549.1h0M204.6 571.1h0M208.8 567.5h0M206.8 560.2h0M203.2 571.6h0M191.4 576.2h0M204.4 570.5h0M198.4 591.1h0M203 561.9h0M194.9 576.2h0M201 561.7h0M196.1 579.8h0M203.8 581.1h0M202.8 557.6h0M211.3 573.3h0M196.8 566.7h0M193.7 578.7h0M199 575h0M205.5 567.3h0M206.5 567.4h0M191.8 565.6h0M191.8 577.9h0M209.2 563.8h0M208.9 572.6h0M212.3 560.2h0M203.2 559.6h0M196.5 584.4h0M183.9 560.4h0M207.6 578.2h0M195.5 548.7h0M186.6 573.8h0M213.5 579.5h0M196 584.2h0M201.2 576.5h0M201.2 586.7h0M198.1 547.5h0M200 572h0M205.6 562.5h0M200.8 558.1h0M200.8 570.9h0M205.3 587.3h0M184 575.4h0M207.1 557.8h0M203.7 569.9h0M193.5 577.6h0M221.1 577.1h0M210.4 581.2h0M201.8 580.2h0M195.3 571.9h0M209.7 583.7h0M200.3 566.9h0M207.4 569.2h0M204.3 578.4h0M195.7 579.2h0M206.6 567.2h0M191.1 563.4h0M202.6 579.8h0M184.3 577.4h0M204.8 558.2h0M211.1 574.1h0M207.1 559.8h0M192.5 579.5h0M216.3 573.8h0M201.2 565.3h0M186.8 580.3h0M202.1 582.9h0M196.2 581h0M196.2 576.1h0M216 562.6h0M211.6 569.9h0M194.1 572.1h0M209.1 562.5h0M200.5 564.1h0M195.7 567.8h0M210.8 564.8h0M214.8 566h0M196.5 581.2h0M216.3 563.2h0M208.5 557.9h0M199.2 566.1h0M209.7 556.9h0M198.2 562.8h0M203.9 557.2h0M205 554.3h0M210.8 556.3h0M185.3 587.4h0M214.8 561.3h0M192.7 574.9h0M222.1 576.2h0M209.2 557.7h0M186.2 574h0M212.5 571.4h0M202.9 584.4h0M195.1 581.4h0M194.6 554.5h0M192.8 556.3h0M193.9 553.6h0M191.9 556.2h0M192.6 556.1h0M193.1 555.5h0M191.3 558.5h0M190.9 555.2h0M190.3 553.2h0M193.6 555.9h0M192.2 557.1h0M192.1 557.7h0M197 556.9h0M191.8 560.1h0M194.2 551.9h0M195.8 556.5h0M194.6 553.2h0M190.4 554.4h0M193.9 553.2h0M190.8 558.3h0M190.9 556.3h0M190.3 551.8h0M192.3 555.7h0M189 558.4h0M194.5 558.2h0M191.2 553.2h0M192.3 556.4h0M192.1 554.6h0M190 554.2h0M192.3 554.8h0M196.6 555.3h0M193.6 554.9h0M192 553.6h0M191.3 552.3h0M187.4 559.3h0M189.9 557.1h0M192.2 554.6h0M194.3 554.6h0M193.6 555.1h0M194.9 558.3h0M192.7 558.7h0M193.7 559.8h0M192.2 552.2h0M193 556.6h0M191.6 555.5h0M191.8 552.9h0M196.7 554.1h0M189.9 552.1h0M190.4 555.9h0M196.1 557.5h0M190.7 552.9h0M189.8 555.8h0M194.6 554.8h0M196.4 560.7h0M192.9 550.7h0M195.2 555.8h0M194.1 558.4h0M190 556.2h0M192.9 554.2h0M194.2 555.7h0M191.5 560.6h0M192.9 560h0M192.1 558.5h0M190.7 556.4h0M195.1 550.7h0M193.8 555.3h0M195.2 556.4h0M192.3 552.9h0M199.7 554.2h0M191.7 554.2h0M185.2 580.4h0M182.3 582.1h0M185.3 581.2h0M180.2 579h0M185.2 579.2h0M184.2 580.6h0M187.1 578.1h0M180.6 581.4h0M185.1 582.1h0M188.4 579.8h0M182.1 579.3h0M184 582.4h0M181.3 581.8h0M181.8 578.9h0M182.1 578.6h0M184.8 580.7h0M184.4 581.3h0M190.8 580.3h0M182.8 579.6h0M185.7 579.3h0M189.1 582.3h0M191.5 581h0M178.7 579.7h0M187.8 578.4h0M184.3 581.8h0M186.4 577.8h0M184.4 574h0M186 577.6h0M185.8 577.7h0M183.4 579h0M193.6 577.7h0M182.7 578.9h0M188.9 581.6h0M187.9 579.4h0M186.3 578.5h0M185.5 578.4h0M182 578h0M191.3 580.8h0M183.9 579.8h0M184.7 582.4h0M185.9 578.7h0M187.8 580.6h0M184.1 578.5h0M186.4 576.8h0M183.5 582h0M188.3 582.2h0M184.8 578.8h0M185.2 579.1h0M189.5 579.6h0M189.7 578.6h0M208.6 590.7h0M205.3 586.2h0M205.7 584.3h0M206.6 586.2h0M213.9 586.6h0M201.2 589.3h0M210.3 587.4h0M208.3 588.9h0M205.8 587.6h0M207.9 590.7h0M211.6 587.8h0M203.5 589.2h0M207.3 589.8h0M207.6 587.8h0M209.4 586.1h0M205.5 592h0M204.9 589.3h0M209.5 589.1h0M211.5 584.9h0M210.3 583.5h0M207.6 588.2h0M210.5 589.6h0M204.7 587h0M207 586.1h0M205.1 586.2h0M210.8 590.2h0M209.7 590.8h0M207.7 585.4h0M205.6 587.9h0M210.5 589.9h0M204.8 589.4h0M205.9 588.7h0M210.1 590.4h0M205.9 588h0M208.7 586.7h0M207.7 588.7h0M202.7 586.2h0M214.2 588.4h0M205.8 583.9h0M204.7 588.5h0M209.4 588.4h0M209.2 586.3h0M212.1 585.3h0M209 587h0M202.5 589.3h0M206.7 588.9h0M211.2 587.8h0M205.5 587.1h0M207.3 590.3h0M210 590.6h0" fill="none" stroke="#ee3068" stroke-width="0.8" stroke-linecap="round" stroke-opacity="0.85"/>
<path d="M190.8 495.5h0M192.1 505.7h0M183.9 502.7h0M182.4 492.6h0M184.2 504.5h0M182.1 486.8h0M178.7 506.4h0M186.6 506.6h0M179 497.5h0M177.1 495.4h0M188.9 500.8h0M181.1 501.7h0M174.7 497.7h0M173.2 491.2h0M174.3 493.5h0M197.2 508.1h0M194.7 496.6h0M189.7 493.3h0M180.7 501.4h0M172.4 501.2h0M189.7 487.8h0M165.9 498.4h0M183.9 500.8h0M176.1 503.3h0M185.8 495.7h0M197.7 501.5h0M190.6 510.9h0M181 498.7h0M171.4 498.6h0M188.3 514.8h0M204.3 526.6h0M190 518.3h0M185.5 514.1h0M200.7 527.3h0M192.8 523.3h0M193.6 529.9h0M204.8 520.6h0M196.3 515.3h0M196.2 542.2h0M199.8 531.8h0M204.4 536.6h0M197.3 517.9h0M208 532.3h0M194.7 533.6h0M199.8 524.7h0M214.2 529.2h0M202.3 522.5h0M201.4 533.3h0M203.4 519h0M203.4 524.1h0M202.3 523.5h0M182.9 512.2h0M196.9 507.6h0M188.1 541h0M205.3 521.4h0M202.4 507.3h0M201.8 532.8h0M201.3 514.6h0M207.4 520.8h0M195.4 526.6h0M146.9 590.1h0M148.5 591.2h0M154.2 557.7h0M149.8 570.5h0M163.8 582.7h0M174.8 563.4h0M145.6 593.1h0M141.1 573.5h0M165.5 560h0M146.4 562.6h0M155 574h0M149.5 576.5h0M142.2 566.3h0M154.4 590h0M149.5 570.6h0M162.6 570.7h0M162.5 572.4h0M161.1 571.8h0M140.9 561.5h0M154 588.7h0" fill="none" stroke="#eadfe0" stroke-width="0.7" stroke-linecap="round"/>
<path d="M171.4 537.5h0M176.6 531.2h0M148.8 547.4h0M143.2 547.2h0M159 545h0M145.8 543h0M163.7 539.6h0M164.4 540.2h0M158.7 537.5h0M144.6 538.7h0M160 534h0M139.6 527.7h0M166.8 538.2h0M149.5 549.9h0M154.4 528h0M152.2 533h0M154.3 532.7h0M156.4 543.6h0M151.1 538.4h0M154.6 546.6h0M149.9 546h0M166.3 538.5h0M147.8 537.5h0M141.1 535.7h0M145.9 538.6h0M152.8 544.1h0M156.8 543.4h0M155.5 542.2h0M146.4 545.3h0M166.7 548.9h0M144.7 543.3h0M142.3 546h0M154.2 536.3h0M149.6 538.1h0M155.8 532.3h0M156.4 542.1h0M160.3 539.6h0M155.8 558.5h0M164.3 542.6h0M144.3 544.9h0M160.7 518.8h0M154.5 543.1h0M156.2 540.8h0M154.6 551.1h0M159.1 537.7h0M154 556.7h0M148.7 535.8h0M158.6 541.2h0M158.4 550.8h0M165.4 543.4h0M156.2 539.5h0M154 548h0M145.3 531.7h0M152.1 532.3h0M149.7 549.6h0M137.1 544.6h0M144.9 538.1h0M151.1 532.1h0M143.5 540.6h0M131.1 523.1h0M152.6 548.8h0M171.4 537.7h0M149.2 537.7h0M159.8 547.5h0M147.9 543.8h0M155.6 549.1h0M152.5 538.3h0M148.8 529.4h0M158.2 545.7h0M165.3 542.1h0M152 532.7h0M146.2 534.2h0M158.7 540.7h0M136.7 539.2h0M153.5 531.6h0M155.7 544.2h0M147.2 529.2h0M153.2 542.1h0M153.7 552.4h0M157.1 532h0M162.4 534.8h0M161.7 540.8h0M166.2 532h0M162 543.4h0M148.3 545.6h0M174.9 542.9h0M149.5 538.8h0M166.8 542h0M168.3 534.8h0M166.9 527.4h0M154.5 537.6h0M151.8 549.8h0M150.9 542.8h0M171.5 546.6h0M152.4 534.2h0M145.1 563h0M170.8 568.9h0M165.1 577.3h0M169.8 541.5h0M155.1 566.4h0M159.4 566.7h0M185.8 553.9h0M182.7 559.4h0M149.8 560.8h0M171 555.4h0M177 553h0M161.2 567.4h0M161 555.5h0M162.8 565.2h0M178.4 570.9h0M179.7 559.8h0M148.1 559.7h0M159.3 552h0M158.3 559.5h0M163.4 567.3h0M154.8 569.2h0M163.4 565.9h0M174.1 550.1h0M177.2 554.3h0M166.5 568.7h0M171.2 547.5h0M164.4 569.1h0M161.9 559.4h0M163.6 573.1h0M158.1 552.5h0M153.1 555.8h0M160.8 562.8h0M162.2 546.2h0M148.9 565.5h0M169.5 549.2h0M171.4 540.5h0M183.8 564.7h0M148.1 564.1h0M162.7 556.4h0M159.7 558.2h0M162.1 552.8h0M157.9 564.5h0M167.7 549.3h0M158.6 572.5h0M169.4 573.2h0M150.8 551.7h0M143.5 544.5h0M159.6 551.6h0M153.2 554.4h0M161.3 566.7h0M175.9 572h0M182.4 577.7h0M165 578.9h0M169.2 573.4h0M182.9 576.7h0M167.8 581.2h0M183.7 580.9h0M165.7 580.8h0M179.7 580.5h0M176.5 577.1h0M171.5 572.3h0M167 574.4h0M172 585h0M156.2 573.7h0M165.5 578.6h0M180.1 575.9h0M166.5 583.9h0M174.6 581.1h0M177.8 576h0M173.6 576.4h0M166.9 579.5h0M175 573.9h0M166.6 581.4h0M173.2 581.7h0M169.8 575.8h0M177.5 581.4h0M152.1 582.5h0M166.7 581.7h0M183 577.9h0M165.2 580h0M172.6 581.3h0M162.1 580h0M178.3 581.8h0M176.4 583.8h0M166.2 583.9h0M186.5 578h0M185.3 580.5h0M186.8 582.7h0M186.5 579h0M191.5 579.3h0M183.9 581.9h0M185 578.4h0M183.3 582.4h0M183.3 580.2h0M184.9 579.6h0M183.9 580.3h0M187.5 582.1h0M185.1 577.7h0M182.3 580h0M179.8 582.7h0M186.1 580.3h0M182.5 578.7h0M184.1 581.4h0M185 581.2h0M187.3 576.1h0M201.8 566.3h0M200.4 560.7h0M202.4 553.9h0M213.9 559.4h0M206.2 557.8h0M210 565.8h0M208.9 564.8h0M206.5 567h0M205 560.7h0M207.1 555.6h0M185.6 582.7h0M207.2 572.1h0M203.8 570.4h0M199.2 578.4h0M207 582.9h0M205.3 581.5h0M211.5 572.1h0M192.4 572.2h0M204 573.3h0M223.7 572.3h0M209.8 571.7h0M211.5 568.2h0M213.6 578.3h0M202.8 568.7h0M219.4 573h0M217.6 560.2h0M134 555.9h0M149 545.2h0M145 548.7h0M138.2 545.8h0M134.2 537h0M140.6 549.4h0M140.8 537.7h0M144.3 545.6h0M238.6 530.8h0M240.6 529.8h0M170 507.6h0M167.8 511.4h0M166 524h0M164 523.2h0M168.4 525h0M214 566h0M218 572h0M206 587h0M209 588h0" fill="none" stroke="#4a0a12" stroke-width="1.7" stroke-linecap="round"/>
<line x1="122.6" y1="571.7" x2="122.6" y2="599.6" stroke="#c9c9c9" stroke-width="0.6"/>
<line x1="122.6" y1="599.6" x2="150" y2="599.6" stroke="#c9c9c9" stroke-width="0.6"/>
<text x="124.2" y="571.3" font-size="3.9" fill="#555" transform="rotate(-90 124.2 571.3)">+UMAP2</text>
<text x="150.8" y="601" font-size="3.9" fill="#555">+UMAP1</text>
<circle cx="147.2" cy="605.6" r="1.55" fill="#4a0a10"/>
<text x="152.6" y="607.5" font-size="5.2">PT</text>
<circle cx="164.5" cy="605.6" r="1.55" fill="#ee1a5e"/>
<text x="168.8" y="607.5" font-size="5.2">Metastasis</text>
<circle cx="199.0" cy="605.6" r="1.2" fill="#e2e2e2"/>
<text x="204.6" y="607.5" font-size="5.2">Other cells</text>
<text x="255.4" y="324.2" font-size="12" font-weight="bold" stroke="#000" stroke-width="0.3">F</text>
<line x1="270" y1="436.12" x2="379.3" y2="436.12" stroke="#f5f5f5" stroke-width="0.4"/>
<line x1="270" y1="413.08" x2="379.3" y2="413.08" stroke="#f5f5f5" stroke-width="0.4"/>
<line x1="270" y1="390.04" x2="379.3" y2="390.04" stroke="#f5f5f5" stroke-width="0.4"/>
<line x1="270" y1="367" x2="379.3" y2="367" stroke="#f5f5f5" stroke-width="0.4"/>
<line x1="270" y1="343.96" x2="379.3" y2="343.96" stroke="#f5f5f5" stroke-width="0.4"/>
<line x1="270" y1="424.6" x2="379.3" y2="424.6" stroke="#ededed" stroke-width="0.6"/>
<line x1="270" y1="401.56" x2="379.3" y2="401.56" stroke="#ededed" stroke-width="0.6"/>
<line x1="270" y1="378.52" x2="379.3" y2="378.52" stroke="#ededed" stroke-width="0.6"/>
<line x1="270" y1="355.48" x2="379.3" y2="355.48" stroke="#ededed" stroke-width="0.6"/>
<line x1="300.5" y1="335" x2="300.5" y2="445.5" stroke="#ededed" stroke-width="0.6"/>
<line x1="350.5" y1="335" x2="350.5" y2="445.5" stroke="#ededed" stroke-width="0.6"/>
<rect x="270" y="335" width="109.3" height="110.5" fill="none" stroke="#dcdcdc" stroke-width="0.7"/>
<text x="325" y="331.6" font-size="6.38" text-anchor="middle">Centroid−centroid distance</text>
<text x="267.8" y="426.8" font-size="5.15" text-anchor="end" fill="#4a4a4a">6</text>
<text x="267.8" y="403.76" font-size="5.15" text-anchor="end" fill="#4a4a4a">9</text>
<text x="267.8" y="380.72" font-size="5.15" text-anchor="end" fill="#4a4a4a">12</text>
<text x="267.8" y="357.68" font-size="5.15" text-anchor="end" fill="#4a4a4a">15</text>
<text x="300.5" y="451.9" font-size="5.15" text-anchor="middle" fill="#4a4a4a">Non common</text>
<text x="350.5" y="451.9" font-size="5.15" text-anchor="middle" fill="#4a4a4a">Common</text>
<text x="259.4" y="390.25" font-size="6.7" text-anchor="middle" transform="rotate(-90 259.4 390.25)">Distance</text>
<line x1="300.5" y1="360" x2="300.5" y2="392.5" stroke="#444" stroke-width="0.55"/>
<line x1="300.5" y1="414.5" x2="300.5" y2="440" stroke="#444" stroke-width="0.55"/>
<rect x="281.75" y="392.5" width="37.5" height="22" fill="#a9a9a9" stroke="#4a4a4a" stroke-width="0.55"/>
<line x1="281.75" y1="403.8" x2="319.25" y2="403.8" stroke="#4a4a4a" stroke-width="1.3"/>
<line x1="300.5" y1="347.4" x2="300.5" y2="359.6" stroke="#111" stroke-width="1.9" stroke-linecap="round"/>
<circle cx="300.5" cy="344.9" r="0.95" fill="#111"/>
<line x1="350.5" y1="397.5" x2="350.5" y2="411.3" stroke="#444" stroke-width="0.55"/>
<line x1="350.5" y1="428.8" x2="350.5" y2="437.5" stroke="#444" stroke-width="0.55"/>
<rect x="331.75" y="411.3" width="37.5" height="17.5" fill="#fff" stroke="#4a4a4a" stroke-width="0.55"/>
<line x1="331.75" y1="417.6" x2="369.25" y2="417.6" stroke="#4a4a4a" stroke-width="1.3"/>
<path d="M300.5 342.1V340.3H350.5V342.1" fill="none" stroke="#6a6a6a" stroke-width="0.5"/>
<text x="325.5" y="339.4" font-size="4.5" text-anchor="middle" fill="#111">0.0018</text>
<line x1="409.2" y1="428" x2="518.8" y2="428" stroke="#f5f5f5" stroke-width="0.4"/>
<line x1="409.2" y1="400.6" x2="518.8" y2="400.6" stroke="#f5f5f5" stroke-width="0.4"/>
<line x1="409.2" y1="373.2" x2="518.8" y2="373.2" stroke="#f5f5f5" stroke-width="0.4"/>
<line x1="409.2" y1="345.8" x2="518.8" y2="345.8" stroke="#f5f5f5" stroke-width="0.4"/>
<line x1="409.2" y1="441.7" x2="518.8" y2="441.7" stroke="#ededed" stroke-width="0.6"/>
<line x1="409.2" y1="414.3" x2="518.8" y2="414.3" stroke="#ededed" stroke-width="0.6"/>
<line x1="409.2" y1="386.9" x2="518.8" y2="386.9" stroke="#ededed" stroke-width="0.6"/>
<line x1="409.2" y1="359.5" x2="518.8" y2="359.5" stroke="#ededed" stroke-width="0.6"/>
<line x1="439.5" y1="334.9" x2="439.5" y2="446" stroke="#ededed" stroke-width="0.6"/>
<line x1="489.4" y1="334.9" x2="489.4" y2="446" stroke="#ededed" stroke-width="0.6"/>
<rect x="409.2" y="334.9" width="109.6" height="111.1" fill="none" stroke="#dcdcdc" stroke-width="0.7"/>
<text x="464.2" y="331.5" font-size="6.38" text-anchor="middle">Hausdorff sizes distance</text>
<text x="407" y="443.9" font-size="5.15" text-anchor="end" fill="#4a4a4a">0.0</text>
<text x="407" y="416.5" font-size="5.15" text-anchor="end" fill="#4a4a4a">0.2</text>
<text x="407" y="389.1" font-size="5.15" text-anchor="end" fill="#4a4a4a">0.4</text>
<text x="407" y="361.7" font-size="5.15" text-anchor="end" fill="#4a4a4a">0.6</text>
<text x="439.5" y="452.4" font-size="5.15" text-anchor="middle" fill="#4a4a4a">Non common</text>
<text x="489.4" y="452.4" font-size="5.15" text-anchor="middle" fill="#4a4a4a">Common</text>
<text x="397.8" y="390.45" font-size="6.7" text-anchor="middle" transform="rotate(-90 397.8 390.45)">Distance</text>
<line x1="439.5" y1="385" x2="439.5" y2="414.4" stroke="#444" stroke-width="0.55"/>
<line x1="439.5" y1="433.6" x2="439.5" y2="441" stroke="#444" stroke-width="0.55"/>
<rect x="420.75" y="414.4" width="37.5" height="19.2" fill="#a9a9a9" stroke="#4a4a4a" stroke-width="0.55"/>
<line x1="420.75" y1="426.6" x2="458.25" y2="426.6" stroke="#4a4a4a" stroke-width="1.3"/>
<line x1="439.5" y1="349" x2="439.5" y2="384.6" stroke="#111" stroke-width="1.9" stroke-linecap="round"/>
<circle cx="439.5" cy="345.2" r="0.95" fill="#111"/>
<circle cx="439.5" cy="347" r="0.95" fill="#111"/>
<line x1="489.4" y1="419.6" x2="489.4" y2="427.4" stroke="#444" stroke-width="0.55"/>
<line x1="489.4" y1="439.6" x2="489.4" y2="441" stroke="#444" stroke-width="0.55"/>
<rect x="470.65" y="427.4" width="37.5" height="12.2" fill="#fff" stroke="#4a4a4a" stroke-width="0.55"/>
<line x1="470.65" y1="435.7" x2="508.15" y2="435.7" stroke="#4a4a4a" stroke-width="1.3"/>
<circle cx="489.4" cy="382" r="0.95" fill="#111"/>
<path d="M439.5 342V340.2H489.4V342" fill="none" stroke="#6a6a6a" stroke-width="0.5"/>
<text x="464.45" y="339.3" font-size="4.5" text-anchor="middle" fill="#111">0.032</text>
<line x1="270" y1="572.61" x2="379.3" y2="572.61" stroke="#f5f5f5" stroke-width="0.4"/>
<line x1="270" y1="550.23" x2="379.3" y2="550.23" stroke="#f5f5f5" stroke-width="0.4"/>
<line x1="270" y1="527.85" x2="379.3" y2="527.85" stroke="#f5f5f5" stroke-width="0.4"/>
<line x1="270" y1="505.47" x2="379.3" y2="505.47" stroke="#f5f5f5" stroke-width="0.4"/>
<line x1="270" y1="583.8" x2="379.3" y2="583.8" stroke="#ededed" stroke-width="0.6"/>
<line x1="270" y1="561.42" x2="379.3" y2="561.42" stroke="#ededed" stroke-width="0.6"/>
<line x1="270" y1="539.04" x2="379.3" y2="539.04" stroke="#ededed" stroke-width="0.6"/>
<line x1="270" y1="516.66" x2="379.3" y2="516.66" stroke="#ededed" stroke-width="0.6"/>
<line x1="270" y1="494.28" x2="379.3" y2="494.28" stroke="#ededed" stroke-width="0.6"/>
<line x1="300.5" y1="485" x2="300.5" y2="595.5" stroke="#ededed" stroke-width="0.6"/>
<line x1="350.5" y1="485" x2="350.5" y2="595.5" stroke="#ededed" stroke-width="0.6"/>
<rect x="270" y="485" width="109.3" height="110.5" fill="none" stroke="#dcdcdc" stroke-width="0.7"/>
<text x="325.6" y="481.6" font-size="6.38" text-anchor="middle">Wasserstein distance</text>
<text x="267.8" y="586" font-size="5.15" text-anchor="end" fill="#4a4a4a">0.2</text>
<text x="267.8" y="563.62" font-size="5.15" text-anchor="end" fill="#4a4a4a">0.3</text>
<text x="267.8" y="541.24" font-size="5.15" text-anchor="end" fill="#4a4a4a">0.4</text>
<text x="267.8" y="518.86" font-size="5.15" text-anchor="end" fill="#4a4a4a">0.5</text>
<text x="267.8" y="496.48" font-size="5.15" text-anchor="end" fill="#4a4a4a">0.6</text>
<text x="300.5" y="601.9" font-size="5.15" text-anchor="middle" fill="#4a4a4a">Non common</text>
<text x="350.5" y="601.9" font-size="5.15" text-anchor="middle" fill="#4a4a4a">Common</text>
<text x="259.4" y="540.25" font-size="6.7" text-anchor="middle" transform="rotate(-90 259.4 540.25)">Distance</text>
<line x1="300.5" y1="501.3" x2="300.5" y2="532" stroke="#444" stroke-width="0.55"/>
<line x1="300.5" y1="552.5" x2="300.5" y2="584.5" stroke="#444" stroke-width="0.55"/>
<rect x="281.75" y="532" width="37.5" height="20.5" fill="#a9a9a9" stroke="#4a4a4a" stroke-width="0.55"/>
<line x1="281.75" y1="543.3" x2="319.25" y2="543.3" stroke="#4a4a4a" stroke-width="1.3"/>
<line x1="300.5" y1="494.6" x2="300.5" y2="501" stroke="#111" stroke-width="1.9" stroke-linecap="round"/>
<line x1="300.5" y1="585" x2="300.5" y2="590.8" stroke="#111" stroke-width="1.9" stroke-linecap="round"/>
<line x1="350.5" y1="527.5" x2="350.5" y2="547" stroke="#444" stroke-width="0.55"/>
<line x1="350.5" y1="568.3" x2="350.5" y2="583.8" stroke="#444" stroke-width="0.55"/>
<rect x="331.75" y="547" width="37.5" height="21.3" fill="#fff" stroke="#4a4a4a" stroke-width="0.55"/>
<line x1="331.75" y1="561.8" x2="369.25" y2="561.8" stroke="#4a4a4a" stroke-width="1.3"/>
<path d="M300.5 492.1V490.3H350.5V492.1" fill="none" stroke="#6a6a6a" stroke-width="0.5"/>
<text x="325.5" y="489.4" font-size="4.5" text-anchor="middle" fill="#111">0.0062</text>
<line x1="409.2" y1="574.67" x2="518.8" y2="574.67" stroke="#f5f5f5" stroke-width="0.4"/>
<line x1="409.2" y1="537.02" x2="518.8" y2="537.02" stroke="#f5f5f5" stroke-width="0.4"/>
<line x1="409.2" y1="499.38" x2="518.8" y2="499.38" stroke="#f5f5f5" stroke-width="0.4"/>
<line x1="409.2" y1="593.5" x2="518.8" y2="593.5" stroke="#ededed" stroke-width="0.6"/>
<line x1="409.2" y1="555.85" x2="518.8" y2="555.85" stroke="#ededed" stroke-width="0.6"/>
<line x1="409.2" y1="518.2" x2="518.8" y2="518.2" stroke="#ededed" stroke-width="0.6"/>
<line x1="439.5" y1="484.9" x2="439.5" y2="596.6" stroke="#ededed" stroke-width="0.6"/>
<line x1="489.4" y1="484.9" x2="489.4" y2="596.6" stroke="#ededed" stroke-width="0.6"/>
<rect x="409.2" y="484.9" width="109.6" height="111.7" fill="none" stroke="#dcdcdc" stroke-width="0.7"/>
<text x="464.2" y="481.5" font-size="6.38" text-anchor="middle">Wasserstein (clusters) distance</text>
<text x="407" y="595.7" font-size="5.15" text-anchor="end" fill="#4a4a4a">0.0</text>
<text x="407" y="558.05" font-size="5.15" text-anchor="end" fill="#4a4a4a">0.1</text>
<text x="407" y="520.4" font-size="5.15" text-anchor="end" fill="#4a4a4a">0.2</text>
<text x="439.5" y="603" font-size="5.15" text-anchor="middle" fill="#4a4a4a">Non common</text>
<text x="489.4" y="603" font-size="5.15" text-anchor="middle" fill="#4a4a4a">Common</text>
<text x="397.8" y="540.75" font-size="6.7" text-anchor="middle" transform="rotate(-90 397.8 540.75)">Distance</text>
<line x1="439.5" y1="545.5" x2="439.5" y2="565" stroke="#444" stroke-width="0.55"/>
<line x1="439.5" y1="578.4" x2="439.5" y2="591.4" stroke="#444" stroke-width="0.55"/>
<rect x="420.75" y="565" width="37.5" height="13.4" fill="#a9a9a9" stroke="#4a4a4a" stroke-width="0.55"/>
<line x1="420.75" y1="572.7" x2="458.25" y2="572.7" stroke="#4a4a4a" stroke-width="1.3"/>
<line x1="439.5" y1="499" x2="439.5" y2="545" stroke="#111" stroke-width="1.9" stroke-linecap="round"/>
<circle cx="439.5" cy="495" r="0.95" fill="#111"/>
<line x1="489.4" y1="564.2" x2="489.4" y2="574" stroke="#444" stroke-width="0.55"/>
<line x1="489.4" y1="582.6" x2="489.4" y2="583.6" stroke="#444" stroke-width="0.55"/>
<rect x="470.65" y="574" width="37.5" height="8.6" fill="#fff" stroke="#4a4a4a" stroke-width="0.55"/>
<line x1="470.65" y1="579.2" x2="508.15" y2="579.2" stroke="#4a4a4a" stroke-width="1.3"/>
<circle cx="489.4" cy="556.9" r="0.95" fill="#111"/>
<path d="M439.5 492V490.2H489.4V492" fill="none" stroke="#6a6a6a" stroke-width="0.5"/>
<text x="464.45" y="489.3" font-size="4.5" text-anchor="middle" fill="#111">0.055</text>
</svg>
</body></html>
